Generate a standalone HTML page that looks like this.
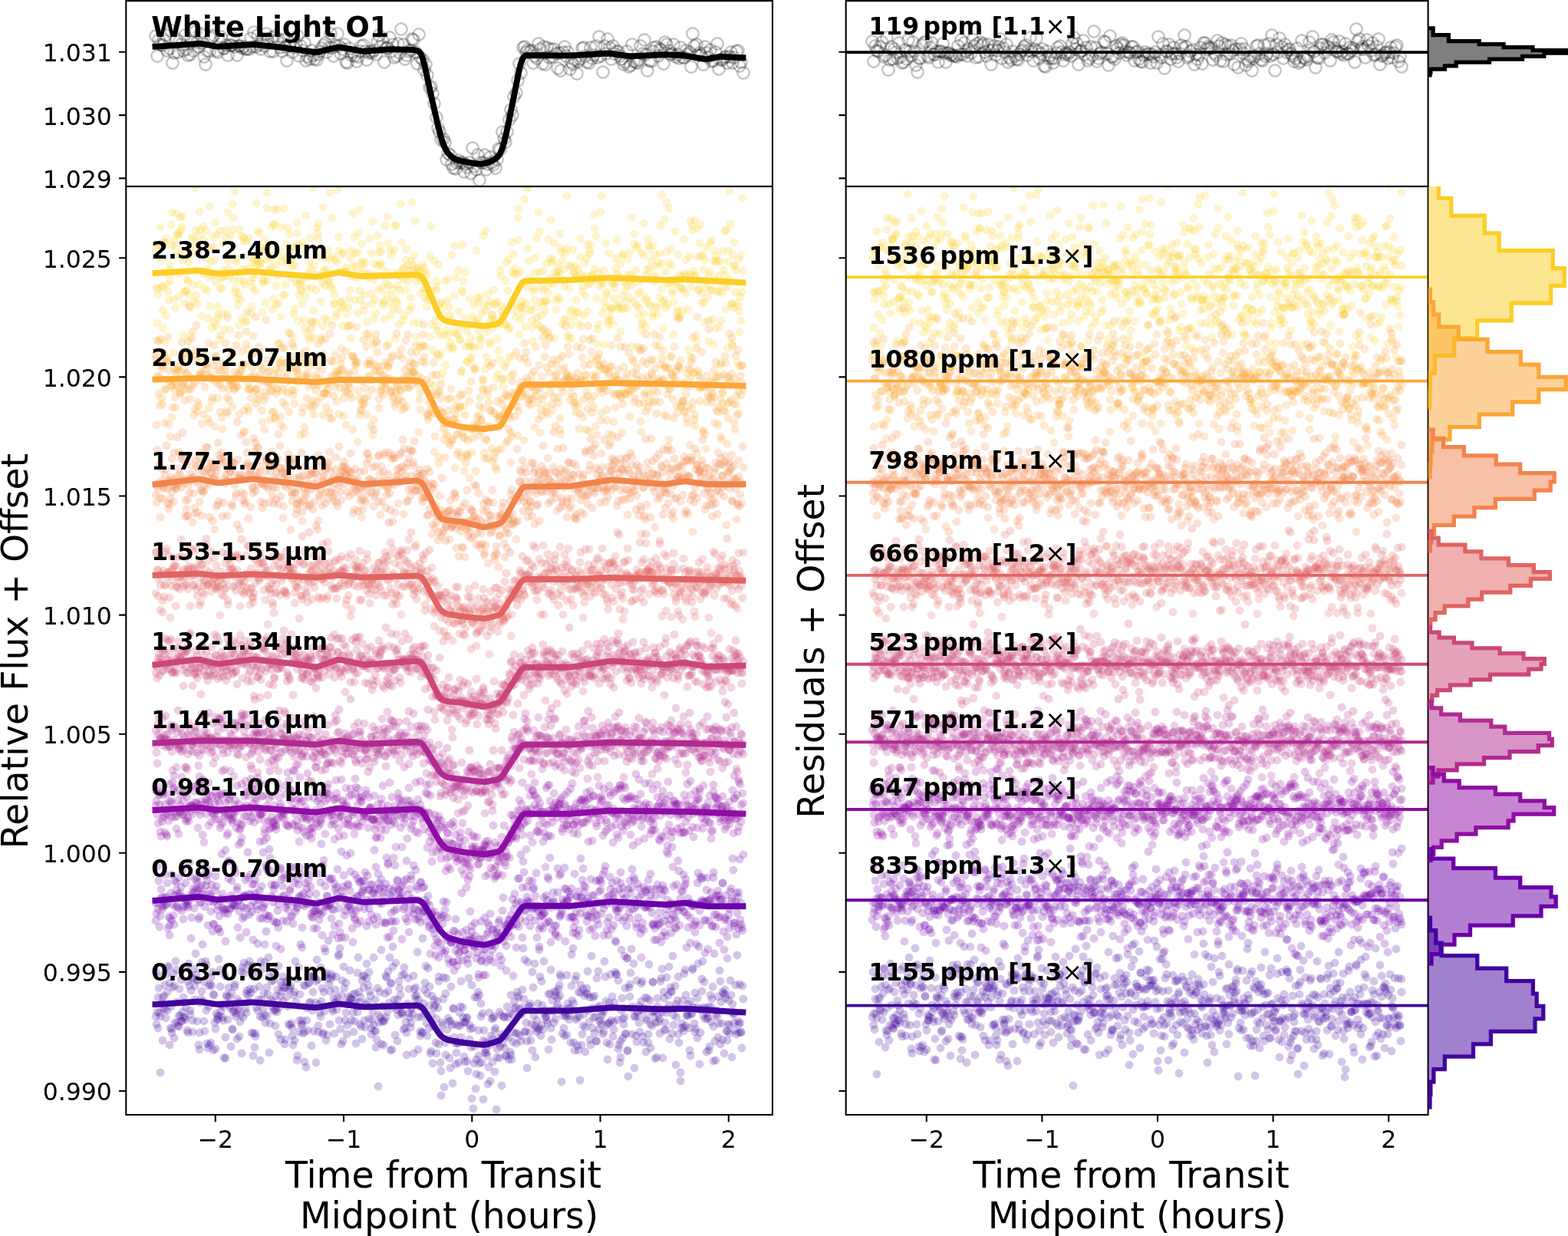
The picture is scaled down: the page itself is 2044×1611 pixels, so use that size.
<!DOCTYPE html><html><head><meta charset="utf-8"><style>html,body{margin:0;padding:0;background:#fff}svg{display:block}text{font-family:"DejaVu Sans","Liberation Sans",sans-serif}</style></head><body><svg width="2044" height="1611" viewBox="0 0 2044 1611"><rect width="2044" height="1611" fill="#fff"/><defs><clipPath id="clt"><rect x="164.3" y="1.1" width="842.7" height="241.9"/></clipPath><clipPath id="clb"><rect x="164.3" y="243.0" width="842.7" height="1210.0"/></clipPath><clipPath id="crt"><rect x="1102.7" y="1.1" width="758.8999999999999" height="241.9"/></clipPath><clipPath id="crb"><rect x="1102.7" y="243.0" width="758.8999999999999" height="1210.0"/></clipPath><clipPath id="cht"><rect x="1861.6" y="1.1" width="192.4000000000001" height="241.9"/></clipPath><clipPath id="chb"><rect x="1861.6" y="243.0" width="192.4000000000001" height="1210.0"/></clipPath><marker id="mw" markerUnits="userSpaceOnUse" overflow="visible" markerWidth="1" markerHeight="1"><circle r="7.7" fill="none" stroke="#000" stroke-opacity="0.23" stroke-width="2.4"/></marker><marker id="m0" markerUnits="userSpaceOnUse" overflow="visible" markerWidth="1" markerHeight="1"><circle r="5.45" fill="#fcce25" fill-opacity="0.23"/></marker><marker id="m1" markerUnits="userSpaceOnUse" overflow="visible" markerWidth="1" markerHeight="1"><circle r="5.45" fill="#fca636" fill-opacity="0.23"/></marker><marker id="m2" markerUnits="userSpaceOnUse" overflow="visible" markerWidth="1" markerHeight="1"><circle r="5.45" fill="#f2844b" fill-opacity="0.23"/></marker><marker id="m3" markerUnits="userSpaceOnUse" overflow="visible" markerWidth="1" markerHeight="1"><circle r="5.45" fill="#e16462" fill-opacity="0.23"/></marker><marker id="m4" markerUnits="userSpaceOnUse" overflow="visible" markerWidth="1" markerHeight="1"><circle r="5.45" fill="#cc4778" fill-opacity="0.23"/></marker><marker id="m5" markerUnits="userSpaceOnUse" overflow="visible" markerWidth="1" markerHeight="1"><circle r="5.45" fill="#b12a90" fill-opacity="0.23"/></marker><marker id="m6" markerUnits="userSpaceOnUse" overflow="visible" markerWidth="1" markerHeight="1"><circle r="5.45" fill="#8f0da4" fill-opacity="0.23"/></marker><marker id="m7" markerUnits="userSpaceOnUse" overflow="visible" markerWidth="1" markerHeight="1"><circle r="5.45" fill="#6a00a8" fill-opacity="0.23"/></marker><marker id="m8" markerUnits="userSpaceOnUse" overflow="visible" markerWidth="1" markerHeight="1"><circle r="5.45" fill="#41049d" fill-opacity="0.23"/></marker></defs><path d="M203 47l2 26 2-21 2 6 3 1 2-6 2-7 2 20 3-3 2-23 2 42 2-13 3-18 2 17 2-14 2 4 3 8 2-20 2 18 2 8 3-1 2-16 2 11 3-25 2 14 2 6 2-17 3 12 2 18 2 10 2-18 3 1 2-17 2-2 2-2 3 20 2 2 2-14 2-6 3 15 2 0 2-4 2 13 3-13 2 0 2-10 2 12 3 11 2-12 2 0 3 3 2-2 2 3 2 0 3 0 2-14 2 11 2-19 3 19 2-15 2 12 2 6 3-9 2 5 2-16 2 8 3 15 2-18 2 18 2-20 3 5 2-1 2 11 3 5 2-15 2 9 2 18 3-19 2-4 2 12 2-6 3-4 2-11 2 26 2-13 3 6 2-10 2 23 2-5 3 3 2-11 2 6 2 5 3 1 2-7 2-4 2-4 3-4 2-3 2 12 3-6 2-18 2 18 2 11 3-13 2-16 2 16 2 10 3-6 2-6 2 23 2 1 3-19 2 9 2-4 2 5 3 7 2-6 2-7 2-7 3-1 2 8 2 11 3-9 2-2 2 2 2-3 3 5 2-16 2-9 2 15 3-7 2 27 2-18 2-1 3-13 2 18 2-9 2 17 3-2 2-16 2 12 2-31 3 20 2 19 2-5 3-5 2-2 2-14 2 1 3 16 2 15 2-38 2 30 3 3 2 13 2-7 2 14 3 16 2-1 2 9 2 13 3 18 2 14 2 5 2 10 3-1 2 5 2 22 2-8 3 2 2 12 2 5 3 1 2-8 2-3 2 3 3 0 2 12 2-10 2 4 3-6 2 14 2-33 2 24 3 4 2-19 2 33 2-23 3 0 2-10 2 19 2-7 3-9 2 7 2 3 3 4 2-11 2-14 2 1 3-23 2 9 2 4 2-13 3-16 2-13 2 7 2-24 3-5 2-16 2-22 2 12 3-33 2-1 2 7 2-3 3 2 2-1 2 16 2-9 3 3 2-19 2 7 3 19 2-22 2 23 2-22 3 13 2-11 2 10 2-10 3 6 2 19 2-20 2 23 3-24 2-7 2 12 2-5 3 22 2-9 2 3 2-6 3 18 2-16 2-3 3-14 2-1 2 11 2 8 3 1 2-20 2 14 2-4 3-12 2 15 2-27 2 25 3 21 2-34 2 10 2-19 3 11 2 15 2-17 2 10 3-3 2 0 2 6 2 4 3 7 2-3 2-14 3 20 2-2 2-27 2 22 3 1 2 1 2-4 2-18 3 10 2-18 2 19 2 21 3-13 2 1 2-13 2-5 3-1 2 12 2-9 2 1 3 18 2-28 2 3 3 8 2 5 2-1 2-12 3 16 2-3 2 5 2-14 3 13 2 0 2-9 2 5 3-3 2 19 2-43 2 16 3-2 2 14 2-3 2 3 3 12 2-23 2 8 2 6 3-10 2 15 2-1 3-11 2-11 2 33 2-12 3 0 2-3 2-1 2 8 3-8 2-6 2 14 2-7 3-8 2-1 2 20 2-5 3 14" style="marker:url(#mw)" fill="none" stroke="none" clip-path="url(#clt)"/><path clip-path="url(#clt)" d="M202.5 60.7 L204.5 60.6 L206.5 60.5 L208.5 60.4 L210.5 60.2 L212.5 60.1 L214.5 60 L216.5 59.8 L218.5 59.7 L220.5 59.5 L222.5 59.4 L224.5 59.3 L226.5 59.1 L228.5 59 L230.5 58.8 L232.5 58.7 L234.5 58.6 L236.5 58.4 L238.5 58.3 L240.5 58.1 L242.5 58 L244.5 57.9 L246.5 57.7 L248.5 57.6 L250.5 57.5 L252.5 57.3 L254.5 57.2 L256.5 57 L258.5 56.9 L260.5 56.9 L262.5 57 L264.5 57.3 L266.5 57.6 L268.5 58 L270.5 58.4 L272.5 58.7 L274.5 59.1 L276.5 59.5 L278.5 59.8 L280.5 60.2 L282.5 60.5 L284.5 60.6 L286.5 60.6 L288.5 60.5 L290.5 60.4 L292.5 60.3 L294.5 60.1 L296.5 60 L298.5 59.9 L300.5 59.7 L302.5 59.6 L304.5 59.5 L306.5 59.4 L308.5 59.2 L310.5 59.1 L312.5 59 L314.5 58.9 L316.5 58.7 L318.5 58.6 L320.5 58.5 L322.5 58.3 L324.5 58.2 L326.5 58.1 L328.5 58 L330.5 58.1 L332.5 58.2 L334.5 58.4 L336.5 58.6 L338.5 58.8 L340.5 59 L342.5 59.2 L344.5 59.4 L346.5 59.6 L348.5 59.8 L350.5 60 L352.5 60.3 L354.5 60.5 L356.5 60.7 L358.5 60.9 L360.5 61.1 L362.5 61.3 L364.5 61.6 L366.5 61.8 L368.5 62.1 L370.5 62.4 L372.5 62.7 L374.5 63 L376.5 63.3 L378.5 63.5 L380.5 63.8 L382.5 64.1 L384.5 64.4 L386.5 64.7 L388.5 64.9 L390.5 65.2 L392.5 65.5 L394.5 65.8 L396.5 66.1 L398.5 66.4 L400.5 66.6 L402.5 66.9 L404.5 67.2 L406.5 67.5 L408.5 67.8 L410.5 68 L412.5 68 L414.5 67.7 L416.5 67.3 L418.5 66.8 L420.5 66.3 L422.5 65.8 L424.5 65.3 L426.5 64.9 L428.5 64.4 L430.5 63.9 L432.5 63.4 L434.5 62.9 L436.5 62.5 L438.5 62 L440.5 61.7 L442.5 61.6 L444.5 61.9 L446.5 62.2 L448.5 62.5 L450.5 62.9 L452.5 63.2 L454.5 63.6 L456.5 63.9 L458.5 64.3 L460.5 64.6 L462.5 65 L464.5 65.3 L466.5 65.6 L468.5 66 L470.5 66.3 L472.5 66.6 L474.5 66.8 L476.5 66.8 L478.5 66.6 L480.5 66.5 L482.5 66.3 L484.5 66.1 L486.5 66 L488.5 65.8 L490.5 65.6 L492.5 65.5 L494.5 65.3 L496.5 65.1 L498.5 65 L500.5 64.8 L502.5 64.6 L504.5 64.5 L506.5 64.3 L508.5 64.3 L510.5 64.3 L512.5 64.3 L514.5 64.4 L516.5 64.4 L518.5 64.5 L520.5 64.5 L522.5 64.6 L524.5 64.6 L526.5 64.7 L528.5 64.7 L530.5 64.8 L532.5 64.8 L534.5 64.9 L536.5 64.9 L538.5 65 L540.5 65.3 L542.5 65.7 L544.5 66.3 L546.5 67.5 L548.5 70 L550.5 74.5 L552.5 81.4 L554.5 89.9 L556.5 99 L558.5 108.1 L560.5 117.3 L562.5 126.4 L564.5 135.5 L566.5 144.4 L568.5 153.2 L570.5 161.7 L572.5 169.8 L574.5 177.3 L576.5 183.8 L578.5 189.3 L580.5 193.7 L582.5 197.2 L584.5 200 L586.5 202.2 L588.5 204.1 L590.5 205.7 L592.5 207.1 L594.5 208 L596.5 208.6 L598.5 209.2 L600.5 209.7 L602.5 210.2 L604.5 210.6 L606.5 211 L608.5 211.3 L610.5 211.7 L612.5 212 L614.5 212.4 L616.5 212.8 L618.5 213.2 L620.5 213.4 L622.5 213.6 L624.5 213.6 L626.5 213.6 L628.5 213.5 L630.5 213.2 L632.5 212.8 L634.5 212.3 L636.5 211.8 L638.5 211.1 L640.5 210.1 L642.5 209 L644.5 207.9 L646.5 206.5 L648.5 204.7 L650.5 202.2 L652.5 198.8 L654.5 194.1 L656.5 187.8 L658.5 180.1 L660.5 171.4 L662.5 162.1 L664.5 152.4 L666.5 142.5 L668.5 132.5 L670.5 122.5 L672.5 112.5 L674.5 102.5 L676.5 92.8 L678.5 84.2 L680.5 78.1 L682.5 74.5 L684.5 72.9 L686.5 72.4 L688.5 72.3 L690.5 72.3 L692.5 72.3 L694.5 72.3 L696.5 72.3 L698.5 72.3 L700.5 72.3 L702.5 72.3 L704.5 72.3 L706.5 72.3 L708.5 72.3 L710.5 72.3 L712.5 72.3 L714.5 72.4 L716.5 72.4 L718.5 72.4 L720.5 72.4 L722.5 72.4 L724.5 72.4 L726.5 72.4 L728.5 72.4 L730.5 72.4 L732.5 72.4 L734.5 72.4 L736.5 72.4 L738.5 72.4 L740.5 72.4 L742.5 72.4 L744.5 72.3 L746.5 72.2 L748.5 72.1 L750.5 72 L752.5 71.9 L754.5 71.8 L756.5 71.6 L758.5 71.5 L760.5 71.4 L762.5 71.3 L764.5 71.2 L766.5 71.1 L768.5 70.9 L770.5 70.8 L772.5 70.7 L774.5 70.6 L776.5 70.5 L778.5 70.4 L780.5 70.2 L782.5 70.1 L784.5 70 L786.5 69.9 L788.5 69.8 L790.5 69.7 L792.5 69.6 L794.5 69.7 L796.5 70 L798.5 70.2 L800.5 70.5 L802.5 70.7 L804.5 71 L806.5 71.3 L808.5 71.5 L810.5 71.8 L812.5 72 L814.5 72.3 L816.5 72.6 L818.5 72.8 L820.5 73.1 L822.5 73.2 L824.5 73.2 L826.5 73.1 L828.5 73 L830.5 72.9 L832.5 72.8 L834.5 72.7 L836.5 72.6 L838.5 72.5 L840.5 72.4 L842.5 72.4 L844.5 72.3 L846.5 72.2 L848.5 72.1 L850.5 72 L852.5 71.9 L854.5 71.8 L856.5 71.7 L858.5 71.6 L860.5 71.5 L862.5 71.4 L864.5 71.3 L866.5 71.3 L868.5 71.3 L870.5 71.3 L872.5 71.4 L874.5 71.5 L876.5 71.6 L878.5 71.7 L880.5 71.8 L882.5 71.9 L884.5 72 L886.5 72.1 L888.5 72.2 L890.5 72.3 L892.5 72.5 L894.5 72.8 L896.5 73.1 L898.5 73.4 L900.5 73.8 L902.5 74.1 L904.5 74.5 L906.5 74.8 L908.5 75.2 L910.5 75.5 L912.5 75.9 L914.5 76.2 L916.5 76.6 L918.5 76.9 L920.5 77.1 L922.5 77 L924.5 76.7 L926.5 76.3 L928.5 75.8 L930.5 75.4 L932.5 74.9 L934.5 74.5 L936.5 74.1 L938.5 73.9 L940.5 73.9 L942.5 73.9 L944.5 74 L946.5 74.1 L948.5 74.2 L950.5 74.4 L952.5 74.5 L954.5 74.6 L956.5 74.7 L958.5 74.8 L960.5 74.9 L962.5 75 L964.5 75.1 L966.5 75.2 L968.5 75.2" fill="none" stroke="#000" stroke-width="7.875" stroke-linejoin="round" stroke-linecap="square"/><path d="M1137 54l2 26 2-20 2 6 2 1 2-6 3-6 2 19 2-2 2-23 2 42 2-13 2-17 2 16 2-13 2 4 2 8 2-20 2 18 2 8 2-1 2-16 2 12 2-25 2 15 2 6 2-18 2 12 2 18 2 9 2-18 2 0 2-17 2-3 3-2 2 19 2 2 2-13 2-6 2 15 2 0 2-4 2 14 2-14 2 0 2-10 2 12 2 12 2-12 2 0 2 3 2-1 2 2 2 0 2 1 2-14 2 11 2-19 2 19 2-15 2 11 2 6 2-9 3 5 2-17 2 8 2 15 2-18 2 17 2-19 2 4 2-2 2 11 2 5 2-15 2 8 2 18 2-19 2-5 2 12 2-6 2-5 2-10 2 25 2-13 2 5 2-10 2 23 2-6 2 3 2-11 3 6 2 4 2 1 2-7 2-4 2-2 2-4 2-2 2 13 2-6 2-17 2 18 2 12 2-14 2-15 2 17 2 9 2-6 2-6 2 22 2 1 2-20 2 9 2-4 2 4 2 6 2-6 2-7 2-7 3-2 2 8 2 11 2-8 2-2 2 2 2-3 2 5 2-16 2-8 2 15 2-7 2 27 2-17 2-1 2-13 2 18 2-9 2 17 2-3 2-15 2 11 2-31 2 21 2 18 2-4 2-6 2-2 3-14 2 1 2 15 2 15 2-38 2 27 2 0 2 3 2-17 2 3 2 6 2-11 2-2 2 3 2 8 2 5 2-4 2 1 2-8 2 0 2 18 2-11 2-1 2 10 2 3 2 1 2-9 2-4 2 3 3-1 2 12 2-11 2 3 2-6 2 14 2-34 2 24 2 3 2-18 2 32 2-22 2 0 2-9 2 19 2-7 2-8 2 8 2 5 2 5 2-10 2-11 2 4 2-17 2 15 2 14 2-2 2-6 3-2 2 19 2-13 2 6 2-5 2-10 2 21 2-27 2 0 2 8 2-3 2 2 2-1 2 16 2-9 2 3 2-19 2 7 2 19 2-23 2 24 2-22 2 13 2-11 2 10 2-11 2 7 2 18 2-20 3 24 2-24 2-7 2 12 2-5 2 21 2-8 2 3 2-6 2 18 2-16 2-3 2-13 2-1 2 11 2 8 2 1 2-20 2 14 2-3 2-13 2 16 2-27 2 25 2 21 2-34 2 10 2-18 3 11 2 15 2-18 2 10 2-3 2-1 2 6 2 3 2 7 2-4 2-13 2 19 2-2 2-27 2 22 2 1 2 2 2-5 2-18 2 10 2-17 2 19 2 21 2-13 2 1 2-13 2-5 2 0 2 11 3-9 2 2 2 17 2-27 2 3 2 8 2 4 2 0 2-13 2 16 2-3 2 5 2-15 2 13 2 0 2-8 2 4 2-3 2 18 2-43 2 16 2-3 2 13 2-3 2 3 2 11 2-23 2 8 3 6 2-10 2 16 2-1 2-10 2-10 2 33 2-11 2-1 2-3 2-1 2 8 2-8 2-6 2 13 2-6 2-8 2-2 2 21 2-6 2 13" style="marker:url(#mw)" fill="none" stroke="none" clip-path="url(#crt)"/><line x1="1102.7" x2="1861.6" y1="68.1" y2="68.1" stroke="#000" stroke-width="3.94"/><path d="M203 331l0-11 1 55 1 46 1-37 0-8 1 69 1-125 1-24 0 24 1 20 1 33 1 31 0-29 1 53 1-112 1 130 0-130 1 95 1-101 1 61 0-14 1 23 1 11 1-46 0 7 1 14 1-73 1 27 0-43 1 78 1 105 1-70 0-77 1 8 1 80 1-69 0-54 1 28 1-2 1 2 0 80 1-29 1-74 1 45 0-28 1-4 1-14 1 155 0-98 1 42 1 14 1-60 0 44 1 0 1-15 1 93 0-90 1-25 1 42 1 54 0-37 1-71 1-18 1-3 0 13 1 49 1 22 1-148 0 107 1-52 1 85 1 11 0-80 1 15 1-24 1 64 0-95 1 23 1 21 1 92 0 56 1-114 1-59 1 62 0-45 1 64 1-75 1 36 0 17 1 25 1-28 1 64 0-54 1-92 1 130 1-58 0-18 1 104 1-119 1 51 0-37 1 98 1-81 1 28 0-77 1 135 1-119 1 94 0 10 1 5 1 28 1-142 0 75 1-13 1 13 1 33 0-48 1-44 1 35 1 77 1-129 0 60 1-51 1 100 1-132 0 63 1 10 1 11 1 107 0-38 1-123 1 151 1-159 0-33 1 18 1 81 1 16 0-131 1 126 1-34 1 47 0-52 1 61 1-16 1-83 0 125 1-59 1 25 1 25 0-107 1 43 1-36 1-5 0 57 1 4 1 47 1 2 0-67 1-39 1 193 1-51 0-107 1-39 1 24 1 33 0 41 1-8 1-25 1-33 0 20 1-23 1 18 1-8 0 30 1-114 1 73 1 2 0-39 1 45 1-42 1 19 0 18 1 2 1-16 1 80 0-43 1 6 1-4 1-43 0-10 1 82 1-57 1-67 0-20 1 115 1-46 1 32 0-22 1 6 1 12 1-52 0 59 1 48 1-14 1-116 0 19 1 1 1 52 1 52 0-25 1-99 1 86 1 36 0-60 1 112 1-121 1 87 0 56 1-173 1 46 1 43 0 125 1-238 1 112 1-13 0-34 1-19 1 15 1 10 0-46 1 136 1-128 1 33 0-12 1 12 1 25 1-41 0 25 1 93 1-31 1-64 0 57 1-80 1 47 1-78 0 13 1 14 1 100 1-48 0 15 1-19 1 11 1 2 1 17 0-29 1-51 1 6 1 95 0 10 1-41 1-105 1 154 0-60 1-19 1 5 1-19 0 102 1-4 1-130 1 41 0 24 1 46 1-176 1 160 0 35 1-95 1 13 1 62 0-42 1-81 1 7 1 7 0-19 1 67 1-24 1 26 0 32 1 51 1-75 1-99 0 155 1-72 1 61 1-78 0 36 1-21 1 5 1 62 0-92 1 39 1 2 1-29 0-87 1 122 1-152 1 63 0 50 1 42 1 21 1-2 0-11 1-46 1 75 1-71 0 66 1-160 1 61 1 18 0 27 1-113 1 153 1 8 0-9 1-62 1 94 1-96 0 70 1-46 1 2 1-6 0 6 1 54 1 16 1 0 0-25 1-11 1-11 1 63 0-105 1-9 1 33 1-82 0 68 1 9 1-46 1 21 0 61 1-44 1 15 1 46 0-79 1-25 1 53 1 22 0-106 1 118 1-47 1-4 0-22 1 32 1 55 1-21 0 14 1-56 1 93 1-15 0-62 1-124 1 128 1 129 0-134 1-46 1 130 1-111 0 53 1 13 1-107 1 76 0 51 1-72 1 46 1-32 0 50 1 39 1-140 1 39 1 32 0-49 1-9 1 23 1 3 0-18 1 47 1 23 1-3 0-3 1 24 1-122 1 60 0 14 1 16 1-102 1 167 0-132 1 55 1 22 1 17 0-85 1 7 1 44 1 10 0 15 1-46 1-30 1-31 0 147 1-149 1 99 1-20 0 23 1 9 1 19 1-67 0 22 1-112 1 95 1-45 0 35 1 67 1-54 1 47 0-62 1 29 1-39 1-102 0 88 1 21 1 20 1-7 0-6 1 51 1-16 1-48 0 60 1-136 1 81 1 6 0 70 1-88 1-45 1 79 0 72 1-90 1 5 1-5 0 12 1 60 1 32 1-71 0-27 1 94 1-83 1-1 0-20 1 4 1 28 1-23 0 35 1-13 1 24 1-43 0 10 1 23 1-7 1 4 0 52 1-105 1-39 1 128 0-44 1 78 1-67 1-50 0 162 1-84 1-39 1-12 0 64 1-57 1 52 1 39 0-120 1 51 1 41 1 57 0-34 1-66 1 92 1-86 0 10 1 26 1-70 1 199 0-89 1-46 1-38 1-28 0 73 1 16 1-52 1 10 0 36 1-30 1-85 1 120 1-20 0 23 1-70 1-65 1 42 0 73 1 85 1 13 1-97 0-84 1 54 1 37 1 0 0-17 1 60 1-107 1-60 0 62 1-14 1 162 1-115 0-59 1 97 1 19 1-46 0 7 1 40 1-24 1-58 0 61 1 17 1-28 1 25 0-14 1-39 1 5 1 36 0-56 1 82 1 3 1-155 0 94 1-33 1 6 1 37 0-15 1 35 1-11 1 2 0-55 1 21 1 86 1-187 0 200 1-109 1 83 1-180 0 104 1 60 1-33 1 41 0-90 1 15 1-5 1 55 0-2 1-28 1-7 1-1 0 18 1-50 1 42 1-4 0-19 1-1 1 97 1-100 0 49 1 45 1-30 1-34 0 46 1-117 1 8 1 39 0 7 1 5 1 93 1-10 0-84 1 13 1-57 1 57 0-81 1 130 1-93 1 50 0-91 1 127 1-38 1 63 0-92 1-82 1 39 1-24 0 133 1-106 1-8 1 63 0-17 1 9 1-48 1-73 0 29 1-41 1 164 1-19 0-63 1 46 1 1 1-3 0-6 1 16 1-38 1-110 0-26 1 192 1-31 1-149 0 128 1-50 1 16 1-98 1 161 0-41 1 43 1 13 1 9 0 18 1-65 1-4 1-40 0 55 1-36 1-45 1 113 0-23 1-162 1 39 1 78 0-53 1 123 1-50 1 18 0 18 1 19 1-77 1 43 0-18 1 27 1-12 1 42 0-43 1-49 1 29 1-60 0 70 1 57 1-102 1-50 0 75 1-20 1 24 1-28 0 32 1-53 1 124 1-86 0 36 1 12 1-44 1 29 0-34 1-9 1 10 1 35 0-85 1 18 1 5 1 11 0 83 1-57 1-14 1 22 0 44 1-87 1 85 1-160 0 69 1 113 1 4 1-65 0-30 1 60 1-59 1 94 0-18 1-20 1-77 1 87 0-58 1 1 1-9 1 14 0 30 1 16 1 0 1 122 0-178 1 71 1-87 1 23 0-47 1 114 1-45 1-7 0-11 1 49 1-68 1 43 0 102 1-128 1-23 1-18 0 87 1-35 1-40 1-4 0 42 1-50 1 149 1-110 0 1 1 4 1-83 1 18 0 52 1 16 1-58 1 140 0-59 1 40 1-6 1-67 0 127 1-110 1-97 1-21 0 112 1 41 1-38 1 79 0-97 1 41 1 8 1-84 1 64 0 3 1 34 1 6 1-11 0-83 1 71 1 16 1-49 0 34 1 1 1 20 1-53 0 19 1-13 1-7 1-32 0 13 1-37 1 44 1 42 0-3 1 6 1-41 1 71 0-88 1 59 1-17 1-55 0 2 1 69 1-34 1 11 0 134 1-120 1-21 1 30 0-64 1 20 1 30 1-60 0 37 1-7 1 14 1-89 0 168 1-88 1 30 1-75 0-13 1 63 1-16 1 46 0-75 1-3 1 63 1 18 0 10 1-45 1 14 1-50 0 100 1-8 1-2 1-129 0 118 1-76 1 58 1-3 0 38 1-68 1-7 1-31 0-9 1 84 1-71 1 75 0-50 1-9 1 73 1-5 0-88 1 39 1 8 1 32 0-67 1 15 1 15 1 38 0 10 1-68 1 109 1-63 0-58 1-36 1 50 1-90 0 122 1 18 1 34 1-37 0-105 1 68 1 47 1-137 0 64 1 69 1-27 1-98 0 71 1 25 1 98 1-120 0-22 1 55 1 4 1 11 0 42 1-72 1-62 1 67 0-1 1 45 1-6 1-75 0 72 1 11 1-57 1 54 0-37 1 0 1-15 1 45 1 99 0-126 1-66 1 44 1-17 0 43 1-22 1 128 1-85 0 53 1-122 1 23 1 108 0-177 1 86 1-80 1 146 0-140 1 53 1 6 1-72 0 198 1-126 1 87 1-111 0-37 1 80 1-1 1 130 0-190 1-24 1 41 1 48 0 13 1-63 1 19 1 43 0 26 1-81 1 35 1-138 0 86 1 66 1-21 1-8 0 86 1-91 1-38 1 62 0 0 1-65 1 103 1 33 0-109 1-13 1 37 1 64 0-87 1-7 1 6 1 40 0-1 1-19 1 66 1 50 0-135 1 77 1-36 1 130 0-185 1 25 1 22 1-73 0 58 1 44 1-103 1 75 0 79 1-113 1-15 1-77 0 115 1-72 1 104 1 52 0-52 1-64 1 69 1-54 0-31 1 30 1 35 1-29 0 43 1 77 1-73 1 7 0-68 1 95 1-46 1 31 0-85 1 48 1-123 1 95" style="marker:url(#m0)" fill="none" stroke="none" clip-path="url(#clb)"/><path d="M203 467l0-5 1 92 1-110 1 46 0 1 1 22 1 16 1-87 0 35 1-5 1 47 1 8 0-46 1-4 1-16 1 46 0 44 1-43 1-37 1-4 0 4 1-32 1 114 1-56 0-14 1 86 1-67 1 42 0-40 1 27 1-34 1-15 0 26 1 10 1 13 1-30 0-15 1-4 1 22 1-26 0 5 1 29 1 2 1-3 0-42 1-23 1 57 1-5 0-17 1 20 1 21 1-35 0 20 1-46 1 25 1-20 0-21 1 63 1-109 1 93 0 28 1-13 1-65 1 60 0-70 1 32 1 77 1-42 0 34 1-76 1-33 1 44 0 68 1-12 1 5 1-41 0 2 1-4 1 104 1-94 0 56 1-65 1 53 1-83 0 20 1 28 1-31 1 6 0 8 1-13 1 71 1-14 0-85 1 104 1-59 1 1 0-5 1 35 1-5 1-42 0 20 1-46 1 106 1-91 0-1 1 6 1 29 1 20 0-37 1 13 1-12 1 54 0-35 1-65 1 107 1-38 0 53 1-85 1 4 1 11 1-42 0 35 1 55 1-19 1-104 0 124 1-31 1 15 1-26 0 5 1-4 1-1 1-36 0 70 1-28 1 6 1-2 0-21 1 8 1-43 1 54 0 0 1-17 1-50 1 103 0-51 1 5 1-10 1-9 0 6 1-23 1 17 1 89 0-29 1 27 1-88 1-42 0 17 1-42 1 124 1 5 0-37 1 9 1-1 1-16 0 28 1-58 1 19 1 10 0-52 1 23 1 49 1-3 0-94 1 113 1-19 1 14 0-28 1 22 1-63 1 36 0-28 1 18 1 57 1 15 0-53 1-16 1 41 1-11 0 49 1-43 1-100 1 81 0-13 1-16 1 32 1-3 0-14 1 63 1-38 1 1 0-8 1 35 1-78 1 78 0-49 1 58 1-2 1-31 0-32 1 25 1 3 1-61 0 38 1-13 1 70 1 11 0-81 1 6 1-26 1 53 0 18 1 33 1-103 1 74 0-36 1-19 1 13 1-14 0 40 1-15 1 40 1-57 0-45 1 29 1 45 1-61 0 24 1 43 1-63 1 74 0-17 1-31 1 18 1-15 0 3 1 3 1 11 1-3 0-22 1-8 1 102 1-106 1 32 0 45 1-7 1-57 1 91 0-8 1-69 1-31 1 62 0-27 1-4 1-17 1 7 0 26 1 24 1-99 1-10 0 112 1-61 1 52 1-20 0 38 1-11 1-40 1 4 0 16 1 15 1-46 1-30 0 54 1-5 1-4 1-28 0 53 1-78 1 42 1 59 0-80 1 51 1 1 1-1 0-70 1 89 1-29 1 12 0-6 1-9 1 39 1 7 0-110 1 36 1 20 1-67 0 122 1-75 1 45 1-12 0-15 1-26 1 21 1 15 0 24 1-34 1-6 1 5 0 52 1-34 1-32 1-20 0 28 1-16 1 16 1 60 0-23 1-15 1 6 1 44 0-96 1 53 1-22 1 12 0-2 1-13 1 28 1-90 0 82 1 13 1-55 1 0 0 96 1-94 1 18 1-13 0 5 1-2 1-48 1 150 0-104 1 37 1-15 1 47 0-22 1 15 1 1 1-11 0-27 1 30 1-84 1 83 0-6 1-14 1-54 1 89 0-67 1 43 1-82 1 55 0-15 1-5 1 4 1 81 0-60 1 13 1 59 1-118 0 98 1-63 1-9 1 8 0-47 1 9 1 14 1 19 1 42 0 12 1-48 1 25 1 2 0-22 1 15 1-27 1 38 0-26 1 9 1 7 1-4 0-29 1-21 1 43 1-17 0 2 1 14 1-20 1 38 0-1 1-44 1 43 1-45 0 56 1-3 1-21 1 30 0 4 1-19 1-76 1 66 0 2 1 20 1-60 1 57 0-12 1 2 1-55 1 12 0 67 1-10 1-31 1 39 0-27 1-23 1-38 1 86 0-39 1 13 1-68 1 42 0 28 1-18 1-17 1-12 0 44 1-19 1 1 1 1 0-12 1 11 1-10 1 22 0-47 1 9 1 38 1-7 0 11 1 62 1-42 1 13 0-23 1-18 1-22 1-35 0 16 1-29 1 42 1-14 0 22 1 33 1-11 1 44 0 2 1 6 1-4 1-18 0-25 1 34 1-22 1 4 0 21 1-48 1-16 1 66 0 50 1-20 1 89 1-170 0 27 1-53 1 49 1 93 0-8 1-86 1 25 1-16 0-17 1 37 1-2 1 15 0 6 1 15 1 23 1-48 0-4 1 8 1 15 1-19 0-28 1 15 1 42 1-58 0 61 1-73 1 67 1-1 1-26 0 6 1-7 1 64 1-70 0-10 1 37 1 25 1-26 0-15 1 38 1-58 1-1 0-15 1 81 1-113 1 31 0 51 1 5 1 44 1-43 0-30 1 62 1-11 1 4 0-3 1-19 1-65 1 14 0 100 1-64 1-62 1 62 0 31 1-19 1-13 1-77 0 79 1-7 1 61 1-56 0-2 1-12 1 10 1 13 0-26 1-12 1-11 1 44 0-15 1 1 1-40 1 24 0-36 1 94 1 8 1-26 0-17 1 19 1-65 1 5 0 83 1-73 1 32 1-21 0-58 1 58 1 50 1 16 0-128 1 32 1 33 1 52 0 7 1 12 1 3 1-70 0-19 1 64 1-40 1 10 0-13 1-1 1 42 1-65 0-26 1 33 1 25 1-15 0 4 1-63 1 36 1 63 0-43 1-18 1 58 1-57 0 42 1-19 1 5 1 19 0 39 1-34 1-72 1-10 0 25 1 3 1 28 1-24 0 4 1-64 1 53 1 18 0 38 1-32 1-25 1-44 0 38 1-1 1-6 1 8 0 11 1-2 1 59 1-107 0-20 1 66 1-54 1 34 0 4 1-24 1 53 1-5 1-17 0 16 1 8 1-39 1 30 0-15 1-5 1-15 1 73 0-47 1-58 1 64 1-102 0 94 1 17 1 22 1-41 0-30 1 88 1-30 1 8 0-51 1 29 1-80 1 75 0-86 1 36 1-15 1 87 0-7 1-51 1 61 1-38 0-69 1 53 1-45 1 60 0 10 1-37 1 52 1 8 0-65 1 49 1-22 1-6 0 65 1-79 1 11 1 10 0 21 1 7 1-57 1 77 0 15 1 6 1-61 1-23 0-18 1 47 1-14 1 0 0-18 1-54 1 65 1 4 0-7 1-35 1 38 1 4 0-32 1 59 1-23 1 6 0 9 1-22 1 6 1 20 0 8 1 4 1-36 1 32 0 13 1-86 1 34 1 12 0 1 1 60 1-20 1-44 0 0 1-42 1 13 1 78 0-102 1 78 1-44 1 13 0 7 1 64 1-49 1 5 0 17 1-108 1 137 1-119 0 32 1 47 1-64 1-17 0 97 1-49 1 42 1-15 0-23 1 63 1-65 1 76 0-98 1-3 1 10 1 31 0-46 1 15 1 72 1-42 0 32 1-26 1-32 1-6 0 32 1-4 1-20 1-1 1 67 0-14 1-25 1-21 1-3 0 81 1-87 1 98 1-100 0-27 1 117 1-71 1 54 0-36 1-23 1 40 1-41 0 24 1-19 1-54 1 72 0-31 1 13 1 18 1-61 0 65 1 2 1 45 1-37 0-16 1-33 1 21 1-47 0 61 1-20 1-6 1 13 0 14 1-6 1-48 1 83 0-43 1 10 1-11 1-31 0 40 1-22 1-15 1 32 0 21 1-5 1-14 1-26 0 9 1 7 1-43 1 74 0-24 1-45 1 92 1 14 0-107 1 37 1-22 1 54 0-71 1 61 1-3 1 24 0-100 1 38 1 18 1 39 0-29 1 22 1-10 1-45 0 26 1-9 1 3 1-20 0 55 1-15 1-73 1 87 0-43 1-30 1 89 1-41 0 13 1-17 1 4 1-59 0 85 1-49 1 24 1-3 0-29 1-10 1 37 1 47 0-64 1 2 1 23 1-22 0 63 1-29 1 68 1-75 0 66 1-93 1 27 1-43 0 23 1 2 1 31 1 25 0-54 1-39 1 48 1-5 0-11 1 45 1 9 1-60 0-1 1-62 1 65 1 49 0-59 1 61 1-7 1-2 1 1 0-24 1 37 1 1 1-23 0-13 1 44 1 7 1-71 0 49 1-26 1 76 1-88 0-10 1-10 1 61 1-66 0 57 1-38 1 61 1 8 0-14 1-103 1 16 1-41 0 178 1-108 1 6 1 15 0 19 1-31 1 13 1-2 0-44 1 104 1-2 1-57 0-5 1 67 1 19 1-80 0 19 1-34 1 25 1-97 0 11 1 90 1-22 1 20 0-11 1 18 1-11 1-15 0 20 1-36 1 69 1-79 0 19 1 44 1-43 1 45 0 17 1-23 1-41 1 79 0-49 1-47 1 100 1-62 0 15 1 9 1-47 1 48 0-72 1 9 1 19 1 87 0-53 1 19 1-54 1 33 0-89 1 62 1 24 1-34 0-47 1 11 1 76 1 24 0-57 1 66 1-97 1 64 0-11 1 25 1-85 1 83 0-29 1-33 1 13 1 8 0 17 1-38 1-1 1 32" style="marker:url(#m1)" fill="none" stroke="none" clip-path="url(#clb)"/><path d="M203 632l0 13 1 10 1-69 1 44 0 8 1-5 1-28 1 44 0 25 1-47 1-16 1 39 0-19 1 3 1 2 1-17 0 11 1-18 1-31 1 75 0-19 1-9 1 35 1-37 0 31 1-7 1-28 1-24 0 43 1-7 1 20 1-64 0 35 1 9 1 3 1-6 0 5 1-66 1 50 1-9 0-22 1 41 1-12 1-20 0-6 1 43 1-71 1 61 0-26 1 31 1 44 1-22 0-27 1 39 1 9 1-22 0 21 1-40 1 10 1-18 0-7 1 10 1-21 1 17 0 58 1-38 1-22 1 48 0-7 1-63 1 9 1 60 0-41 1 3 1-18 1-15 0 57 1-49 1 34 1 33 0-33 1-18 1 21 1-2 0-25 1 18 1-37 1-13 0 30 1-30 1 28 1 13 0 8 1 42 1-69 1 11 0 0 1-13 1 76 1-70 0 14 1 1 1 66 1-69 0-11 1 50 1-47 1-36 0 81 1-5 1-60 1 5 0 30 1-24 1-14 1 8 0 75 1-18 1-54 1 23 1 6 0-11 1 8 1 45 1-61 0-3 1 18 1-16 1 5 0 0 1-14 1 56 1-48 0 51 1-56 1-1 1 29 0-13 1 28 1-4 1 41 0-134 1 49 1 25 1-5 0 4 1 67 1-123 1 75 0-23 1 6 1 27 1-29 0 21 1 13 1-3 1-78 0 31 1-17 1 13 1 15 0 58 1-69 1 8 1 3 0 43 1-53 1 26 1 9 0-6 1-66 1 18 1 51 0-63 1 39 1-32 1 48 0-11 1-38 1 33 1-21 0 13 1 46 1-24 1 1 0 31 1-37 1 31 1-23 0-3 1-16 1-12 1-5 0 3 1 37 1-3 1-32 0 53 1-48 1 7 1-25 0 14 1 43 1-11 1-27 0 48 1-33 1 3 1 25 0-15 1-20 1-18 1 59 0-91 1 43 1-28 1 29 0 37 1-30 1-2 1 9 0 51 1-15 1-28 1-22 0 6 1 19 1-15 1 3 0-23 1-8 1 7 1 34 0-29 1 87 1-50 1 3 0 9 1-51 1-4 1 24 0 21 1-1 1 28 1-6 0-8 1 2 1-21 1 15 0-28 1-3 1 34 1-65 1 77 0 12 1-59 1 32 1-15 0-28 1 34 1 4 1 12 0-33 1 12 1-19 1 41 0-28 1 25 1-39 1 20 0-25 1 4 1 47 1-33 0 3 1 20 1-38 1 69 0-68 1 9 1 64 1-97 0 86 1-34 1 3 1-40 0 31 1-37 1 57 1-32 0-10 1 4 1 7 1 28 0-15 1-29 1-3 1-4 0 45 1-8 1-40 1-13 0 39 1-14 1 28 1-17 0 12 1 11 1 5 1-31 0 22 1-32 1-16 1 35 0 24 1 5 1-37 1-41 0 51 1-13 1 21 1 11 0-38 1-6 1 8 1-7 0-8 1 30 1-23 1 11 0-1 1-7 1 30 1-26 0 10 1 22 1-24 1-32 0 24 1 1 1 27 1 26 0-36 1-8 1 39 1-53 0 25 1 4 1-13 1-3 0 9 1 33 1-23 1-28 0 22 1 16 1 21 1-24 0-15 1 29 1-12 1-18 0-20 1 18 1 22 1-50 0-13 1 52 1-51 1 6 0 27 1-1 1 7 1 3 0 8 1-15 1-18 1-49 0 100 1-12 1-4 1-16 0-21 1 33 1-13 1-32 1 59 0-61 1 24 1 54 1-63 0 24 1 22 1-26 1-35 0 22 1 11 1-36 1 72 0-27 1 10 1-11 1 2 0-18 1-28 1 53 1-16 0 38 1-67 1 32 1 50 0-87 1 4 1 35 1 36 0-71 1 30 1-6 1-9 0 7 1 37 1-27 1-36 0 17 1 17 1-37 1 18 0 7 1-42 1 97 1-85 0 41 1-6 1-11 1 45 0-28 1-22 1 49 1-15 0-40 1-12 1 60 1-26 0-32 1 49 1-49 1 19 0-4 1-28 1 65 1 70 0-71 1-6 1-16 1 5 0 9 1 9 1-28 1 14 0-6 1 20 1 10 1 4 0-37 1 1 1 30 1-21 0 2 1 19 1-1 1 25 0-61 1 60 1-38 1 30 0-48 1 31 1-11 1 61 0-66 1 54 1-47 1-6 0 37 1 20 1-26 1 18 0-8 1-6 1 38 1-33 0 23 1-48 1 25 1 28 0-34 1-42 1 72 1-4 0-21 1 10 1-11 1 18 0 18 1-19 1-10 1-10 0 8 1-8 1 37 1-51 0 12 1 23 1 0 1-2 1-16 0 15 1-40 1-2 1 6 0 41 1 25 1-45 1-3 0 7 1 52 1-39 1-3 0-16 1 26 1 20 1-27 0-25 1 53 1-33 1 45 0-70 1 23 1 10 1-50 0 46 1 13 1-18 1 14 0-6 1-25 1 39 1-37 0 12 1-11 1 34 1-27 0 0 1-41 1 46 1 32 0-76 1 61 1-10 1-42 0 33 1 34 1-24 1 9 0 19 1-35 1 30 1-52 0 9 1 58 1-3 1-10 0-60 1 31 1-17 1 69 0-80 1 1 1 17 1 23 0-23 1 7 1 14 1-7 0-47 1 16 1 70 1-39 0 44 1-9 1-9 1-26 0 36 1-49 1 66 1-41 0 0 1-24 1-4 1 7 0-6 1-10 1-6 1 30 0 23 1 18 1-31 1-23 0 17 1 25 1-39 1 20 0-17 1-7 1-18 1 30 0-39 1-6 1 32 1 14 0-3 1-3 1-29 1 2 0 30 1 22 1-118 1 94 0-26 1-8 1-18 1 1 0-15 1 35 1-32 1 18 0-34 1 66 1-12 1-45 0 39 1-21 1-11 1 23 0 19 1 16 1-31 1 23 1-12 0-1 1 8 1-58 1 24 0 46 1-69 1 12 1 67 0-72 1 28 1 4 1-14 0 30 1-2 1-38 1 60 0-63 1 9 1 7 1 9 0-33 1 33 1-60 1 42 0-10 1 4 1 15 1 8 0-24 1 19 1-38 1 28 0 31 1-39 1 9 1 7 0 20 1-11 1-13 1-20 0 30 1-76 1 80 1-28 0 34 1-18 1 35 1-49 0-32 1 48 1-12 1 9 0 32 1-51 1 38 1 5 0 5 1-75 1 52 1-20 0 11 1-14 1 12 1 30 0 19 1-24 1-47 1 60 0-60 1 20 1 37 1-42 0 32 1-24 1-22 1 33 0-18 1 55 1 2 1-6 0-63 1 70 1-38 1 4 0-7 1-18 1 16 1 18 0 16 1-24 1-13 1-12 0 4 1 47 1-23 1-11 0-46 1-3 1 59 1-1 0 12 1-23 1-21 1-26 0 19 1-34 1 64 1 4 0 22 1-78 1 10 1 49 0-7 1-57 1 31 1 20 0-12 1 18 1-8 1-15 0 23 1-11 1 30 1-64 0 29 1-11 1 11 1 16 0 5 1-68 1 81 1-15 1-1 0-11 1 21 1-13 1-54 0 27 1 10 1-3 1-2 0 26 1-42 1 9 1-6 0 24 1 11 1-33 1 32 0-23 1 48 1-89 1 54 0 29 1-37 1-18 1 6 0 35 1-27 1 39 1-24 0-15 1 3 1 22 1 14 0-45 1-9 1 0 1 41 0 33 1-58 1 30 1-26 0 33 1-60 1 52 1-47 0 11 1 29 1-14 1 4 0 15 1-8 1 32 1-18 0-40 1 20 1-12 1 4 0 54 1-63 1 51 1 5 0 31 1-68 1 7 1 1 0-17 1 54 1 4 1-105 0 49 1 37 1-55 1 9 0 18 1-1 1-5 1 2 0 48 1-102 1 45 1-16 0 34 1-17 1 23 1-11 0 57 1-90 1 21 1 33 0-31 1 14 1-42 1 56 0-21 1 17 1-37 1 9 0-7 1 62 1-85 1 55 0-4 1 25 1-25 1-33 0 39 1-56 1 69 1-29 0-16 1 6 1 27 1-57 0 84 1-60 1 56 1-34 0 43 1-78 1 52 1-24 0-14 1 37 1-27 1-13 0 13 1-15 1 14 1 5 0 28 1-30 1-17 1 38 1-28 0-15 1-7 1 75 1-47 0 43 1-65 1-2 1 70 0-49 1 2 1-1 1-20 0 51 1-56 1 50 1-46 0 93 1-48 1 10 1-70 0 51 1-24 1-6 1 1 0 42 1-20 1-13 1-3 0-1 1 3 1 6 1-21 0 6 1-33 1 55 1 15 0-26 1 47 1-54 1 20 0 29 1-23 1-26 1 29 0-19 1 38 1-9 1-25 0 19 1 30 1-15 1-7 0-26 1-10 1-4 1 45 0-53 1 37 1 30 1-80 0 49 1-34 1 22 1 16 0-38 1-8 1 23 1 15 0-15 1-14 1 41 1-45 0-8 1 38 1 52 1-67 0 11 1-24 1 11 1-13 0 35 1-24 1-3 1 43 0-60 1 60 1-28 1-18 0 22 1-6 1 15 1-13 0 52 1-21 1 2 1-58 0 21 1 39 1-15 1-14 0-3 1 28 1-74 1 27" style="marker:url(#m2)" fill="none" stroke="none" clip-path="url(#clb)"/><path d="M203 720l0 53 1-53 1 23 1 34 0-34 1 12 1-6 1 14 0 32 1-71 1 24 1 35 0 15 1-54 1 34 1-15 0-1 1-43 1-4 1 37 0-6 1 1 1-23 1 55 0-34 1 60 1-61 1 12 0 8 1-23 1-14 1 10 0 12 1-11 1 52 1-52 0 27 1 0 1-13 1-26 0 33 1 9 1-16 1-3 0-46 1 22 1 19 1 8 0 12 1-22 1 10 1-25 0 34 1 2 1-17 1 22 0-26 1-4 1 4 1 48 0-76 1 38 1-12 1 10 0-33 1 46 1-1 1-20 0-3 1 10 1 19 1-52 0 61 1-36 1 24 1-34 0 58 1-35 1 31 1-49 0-1 1 37 1-8 1-8 0 19 1-17 1-16 1-32 0-8 1 61 1-1 1-31 0 30 1-15 1 5 1 20 0-53 1 40 1 4 1-15 0 7 1-27 1 27 1 10 0 3 1-30 1 31 1-10 0 7 1-14 1 14 1-9 0 46 1-57 1 30 1-24 0-31 1 41 1 16 1-10 1 0 0-33 1 23 1-35 1 66 0-5 1-54 1 14 1-18 0 10 1 6 1-15 1 15 0 23 1-20 1 21 1-18 0 5 1-28 1 46 1-44 0 17 1-20 1 37 1-32 0 34 1 28 1-33 1-54 0 68 1-18 1 10 1-5 0 16 1-3 1-22 1-25 0 24 1 18 1-55 1 42 0-41 1 61 1 15 1-20 0-27 1 25 1 12 1 7 0-6 1-6 1-44 1 19 0 12 1-9 1-42 1 37 0-11 1 19 1 3 1-37 0 14 1 19 1-25 1 21 0-16 1 2 1 34 1-22 0-8 1 43 1-38 1 6 0 1 1 63 1-50 1 4 0-25 1 25 1 6 1-48 0 34 1 25 1 4 1-33 0 43 1-62 1 36 1-11 0-33 1 43 1-47 1 13 0 11 1-23 1 50 1-34 0-16 1 31 1-5 1-23 0 11 1 31 1-2 1-50 0 53 1 1 1 3 1-34 0-6 1 14 1-11 1 8 0-7 1 7 1-5 1 11 0 3 1-9 1-6 1 45 0-14 1-9 1-28 1 31 0-16 1 15 1-7 1 48 0-53 1-21 1 44 1 1 1 4 0-82 1 35 1 2 1-17 0 37 1 11 1 9 1-4 0-19 1 32 1-27 1-64 0 52 1-9 1 23 1-16 0 2 1 35 1-44 1-13 0 34 1 8 1-16 1 2 0-12 1-16 1 12 1-6 0 48 1-32 1 35 1-32 0-17 1 23 1 0 1 24 0-70 1 33 1 17 1-24 0 18 1-8 1 36 1-4 0-70 1 11 1 16 1 15 0-2 1-8 1 24 1 5 0-16 1-8 1 7 1-19 0 35 1 0 1-37 1 50 0-32 1 19 1-18 1-3 0 18 1-35 1 15 1-19 0 35 1-15 1-2 1-4 0 25 1-8 1-10 1-5 0 47 1-6 1-55 1 49 0-14 1-5 1 3 1-38 0 81 1-9 1-42 1-1 0 3 1-17 1 26 1-12 0-22 1 12 1-3 1 1 0 5 1 21 1-22 1-25 0 64 1-43 1 43 1-25 0 6 1-29 1 20 1-10 0 7 1 11 1-18 1 25 0-47 1 7 1 32 1 2 0 11 1 12 1-25 1 7 0-11 1-2 1-5 1 4 0-14 1 9 1 20 1-7 0 14 1-34 1 2 1 17 1-27 0-1 1 32 1-20 1 25 0-17 1-11 1-12 1 46 0-27 1-16 1-13 1 5 0 17 1 34 1-44 1 25 0-2 1-74 1 43 1 43 0-60 1 66 1-23 1-35 0 73 1-41 1 35 1-28 0-20 1 39 1 14 1-11 0-52 1 38 1-37 1 12 0 40 1-58 1 82 1-84 0 5 1 43 1-20 1 1 0-17 1 35 1-11 1-6 0-15 1-15 1 31 1-45 0 32 1 27 1 1 1-23 0-46 1 66 1 7 1-17 0 25 1-5 1-57 1 31 0-6 1 43 1-10 1-20 0 10 1 6 1-33 1 12 0 2 1-7 1 3 1 12 0-32 1 5 1 42 1 17 0 8 1-75 1 47 1-24 0 7 1 8 1 15 1 5 0-62 1 40 1 37 1-19 0-35 1 14 1 5 1 40 0 17 1-59 1 36 1-16 0 20 1-16 1-17 1 11 0 1 1 46 1-45 1 28 0-29 1 4 1 19 1-16 0 53 1-13 1-51 1 35 0 22 1-57 1 17 1 40 0-49 1 31 1-15 1 6 0-26 1 21 1-8 1 46 1-23 0-11 1-3 1 15 1-48 0 13 1 2 1 2 1-17 0 45 1-20 1 36 1-29 0-5 1 17 1 0 1-15 0 19 1 14 1-36 1 37 0-31 1 22 1-19 1-7 0 14 1-29 1-10 1 32 0-4 1-18 1 68 1-36 0-24 1 26 1 1 1-19 0 3 1-34 1 44 1 35 0-16 1-2 1-34 1-10 0 41 1-12 1-10 1-3 0 27 1-7 1-23 1 8 0-33 1 11 1 36 1-22 0-8 1 23 1 21 1-44 0 10 1 2 1 56 1-30 0-16 1-36 1 46 1-4 0-16 1-12 1 6 1-25 0 26 1-2 1-9 1 12 0-27 1 57 1-28 1-21 0 40 1-4 1-23 1-18 0 25 1 9 1 3 1 4 0-2 1-50 1 32 1-43 0 58 1-13 1 11 1-21 0-2 1-12 1-48 1 53 0 56 1-28 1-32 1 10 0 1 1-22 1 10 1 6 0-18 1 18 1 15 1-9 0-13 1-10 1 17 1-27 0-4 1 39 1-35 1-22 0 45 1-3 1 8 1-25 0 26 1-26 1-19 1 18 0 9 1-28 1 19 1 9 1-14 0 10 1-2 1-16 1 24 0 5 1-54 1 28 1 31 0-8 1-48 1 44 1 24 0-11 1-2 1-18 1 4 0-26 1 25 1 47 1-48 0-19 1 30 1-53 1 90 0-35 1-18 1-2 1-11 0 21 1-2 1-32 1 52 0-28 1-15 1 42 1-4 0-27 1-2 1 37 1-31 0 12 1 24 1-53 1-6 0 14 1 5 1 13 1 19 0-29 1 44 1-30 1-46 0 41 1 15 1 8 1-37 0 12 1 49 1-43 1-22 0-13 1 23 1 16 1-30 0 51 1-44 1-24 1 53 0-12 1-6 1 31 1-39 0 27 1-25 1 45 1-34 0 0 1 12 1-14 1 11 0-14 1 18 1-12 1-12 0 22 1-2 1-31 1 15 0-28 1 37 1 15 1 33 0-45 1 16 1 9 1-15 0-54 1 29 1 16 1 0 0-4 1-21 1-20 1 46 0 16 1-34 1 22 1-23 0 8 1-9 1 29 1-36 0 22 1 16 1-19 1-25 0 33 1-12 1-23 1 23 0-2 1 18 1-22 1 12 0 10 1-51 1 59 1-20 0-21 1 23 1 19 1-36 1 3 0 39 1 4 1 9 1-40 0-20 1 0 1 13 1-14 0 29 1 17 1-47 1 52 0-49 1 4 1-14 1 43 0-16 1 2 1-60 1 47 0 19 1-63 1 97 1-34 0 16 1-29 1 25 1 8 0 27 1-74 1 64 1-65 0 26 1-11 1 4 1-36 0 34 1-19 1 21 1 9 0-4 1-3 1 31 1-22 0 6 1 15 1-29 1 4 0 11 1-19 1 31 1-39 0 9 1 2 1-4 1 6 0-9 1-39 1 72 1-33 0 24 1-37 1 34 1-38 0 56 1-33 1-6 1-50 0 12 1 37 1-3 1 0 0 2 1 30 1-28 1 0 0-7 1-7 1 30 1-16 0 1 1 13 1-4 1 15 0-1 1-42 1 10 1 36 0-27 1 20 1-31 1-31 0 4 1 31 1 6 1 57 0-33 1-1 1 5 1-52 0 34 1-3 1 43 1-55 0-16 1 32 1-5 1 6 0 2 1-1 1-16 1 4 0 57 1-61 1 23 1-31 0-14 1 54 1-15 1 24 0-5 1-17 1-20 1 55 0-38 1 43 1-29 1 4 0-6 1-3 1-13 1 52 1-66 0-13 1 38 1-20 1 34 0-24 1 28 1-22 1-18 0 9 1 21 1-27 1-4 0 13 1 10 1 19 1-17 0 9 1-21 1 41 1 7 0-58 1 19 1-8 1 9 0-13 1-8 1-12 1 16 0 11 1 21 1-10 1-20 0-5 1-17 1 44 1-12 0 11 1 3 1-4 1-14 0-4 1-14 1 7 1 22 0 37 1-54 1 13 1 61 0-64 1-9 1 7 1-5 0-35 1 57 1-54 1 25 0 2 1 18 1-14 1-5 0-8 1 22 1-12 1-8 0-13 1 10 1 21 1-36 0 35 1-1 1 22 1-38 0-6 1 18 1-6 1-46 0 78 1-20 1-2 1-19 0 24 1-13 1 38 1-18 0 15 1-55 1 8 1 9 0-4 1 46 1-26 1-29 0 16 1 43 1-43 1 18 0-47 1 23 1 9 1-2 0 5 1 7 1 16 1-59" style="marker:url(#m3)" fill="none" stroke="none" clip-path="url(#clb)"/><path d="M203 867l0 10 1-8 1 15 1-21 0-5 1-6 1 28 1-36 0 14 1 6 1 11 1-15 0-11 1 25 1-28 1 6 0-20 1 35 1-1 1-31 0 25 1 12 1-20 1-16 0 25 1 11 1-39 1 43 0-15 1 16 1-32 1 32 0-10 1 7 1-11 1 14 0-18 1-5 1-9 1-9 0 26 1-6 1 3 1-3 0 10 1-5 1-10 1 22 0 21 1-48 1 7 1 16 0-20 1 28 1-28 1-8 0 4 1 32 1-50 1 35 0-37 1 47 1-6 1 4 0 24 1-35 1 20 1-9 0 7 1-29 1 31 1-24 0 29 1-8 1-14 1 9 0-1 1-5 1 40 1-56 0-8 1 0 1 18 1 4 0 12 1 5 1-12 1-1 0-18 1 32 1 6 1-24 0 14 1-21 1 10 1 2 0 12 1-37 1 25 1 13 0-8 1 5 1-51 1 26 0 8 1-6 1-25 1 55 0-13 1-36 1 23 1 9 0 14 1-5 1-27 1 6 0 14 1 12 1-23 1-4 1 20 0-7 1 19 1-14 1 8 0-48 1 10 1-3 1 13 0 17 1-10 1 12 1-21 0 28 1-2 1-42 1 11 0 7 1 23 1-1 1 17 0-54 1 28 1-4 1-5 0 2 1-31 1 38 1-12 0-13 1 43 1-35 1 15 0-15 1-14 1 18 1 12 0-21 1 24 1 20 1-9 0-24 1-8 1 28 1-38 0 6 1 45 1-22 1 2 0-13 1 52 1 5 1-54 0 16 1-18 1 13 1 14 0-1 1-24 1 10 1 41 0-31 1 8 1-14 1-11 0-17 1 2 1-11 1 10 0 3 1 27 1-40 1 35 0-39 1 75 1-52 1 12 0 26 1-32 1 5 1 1 0 7 1-18 1 38 1-10 0-17 1 18 1-21 1-7 0 7 1 9 1-33 1 20 0 13 1-26 1 24 1-24 0 22 1-4 1 7 1-18 0-21 1-10 1 105 1-86 0 10 1-13 1 50 1-11 0 3 1-33 1 36 1-30 0 33 1-22 1-37 1 37 0-13 1 55 1-62 1 17 0 0 1-9 1 2 1 11 0 7 1-13 1 3 1 4 0-15 1 12 1 4 1 17 1-6 0-3 1 8 1-29 1 32 0-25 1 4 1-4 1 18 0-22 1 21 1-16 1-2 0 15 1-21 1 34 1-31 0 4 1 28 1-45 1 40 0-14 1 1 1 1 1-18 0 43 1-19 1 2 1 2 0 2 1-11 1-21 1-6 0-1 1 14 1 24 1-38 0 15 1 15 1-15 1 0 0-13 1 20 1-13 1-2 0 5 1 12 1 10 1-36 0 27 1-26 1-13 1 19 0 12 1-2 1 7 1-40 0 56 1-10 1-3 1-37 0 33 1-16 1 0 1 9 0-27 1 45 1-1 1-4 0 10 1-50 1 23 1-1 0-14 1 34 1 28 1-59 0 27 1-8 1 2 1-1 0 10 1-21 1 3 1 34 0-26 1-1 1-28 1 37 0 2 1-5 1 21 1-58 0 47 1-41 1 10 1-16 0 46 1-15 1-5 1 8 0-35 1 24 1 14 1-13 0 9 1-25 1 29 1-8 0 8 1 22 1-24 1-11 0 16 1-25 1 45 1-27 0 0 1 8 1-29 1 20 0-3 1 39 1-12 1 6 0-29 1 2 1 14 1-28 0-4 1 40 1-17 1 0 1-36 0 21 1-1 1-4 1 17 0-21 1-4 1 51 1-24 0-24 1 51 1-25 1-4 0-50 1 69 1-22 1 18 0 8 1-49 1 51 1-16 0-12 1-39 1 69 1-27 0 5 1-29 1 29 1-1 0 15 1-39 1-21 1 26 0-7 1 21 1-7 1 6 0 17 1 7 1-27 1-27 0 26 1-3 1 2 1-2 0 2 1-35 1 44 1-1 0-2 1-8 1 16 1-42 0 26 1 11 1-17 1 6 0 17 1-19 1-11 1 6 0 14 1-23 1 17 1-7 0 7 1 12 1-1 1-11 0 3 1 10 1-25 1 15 0-20 1 39 1-18 1-22 0 14 1 21 1-6 1-29 0 56 1-23 1 4 1-9 0-7 1-9 1 28 1-1 0-3 1 18 1-5 1-20 0 11 1 26 1-38 1 58 0-42 1 52 1-33 1-31 0 34 1-4 1-7 1 10 0 1 1-51 1 65 1-16 0 5 1 11 1-11 1-19 0 33 1-18 1 9 1-15 0 9 1-13 1 42 1-43 0 33 1-46 1 35 1-9 0 21 1-12 1 33 1 10 1-56 0 20 1-26 1 0 1 15 0 15 1-4 1-13 1 21 0-37 1 5 1 13 1-28 0 51 1-24 1-3 1 13 0-29 1 20 1-25 1 25 0 5 1 24 1-26 1 22 0-22 1-26 1 39 1-11 0-10 1 24 1-32 1 11 0 18 1 2 1-24 1 16 0-4 1 9 1-14 1-30 0 28 1 31 1-38 1 11 0 16 1-17 1-13 1 17 0-3 1-10 1 11 1-19 0-3 1 7 1 15 1 3 0-10 1 27 1-8 1-9 0 17 1 6 1-13 1-21 0 23 1 5 1-12 1-9 0 6 1 1 1-36 1 55 0-25 1 32 1-32 1-14 0 26 1-12 1 13 1-22 0 0 1-4 1-1 1 16 0-28 1 22 1 14 1-35 0 11 1-10 1 5 1 7 0 8 1 2 1-27 1 21 0-22 1-10 1 2 1-17 0 31 1-32 1 32 1 38 0-59 1-20 1 39 1-24 0 15 1-1 1 3 1 32 0-33 1-2 1-7 1-11 0 0 1-8 1 30 1-18 0 13 1-6 1 31 1-37 0 11 1-20 1 29 1-22 0 4 1-23 1 32 1 18 1-5 0-40 1 32 1-26 1-15 0 7 1 40 1-25 1-15 0 26 1-1 1-10 1 13 0-14 1 26 1-8 1-13 0 7 1 8 1-16 1 10 0-10 1-4 1-25 1 10 0 4 1 17 1 42 1-58 0 8 1-14 1 14 1 3 0 15 1-34 1 31 1-4 0-9 1-16 1 3 1 14 0 13 1-11 1-11 1 17 0-21 1 29 1 35 1-57 0 26 1-32 1 17 1 7 0 11 1-19 1 22 1-43 0 17 1 4 1 1 1-3 0 32 1-36 1 22 1-9 0 27 1-37 1 15 1-2 0-62 1 59 1 10 1 8 0-42 1 14 1 23 1-38 0 5 1 22 1 2 1 11 0-4 1-15 1-21 1 7 0 10 1 6 1-5 1 12 0-25 1 5 1-14 1 53 0-35 1 18 1 5 1-15 0-9 1-5 1 4 1-24 0 19 1 21 1-8 1 9 0 0 1-2 1-10 1 1 0 12 1-21 1-16 1 35 0-13 1 17 1-29 1-16 0 24 1-8 1-5 1 41 0-21 1-24 1-7 1 24 0 11 1-5 1 15 1-14 0 2 1-39 1 52 1-30 1 24 0-40 1 10 1 34 1-40 0 23 1-9 1 35 1-23 0 15 1-21 1-28 1 61 0-42 1 10 1-1 1-25 0 37 1-18 1-22 1 4 0-13 1 25 1 9 1-12 0 15 1-5 1 14 1-9 0-2 1-11 1-6 1 4 0 21 1-14 1 32 1-10 0-36 1 30 1 13 1-31 0 31 1-32 1 38 1-17 0-13 1-23 1 25 1-10 0 18 1-20 1 22 1-16 0 18 1 4 1-11 1 6 0 10 1-34 1 25 1-5 0 22 1-29 1 19 1-44 0 48 1-13 1-1 1 9 0-35 1 17 1 5 1-7 0-3 1 24 1-15 1-4 0 4 1 21 1 9 1-12 0-10 1-30 1 13 1-6 0 0 1 35 1-30 1 33 0-21 1-4 1-1 1-20 0 17 1 20 1-2 1-9 0 9 1-9 1 4 1 33 0-37 1-30 1-7 1 23 0 15 1 13 1-17 1 3 0 7 1-26 1 16 1 6 0-12 1-8 1 23 1 9 0-17 1-40 1 26 1 6 0 13 1-15 1 1 1 23 0 4 1-19 1-19 1-3 0 31 1-24 1 13 1-3 1 5 0 3 1-22 1 6 1 14 0-3 1-22 1 53 1-54 0 40 1-43 1 42 1-44 0 44 1-12 1 10 1-25 0 16 1 0 1-1 1-12 0 32 1-52 1 5 1 1 0 47 1-37 1 3 1 0 0 7 1 1 1-4 1-17 0 32 1-7 1 25 1-17 0-8 1-22 1 25 1 8 0 18 1-21 1 7 1-4 0 17 1-8 1-18 1-24 0 50 1-25 1-15 1-10 0-6 1 34 1-7 1 7 0 15 1-30 1 15 1-13 0-6 1-22 1 23 1 31 0-26 1 13 1-3 1 31 0-9 1-34 1 3 1 26 0-15 1-2 1 18 1-10 0-7 1 47 1-43 1-29 0 28 1-1 1 23 1-22 0-16 1 16 1-26 1 14 0 12 1-20 1-19 1 16 0 4 1 22 1-17 1 6 0-14 1 17 1-12 1 20 0-6 1 20 1-14 1-15" style="marker:url(#m4)" fill="none" stroke="none" clip-path="url(#clb)"/><path d="M203 952l0 19 1 10 1 14 1-37 0-14 1-9 1 14 1 14 0-1 1-1 1 5 1 6 0-36 1 31 1-4 1 0 0-5 1-25 1 41 1-17 0 7 1 7 1-5 1 7 0 0 1-24 1-4 1 35 0-28 1 52 1-58 1 22 0-4 1 6 1-22 1 23 0 29 1-45 1-29 1 50 0-4 1 4 1-26 1 22 0 8 1-24 1 9 1 9 0 4 1-18 1 8 1 32 0 0 1-54 1 57 1-46 0 26 1-41 1 18 1-8 0 26 1-11 1 4 1 0 0-4 1 13 1-14 1-4 0-10 1-5 1 7 1 16 0 11 1-20 1 37 1-13 0-21 1 5 1-6 1-32 0 46 1-10 1-34 1 45 0-25 1 6 1-26 1 29 0 8 1-15 1 8 1-34 0 43 1-10 1 0 1 12 0 7 1-20 1 18 1 16 0-52 1 21 1-30 1 35 0 18 1-27 1-18 1 11 0 17 1-34 1 1 1 34 0-33 1 26 1-21 1-9 0 43 1 5 1-33 1 54 1-38 0 7 1-6 1-22 1 37 0-15 1 6 1-6 1-10 0 49 1-34 1-12 1 16 0-33 1 28 1 42 1-61 0 21 1-30 1 22 1 19 0-38 1 2 1 37 1-16 0 7 1-2 1-33 1-7 0-3 1 42 1-34 1-6 0 21 1 8 1 7 1-37 0 56 1-41 1 20 1-4 0-17 1 25 1-1 1 14 0 15 1 4 1-22 1-4 0-19 1-20 1 34 1-18 0 6 1-4 1 17 1-15 0 50 1-27 1-25 1 16 0 19 1-47 1 25 1-13 0 11 1-10 1 12 1 5 0 3 1-38 1 40 1-12 0-12 1 10 1 30 1-31 0-13 1 28 1-16 1 16 0-7 1 20 1-36 1 4 0 27 1 11 1-27 1 18 0-13 1-8 1-30 1 68 0-17 1-62 1 55 1-25 0-7 1 8 1 23 1-14 0-3 1 1 1-4 1 17 0-47 1 13 1 21 1-18 0 24 1-10 1 14 1-10 0 14 1-10 1 13 1-19 0-26 1 32 1 1 1-10 0 28 1-9 1 19 1-35 0 0 1 16 1 18 1-39 0 21 1-9 1-5 1 22 1 0 0-3 1-25 1 12 1-30 0 40 1-33 1 19 1 20 0-20 1 7 1-14 1 59 0-69 1 12 1 8 1 49 0-57 1 12 1 13 1-52 0 54 1-9 1 21 1 0 0-18 1 11 1-32 1-9 0 17 1 7 1-9 1 13 0 4 1 20 1-34 1-6 0 17 1-5 1 7 1 20 0-46 1 28 1 11 1-1 0-50 1 21 1 28 1-23 0 8 1-10 1 25 1-19 0-10 1 7 1 23 1-18 0-36 1-9 1 49 1-42 0 32 1-16 1 17 1-18 0-29 1 67 1-26 1-2 0 31 1-16 1 8 1-24 0 6 1 6 1-19 1 26 0-7 1-13 1-2 1 23 0-18 1 10 1-2 1-8 0-54 1 63 1 9 1-26 0 0 1 27 1-37 1 44 0-12 1 15 1-25 1 2 0 4 1-33 1 12 1 36 0-32 1-5 1 23 1 19 0-26 1-3 1 4 1 8 0-35 1 34 1 1 1 11 0 1 1-8 1 24 1-35 0-2 1 31 1-27 1-13 0 1 1 9 1-23 1 41 0-12 1 17 1-41 1 12 0-5 1 21 1-3 1 7 1-1 0-32 1 24 1-3 1-2 0 9 1-42 1 21 1 7 0-10 1-6 1 37 1-1 0 14 1-46 1-25 1 53 0-18 1-13 1 27 1-10 0-29 1 31 1-30 1 38 0-31 1-5 1 39 1 4 0-21 1-16 1 31 1-9 0 2 1-11 1-19 1 17 0 34 1-37 1 10 1 1 0 17 1-11 1-13 1 41 0-30 1 2 1-17 1-15 0 34 1-14 1 12 1-45 0 69 1-29 1 13 1-33 0 21 1 1 1 17 1-6 0-50 1 40 1-2 1-7 0 9 1 6 1 7 1-37 0 6 1 15 1 12 1-28 0 17 1-22 1 23 1-3 0 13 1 16 1-36 1 22 0-34 1 34 1 27 1-57 0 20 1-46 1 65 1 32 0-54 1 24 1 19 1-36 0 18 1-16 1 7 1 10 0 16 1-10 1-4 1-1 0 24 1-9 1-1 1-38 0 30 1-14 1 51 1-19 0 15 1-40 1-12 1 14 0 26 1-23 1 25 1 12 0-29 1 24 1-56 1 17 0 11 1 5 1-19 1 19 0 25 1-4 1-7 1-24 1 42 0-14 1-29 1 35 1-23 0 16 1-3 1 4 1 16 0 18 1-37 1-4 1-3 0 9 1 3 1-34 1 25 0 39 1-27 1 6 1-20 0 39 1-27 1-16 1-8 0 22 1 23 1-43 1-6 0-23 1 53 1-31 1 6 0-6 1 3 1 30 1-28 0 17 1-16 1 6 1 19 0 0 1-33 1 22 1-18 0 30 1-24 1-5 1 31 0-25 1 13 1 10 1-22 0 4 1 16 1 30 1-30 0 3 1-13 1-2 1 27 0-39 1 0 1 39 1-40 0-9 1 31 1 9 1 13 0 8 1-79 1 36 1-2 0 12 1-22 1 16 1 4 0-2 1-19 1 20 1-20 0 0 1 10 1 18 1-51 0 34 1 24 1-23 1-13 0 12 1 23 1-32 1-11 0 25 1-20 1-9 1 26 0-30 1 8 1 28 1-22 0 19 1-56 1 4 1 11 0 11 1-33 1 37 1-15 0-1 1 9 1-7 1-18 0 16 1-18 1 44 1-33 0 2 1-8 1 11 1 3 0-8 1-16 1 38 1-20 0-33 1-7 1 20 1-1 0-9 1 13 1 23 1 16 1-18 0 2 1 15 1 18 1-18 0-10 1-13 1-16 1 26 0 14 1-16 1-16 1 21 0-12 1-10 1-24 1 45 0-22 1 33 1-32 1 13 0-12 1 42 1-8 1-24 0 26 1-48 1 34 1-22 0 8 1-6 1 19 1-43 0 24 1 33 1-65 1 37 0-21 1-23 1 55 1-16 0 31 1-56 1 40 1 22 0-62 1 45 1 1 1-9 0 22 1-13 1-25 1-1 0 11 1 32 1-32 1 19 0-19 1 14 1-1 1 12 0 11 1-42 1-11 1 19 0 1 1 5 1 13 1-25 0 7 1 1 1 19 1-27 0 29 1 13 1-39 1 30 0-16 1-11 1 38 1-14 0-28 1 16 1-23 1-12 0 44 1-19 1 29 1-27 0 3 1-7 1 5 1-18 0 10 1-27 1-1 1 8 0 13 1 9 1-1 1 24 0 23 1-88 1 70 1-10 0-27 1 13 1-38 1 31 0 32 1-49 1 10 1 13 0 10 1-11 1-11 1 21 0-22 1 54 1-21 1-21 0-16 1 4 1-3 1 7 0 14 1-31 1 26 1-3 0-17 1 40 1-15 1-3 1-16 0-3 1 14 1-27 1 33 0-27 1 20 1 12 1-17 0-6 1-2 1 16 1-23 0 19 1 18 1-51 1 20 0 19 1-25 1 1 1-3 0 37 1-54 1 36 1-1 0 4 1-15 1 16 1-11 0-6 1 61 1-28 1-37 0 6 1 21 1 18 1-29 0 16 1-9 1 17 1-30 0-5 1 19 1 0 1-4 0 21 1-9 1-11 1-22 0 33 1 3 1-27 1 10 0-18 1 22 1-6 1-28 0 32 1-6 1 0 1 24 0-10 1 7 1-21 1 30 0-38 1 27 1-40 1 31 0-22 1-8 1 38 1-9 0 6 1-8 1 4 1-6 0-2 1 5 1 39 1-59 0-8 1 10 1 4 1 22 0 10 1 1 1-24 1 17 0 20 1-22 1 12 1-40 0 33 1-1 1-36 1 22 0 10 1-26 1 31 1 2 0-12 1-8 1-1 1 10 0 13 1-44 1 28 1 1 0-20 1-8 1 19 1-26 0 34 1-9 1-15 1 20 0-15 1 2 1 34 1-35 0-32 1 51 1-24 1 3 0 43 1-29 1 16 1-39 0 6 1 4 1 27 1-25 1-22 0 48 1-23 1 11 1 12 0 25 1-39 1 29 1-53 0 27 1 3 1-45 1 22 0 4 1 22 1-17 1 1 0-5 1 21 1-9 1-1 0-2 1 16 1-25 1 12 0 1 1 7 1 11 1-12 0-29 1 41 1 4 1 1 0-7 1-43 1 26 1 16 0 1 1-16 1 4 1-22 0 27 1-44 1 33 1 21 0-38 1 44 1 12 1-26 0-18 1 1 1-13 1 34 0-32 1 23 1-23 1 29 0-34 1 22 1-10 1 31 0-26 1 5 1 23 1-40 0-2 1 20 1-17 1 48 0-27 1 2 1-11 1-50 0 79 1-25 1-34 1 17 0 19 1 22 1-16 1 1 0-1 1-22 1 5 1 12 0-24 1 24 1 11 1-54 0 38 1 0 1 6 1 29 0-55 1 59 1-22 1 32 0-51 1 13 1-9 1 11 0-24 1 2 1 11 1 14" style="marker:url(#m5)" fill="none" stroke="none" clip-path="url(#clb)"/><path d="M203 1030l0 20 1-6 1 18 1 11 0-47 1 10 1 13 1-14 0 49 1 6 1-19 1-5 0-33 1 3 1 28 1 21 0-37 1 13 1 27 1 2 0-55 1 26 1 9 1-48 0 23 1 13 1-14 1 21 0-18 1-27 1 9 1-18 0 16 1 38 1-6 1 5 0 16 1-50 1 13 1 13 0 31 1-28 1-9 1 9 0-24 1-22 1 49 1-18 0 18 1-33 1 5 1 34 0-11 1 14 1-32 1 15 0 12 1 4 1-19 1 7 0-8 1-1 1 2 1 10 0-36 1 26 1-20 1 21 0-6 1 9 1-9 1 2 0-25 1 56 1-56 1-11 0 45 1 5 1-13 1-5 0-16 1 60 1-72 1 82 0-79 1 11 1 16 1-4 0 19 1-27 1 10 1-24 0 56 1-30 1-9 1 16 0 18 1-11 1-22 1 18 0 4 1 2 1-15 1 21 0-36 1 25 1-19 1 18 0-13 1 25 1-21 1 32 0-43 1 39 1-38 1-32 0 29 1 38 1-14 1 6 1-18 0 15 1-27 1 55 1-3 0-23 1-20 1-2 1 26 0-5 1-26 1 33 1 3 0-6 1-3 1-4 1-4 0-6 1-6 1 36 1-55 0 33 1 15 1 29 1-53 0 34 1-2 1-6 1 18 0-70 1 53 1-22 1 11 0-11 1-15 1-20 1 46 0-14 1-22 1 24 1-20 0 5 1 21 1 12 1-55 0 37 1 14 1-38 1 19 0 13 1 12 1-42 1-9 0 20 1 2 1 10 1 1 0-40 1 54 1-48 1 40 0 3 1-1 1-2 1 1 0-23 1-1 1 59 1-10 0-5 1-10 1-49 1 70 0-42 1 4 1 16 1-29 0 40 1-76 1 74 1-14 0-28 1 34 1 7 1-7 0 3 1-24 1 26 1 0 0 5 1-13 1-47 1 44 0-37 1 11 1 13 1 6 0-10 1 13 1 4 1-7 0-2 1 5 1 7 1-33 0-11 1 51 1-18 1-50 0 69 1 1 1-60 1 13 0 13 1-14 1 12 1 12 0 21 1-70 1 52 1 20 0-71 1 56 1-8 1-10 0 27 1 12 1-5 1 20 0-56 1-28 1 32 1 14 1 20 0-12 1-23 1 40 1-19 0-4 1-9 1 13 1 3 0-11 1-49 1 31 1 27 0 23 1-8 1-1 1 13 0-22 1 14 1-6 1-16 0-23 1-15 1 42 1-34 0 23 1 17 1-29 1 33 0-17 1-20 1 30 1 3 0-25 1 20 1-34 1 26 0 3 1-27 1 23 1 28 0-43 1-10 1-7 1 14 0-7 1-12 1 36 1 5 0-27 1 21 1 18 1-12 0-3 1 10 1-28 1 32 0 20 1-52 1-25 1 23 0-6 1 25 1 21 1-14 0 24 1-26 1-7 1-41 0 48 1-21 1 2 1 5 0 39 1-15 1-17 1-30 0 21 1 3 1 23 1-6 0-1 1-29 1 38 1 36 0-84 1 8 1 22 1 19 0-15 1-3 1 28 1-52 0-20 1 11 1 48 1 3 0-28 1-21 1 11 1 26 0 12 1-33 1-4 1-2 0 7 1 26 1-10 1 3 0-5 1 2 1-31 1 5 0 29 1 1 1 14 1-24 0-16 1 14 1-1 1 16 0-15 1 14 1 1 1 0 0 1 1-32 1 44 1 11 0-17 1 16 1-24 1-19 1 22 0-12 1-1 1 35 1-51 0 41 1-34 1-24 1 50 0-12 1 2 1 1 1 17 0-14 1-13 1 4 1 11 0-20 1 19 1-49 1 38 0 2 1 15 1-36 1 17 0 14 1 48 1-54 1 9 0-23 1 54 1-48 1 0 0 7 1-29 1 6 1 13 0-10 1 36 1-30 1 55 0-39 1-21 1 18 1 11 0-14 1 8 1-13 1-11 0 13 1 37 1-43 1 6 0-29 1 17 1 20 1-14 0 30 1-4 1-28 1 7 0 15 1-6 1-13 1-31 0 64 1-27 1 3 1-18 0 44 1-31 1 6 1-43 0 31 1 8 1 9 1 6 0-16 1 25 1-21 1 0 0 5 1-32 1-10 1 82 0-70 1 24 1 25 1-24 0 37 1-60 1 43 1 11 0 32 1-12 1-43 1 33 0-10 1-29 1 16 1 32 0-25 1-12 1 8 1-12 0-5 1 40 1 3 1 12 0-50 1 9 1 31 1-5 0-5 1-20 1 18 1-21 0 59 1-16 1-33 1 44 0-44 1 31 1-8 1-11 0 35 1-59 1 26 1 0 1-29 0 6 1 32 1 3 1-24 0 30 1-1 1 6 1-20 0 3 1 14 1-23 1-5 0-7 1 34 1 15 1-61 0 31 1 20 1 16 1-24 0-21 1 30 1 32 1-37 0 6 1 21 1-63 1 45 0 13 1-9 1-15 1-11 0-4 1-14 1 16 1-14 0 22 1-3 1-7 1 4 0 9 1-25 1 36 1-9 0 8 1-17 1 2 1 7 0 0 1-10 1 1 1-3 0 3 1-7 1-1 1-4 0 45 1-39 1 10 1-17 0 22 1 21 1-38 1 17 0-5 1 18 1-18 1-1 0-2 1-34 1 57 1 12 0-47 1 32 1-16 1 27 0-38 1 19 1 17 1-15 0-7 1-5 1-11 1 13 0-23 1 50 1-23 1-14 0-28 1 48 1 4 1-18 0 7 1-1 1-18 1-6 0 6 1 20 1-36 1-20 0 31 1-1 1-6 1 4 0-27 1 5 1 8 1 4 0 10 1 3 1-12 1-7 0-18 1 9 1-22 1 14 0 20 1 2 1-31 1 40 0-68 1 54 1-10 1-3 0 11 1-16 1 51 1-52 0 3 1 12 1-43 1 34 1-24 0 52 1-35 1 7 1-31 0 68 1-67 1 5 1 13 0-29 1 18 1 17 1 28 0 1 1-43 1 11 1 23 0 10 1-38 1 11 1 4 0 3 1-7 1 39 1-39 0 27 1-12 1 57 1-39 0-64 1 48 1-51 1 65 0-32 1-34 1 21 1 12 0 34 1-25 1 7 1-22 0 3 1-19 1 20 1 3 0 3 1-14 1 11 1-5 0 14 1-18 1 1 1-6 0 4 1 8 1-15 1 44 0-4 1-13 1 8 1-39 0 12 1 3 1 13 1 11 0 1 1-44 1 27 1 22 0-26 1 14 1-41 1 33 0-6 1-34 1 54 1 11 0-11 1-22 1 4 1-10 0 24 1-3 1 19 1-28 0 18 1-22 1-9 1 13 0-16 1-1 1 31 1-1 0-28 1-3 1 14 1-11 0 28 1-20 1-19 1 9 0 24 1 31 1-29 1-37 0 9 1 20 1-6 1 6 0 36 1-59 1 1 1 18 0 2 1 3 1 12 1-17 0 21 1-17 1 4 1-40 0 16 1 9 1 20 1-25 0-6 1 4 1 47 1-61 0 33 1-4 1 27 1-15 1-19 0 22 1 9 1-32 1-25 0 9 1 24 1-20 1 22 0 19 1-18 1 38 1-44 0-21 1 27 1 15 1-45 0 35 1 23 1-27 1 31 0-64 1 39 1-43 1-1 0 5 1 49 1-15 1 21 0-43 1-16 1 49 1-30 0-16 1 44 1 5 1-35 0 18 1 8 1-29 1 3 0 21 1 26 1-50 1 34 0-4 1-7 1-8 1-12 0 29 1-15 1-46 1 55 0-22 1 13 1 42 1-33 0-48 1 33 1-14 1 42 0-85 1 76 1-10 1-8 0 16 1 27 1-72 1 26 0 10 1 1 1-5 1 14 0-6 1-12 1-28 1 50 0 16 1-5 1-15 1 15 0-53 1 46 1-9 1-8 0 24 1-26 1-4 1-13 0-16 1 27 1 44 1 2 0-49 1 16 1 27 1-51 0 11 1-19 1 60 1-44 0 5 1 7 1-17 1 68 0-27 1 19 1-83 1 56 0-19 1-19 1 25 1 30 0-8 1-34 1 80 1-46 0-40 1 0 1 4 1 11 0-9 1-2 1 32 1-32 0 16 1-15 1 8 1 29 0-24 1 16 1-17 1 24 1-24 0 24 1-49 1 49 1-14 0-27 1 5 1-27 1 34 0 9 1-14 1 32 1-65 0 39 1-21 1 15 1 27 0-17 1 30 1-37 1-6 0 7 1-24 1 12 1 16 0 20 1-39 1 2 1-14 0 4 1 26 1 2 1 6 0-12 1 26 1-56 1 34 0 14 1-20 1 16 1-13 0-3 1 11 1-17 1 13 0 13 1-35 1 36 1 10 0 10 1-39 1 29 1-60 0 9 1 29 1-23 1 3 0-2 1 14 1-6 1-6 0 18 1-10 1 11 1 6 0 5 1-16 1-4 1 0 0-13 1 31 1-10 1 22 0-15 1-16 1 27 1-23 0 4 1 11 1-4 1-20 0 29 1-6 1-8 1-4 0 9 1-35 1 56 1-75 0 29 1 1 1 27 1-7 0 6 1-31 1 48 1-6 0-59 1 45 1-42 1 27 0 22 1-11 1-26 1 13" style="marker:url(#m6)" fill="none" stroke="none" clip-path="url(#clb)"/><path d="M203 1200l0-23 1 14 1-62 1 56 0-8 1-29 1 60 1-37 0 23 1-35 1 23 1 3 0-16 1 6 1 5 1-10 0-30 1 40 1-11 1 9 0-27 1 59 1-15 1 11 0 13 1-22 1-33 1-24 0 60 1-21 1 14 1 12 0-38 1-19 1 34 1-22 0-10 1 31 1-16 1 19 0-40 1 24 1-4 1 6 0-14 1 31 1-53 1 48 0 16 1-28 1 2 1-21 0 26 1 4 1-7 1 5 0 4 1-8 1-51 1 18 0 25 1 56 1-27 1-27 0-5 1-6 1 26 1-22 0 8 1-23 1 11 1-14 0 5 1 11 1 38 1-21 0 18 1-38 1 19 1-22 0 11 1 0 1-36 1 42 0-31 1 42 1-28 1-23 0 10 1 7 1 58 1-67 0 22 1 14 1-9 1 3 0 19 1-35 1 61 1-10 0-28 1 29 1-31 1-13 0-19 1 13 1 31 1-6 0 31 1-1 1-16 1-19 0 40 1-44 1-58 1 52 0 18 1 2 1 1 1 4 1-82 0 119 1-42 1-12 1-50 0 68 1-46 1-23 1 63 0-1 1-17 1-19 1 32 0-9 1 7 1 2 1-48 0 48 1-42 1 43 1-21 0-4 1 53 1-35 1-1 0 15 1 34 1-124 1 83 0-11 1 27 1-28 1-2 0 16 1-15 1-21 1 22 0 46 1-31 1-73 1 54 0-21 1 48 1-52 1 26 0 15 1 8 1-36 1 22 0 50 1-73 1 17 1-22 0 17 1 17 1-11 1 16 0-49 1 36 1-12 1-64 0 100 1-25 1-17 1 42 0-14 1-72 1 71 1 49 0-53 1 14 1-64 1 3 0 3 1 64 1-4 1-87 0 87 1-76 1 17 1 33 0-15 1 17 1 6 1 25 0-42 1-5 1-1 1 80 0-31 1 1 1-16 1-8 0 30 1-38 1-38 1-2 0 106 1-91 1 9 1 13 0 32 1-56 1 23 1 16 0-43 1 35 1 26 1-22 0-4 1 11 1-15 1-10 0-2 1 36 1-65 1 12 0 52 1 10 1-28 1-25 0-20 1 57 1-10 1 4 0 2 1-38 1 7 1 17 0-2 1-37 1 9 1 27 1 42 0 26 1-56 1-15 1 17 0-6 1-24 1-62 1 89 0-20 1 14 1-24 1 17 0 13 1-38 1 16 1 35 0 4 1-66 1 67 1 14 0-23 1 1 1-8 1 7 0-22 1 45 1-34 1-37 0 51 1 9 1-12 1-37 0 42 1-92 1 119 1-30 0-61 1-7 1 115 1-56 0-25 1 27 1-14 1 0 0 13 1-1 1-35 1 35 0-2 1-32 1 51 1-12 0-40 1 73 1-32 1 21 0-55 1 7 1 15 1-18 0 9 1-32 1 90 1-39 0 20 1 11 1-46 1 53 0-112 1 51 1-5 1 13 0-28 1 52 1 29 1-45 0 10 1-72 1 37 1 30 0-28 1 26 1-19 1 20 0-45 1 50 1 24 1-19 0 37 1-57 1 25 1-56 0 59 1-12 1-19 1 36 0-59 1 23 1 15 1-34 0 1 1 51 1-35 1-18 0 15 1-3 1-4 1 29 0-37 1-11 1 40 1-4 0 34 1-66 1 19 1 41 0-17 1-24 1-7 1 39 0-19 1-20 1 10 1 1 0 34 1-90 1 51 1 46 0-75 1 36 1 29 1-56 1 20 0-8 1 26 1-21 1-10 0 29 1 3 1 24 1-39 0 5 1-10 1 45 1 0 0-51 1-34 1 104 1-97 0 2 1 31 1 63 1-20 0-35 1 24 1-22 1 33 0-40 1 52 1-26 1-30 0-29 1 73 1-16 1-38 0 1 1 11 1 3 1 5 0 4 1 0 1-15 1 68 0-60 1-10 1 31 1-37 0 34 1-7 1 22 1-51 0-24 1 79 1-35 1 49 0-25 1-31 1 21 1-39 0 5 1 25 1 3 1-46 0 63 1-7 1 14 1-64 0 52 1-31 1 4 1 39 0-25 1 14 1 8 1 7 0-52 1 0 1 33 1 6 0-32 1 30 1-31 1 17 0 5 1 10 1 13 1-24 0 14 1-23 1 41 1-3 0-26 1 63 1-48 1-4 0-2 1 22 1-5 1-18 0 29 1 16 1 12 1-21 0-20 1-10 1 34 1 20 0 25 1-62 1-18 1 3 0 34 1 9 1-35 1-10 0-19 1 67 1-56 1 53 0-18 1-45 1 20 1 54 0-25 1-6 1 37 1-32 0 4 1 1 1-1 1 26 1-41 0 41 1 11 1-51 1 25 0-41 1 32 1 29 1-7 0-34 1 25 1-2 1-9 0 1 1 46 1-115 1 51 0 37 1-25 1 12 1-1 0-13 1 6 1-19 1 18 0 20 1 6 1-12 1-19 0-4 1-33 1 38 1-19 0 7 1 9 1 10 1 2 0-3 1-29 1 17 1 29 0-20 1 13 1-9 1 37 0 4 1 23 1-73 1 29 0-52 1 51 1-7 1-21 0 47 1-33 1-42 1 75 0-34 1 17 1-36 1-3 0-12 1 3 1 45 1-5 0-55 1 41 1 0 1-20 0 26 1-27 1 43 1-32 0 11 1-91 1 74 1 11 0-16 1 9 1-18 1 44 0-47 1 17 1 43 1-8 0-31 1-33 1-17 1 57 0-6 1-14 1-1 1 59 0-32 1-23 1-6 1-5 0 16 1-16 1 8 1-14 0 28 1-14 1-35 1 100 0-67 1-20 1-20 1 32 0-19 1 57 1-30 1-30 0-30 1 63 1-63 1 53 0-10 1-74 1 62 1 46 0-65 1-34 1 14 1 41 0 9 1 14 1-15 1-30 0 13 1 5 1 2 1-28 1 48 0 11 1-31 1 7 1-35 0 37 1-26 1-2 1 43 0-17 1-15 1-30 1 42 0 42 1-34 1-2 1 25 0 23 1-39 1 12 1-21 0 8 1-1 1 17 1-40 0 20 1 0 1-10 1-13 0 36 1-30 1-30 1 58 0-55 1 56 1-84 1 65 0 45 1-51 1 35 1-39 0-10 1 13 1 31 1 9 0 3 1-13 1-24 1-50 0 31 1 58 1-80 1 54 0-2 1-54 1 52 1-19 0 15 1-8 1-3 1-18 0-27 1 96 1-68 1 16 0-3 1 2 1-12 1 34 0-15 1-12 1-3 1 29 0-37 1 37 1 21 1-7 0-13 1-57 1 62 1-12 0 28 1-49 1 2 1 50 0-58 1 50 1-21 1-72 0 51 1 0 1-23 1-15 0 51 1-29 1 9 1-7 0 18 1 19 1 8 1-8 0-22 1 5 1 19 1 17 0-35 1-31 1 41 1 9 0-29 1 43 1-43 1 12 0 10 1 31 1-72 1 45 0 6 1-23 1 29 1-43 0-14 1-2 1 14 1-10 0 41 1-13 1-38 1 79 0-35 1-49 1-6 1 50 1 33 0-43 1 33 1 17 1-23 0-28 1-25 1 16 1 52 0-34 1-26 1 15 1 5 0 35 1-44 1 64 1-43 0 3 1-38 1 40 1-4 0 12 1-37 1 24 1-46 0 14 1 87 1-73 1-8 0 43 1-28 1 74 1-67 0 17 1-26 1 37 1-29 0 71 1-90 1 30 1 8 0-49 1 16 1-7 1-24 0 52 1-83 1 41 1 4 0 37 1-11 1 31 1 5 0-28 1-29 1 44 1-38 0 11 1 9 1 39 1 31 0-38 1-44 1 37 1 9 0-56 1 27 1-22 1 2 0 19 1 1 1-24 1 21 0-33 1 28 1 8 1-16 0-28 1 20 1 31 1 15 0-1 1 2 1 19 1-57 0 42 1-51 1 66 1-20 0-52 1 45 1 8 1-47 0 30 1 14 1 25 1-62 0 54 1-66 1 5 1 56 0-15 1-39 1 59 1-27 0-8 1-12 1-60 1 67 0 25 1-26 1 20 1-22 0 39 1-112 1 88 1-37 0 30 1 11 1 13 1-9 0 10 1-57 1 29 1-60 0 65 1-52 1 71 1-23 0-12 1-10 1 21 1-20 1-22 0 48 1-33 1 34 1-37 0-6 1 89 1-42 1 16 0-38 1 6 1 0 1 52 0-33 1-15 1-4 1 3 0 26 1-26 1 1 1 34 0-10 1-4 1 30 1-53 0-27 1-13 1 41 1 8 0 19 1-63 1 3 1 29 0-2 1-29 1 32 1 23 0-24 1 67 1-42 1-40 0 15 1-31 1 93 1-63 0-1 1 27 1-28 1-9 0 16 1 28 1 0 1-63 0-7 1 55 1-20 1-4 0 40 1-16 1-25 1 29 0-35 1 6 1 62 1-55 0 21 1-22 1-1 1-21 0 0 1 63 1 24 1-39 0-3 1-29 1 12 1 42 0 28 1-49 1-8 1 18 0-25 1-23 1-4 1 16 0-3 1-52 1 15 1 69 0 4 1-4 1-28 1-11 0 16 1 10 1-21 1 41 0-47 1-43 1 79 1 6 0-28 1 32 1 4 1-99" style="marker:url(#m7)" fill="none" stroke="none" clip-path="url(#clb)"/><path d="M203 1325l0-59 1 69 1-16 1 21 0-40 1-12 1 32 1 78 0-73 1-53 1 36 1-8 0 56 1-42 1-16 1 18 0-32 1 43 1-57 1 23 0 24 1-58 1 2 1 20 0 81 1-22 1-28 1 34 0-5 1-54 1-18 1 84 0-68 1 48 1-80 1 53 0-42 1 69 1 4 1-13 0 14 1-49 1 35 1 7 0-54 1 54 1-12 1 7 0-26 1 7 1 19 1-13 0 16 1-69 1 83 1-64 0 67 1-90 1 29 1 32 0 5 1-31 1-16 1 55 0 15 1-70 1-12 1 22 0 18 1-60 1 27 1 61 0-53 1-1 1 85 1-16 0 22 1-61 1-5 1-10 0-38 1-23 1 74 1-25 0 51 1 13 1-91 1 5 0 59 1 43 1 6 1-81 0 27 1 50 1-79 1-9 0 85 1-74 1-18 1 102 0-73 1 1 1 36 1 34 0-26 1-20 1 7 1 1 0-5 1-74 1 74 1-60 0 22 1 32 1-9 1 17 0-14 1 18 1 49 1-107 1 80 0 27 1-82 1 2 1 9 0 21 1-42 1 12 1 12 0 3 1 50 1-70 1 48 0-1 1-22 1-2 1-34 0 3 1 39 1-4 1-19 0 52 1-37 1-3 1-8 0 45 1-19 1-9 1-57 0 107 1-112 1 65 1-57 0-14 1-60 1 120 1 5 0-25 1-4 1-33 1 48 0-9 1-44 1 36 1 5 0-28 1 80 1-87 1 117 0-29 1-58 1 76 1-18 0 4 1-38 1-42 1-41 0 87 1-14 1-17 1 96 0-57 1-72 1 50 1 23 0-63 1 52 1-20 1-41 0 69 1 10 1-119 1 110 0-37 1 9 1-48 1 25 0 99 1-38 1-31 1 9 0-33 1 26 1-27 1 40 0-49 1 47 1 21 1-39 0 18 1 3 1-29 1-31 0 89 1-35 1-14 1 56 0-75 1 12 1-7 1-12 0 32 1-17 1 73 1-74 0 68 1-76 1 20 1 13 0-32 1 55 1-45 1-2 0 48 1-51 1 49 1 16 0-10 1 22 1-65 1 59 0-63 1-40 1 53 1 76 0-106 1 100 1-115 1 84 0-15 1-34 1-65 1 105 1-1 0-5 1 17 1-63 1 100 0-39 1-60 1 106 1-77 0 16 1 13 1-61 1-1 0 26 1-35 1 34 1 57 0-90 1 44 1-24 1 51 0-72 1 2 1 33 1 78 0-106 1-28 1 26 1 60 0 8 1-36 1 11 1-59 0 64 1-20 1-17 1 58 0 2 1-55 1 25 1-78 0 31 1 85 1-88 1 7 0 74 1-123 1 57 1 52 0-43 1-16 1-6 1 45 0-42 1 45 1-17 1 6 0 40 1-57 1-17 1 33 0 10 1-16 1-54 1 84 0-86 1-8 1 105 1 20 0-64 1-19 1 79 1-97 0 47 1-19 1 42 1-10 0-39 1 67 1-12 1-27 0-10 1 8 1-42 1 37 0-1 1 29 1-27 1-7 0 24 1 25 1-14 1-25 0-11 1 65 1-48 1-44 0 51 1-71 1 45 1 42 0-29 1-6 1 38 1 16 0-76 1-6 1 15 1-15 0 58 1 9 1-30 1-34 0-19 1 50 1-22 1 44 0-61 1 25 1 6 1 50 0-8 1-11 1-10 1 17 0-88 1 96 1-41 1 62 0-21 1 11 1-67 1 128 1-83 0-10 1-30 1 33 1-88 0 123 1-30 1-20 1 51 0-30 1-2 1-35 1 31 0-54 1 2 1 45 1-27 0-26 1 41 1-59 1 121 0-88 1 1 1 86 1-108 0-26 1 79 1-10 1 46 0-39 1-55 1 61 1-13 0 54 1-34 1-44 1 9 0 25 1-16 1 23 1 2 0-51 1 49 1 22 1-72 0-9 1 79 1-8 1 14 0 29 1-67 1-33 1 46 0-32 1 37 1 13 1-23 0 17 1-20 1 9 1-50 0 101 1-84 1 9 1-11 0 16 1-6 1-56 1 127 0-42 1-23 1 9 1 38 0-6 1-19 1 21 1-123 0 123 1-38 1-18 1-9 0 41 1-63 1 74 1-38 0 55 1-88 1 78 1-29 0-25 1 87 1-3 1-72 0 24 1 64 1-48 1-25 0-10 1 7 1 49 1 14 0-45 1-23 1 9 1-35 0 82 1-16 1 40 1 43 0-32 1-63 1 3 1-34 0-28 1 143 1-58 1-64 0 80 1-100 1 67 1 12 0-27 1 4 1 48 1-48 0 61 1-106 1 50 1 76 1-98 0 1 1 37 1-17 1 25 0 27 1-15 1-13 1-22 0 23 1 25 1-65 1 17 0-25 1 40 1 7 1-26 0-20 1 13 1 51 1-44 0 51 1-52 1-5 1 56 0-57 1 70 1-121 1 80 0-19 1 5 1 24 1-81 0 148 1-92 1 105 1-59 0-22 1-64 1 119 1-38 0 19 1-100 1-7 1 50 0 33 1 10 1 16 1-77 0-17 1 77 1-64 1 35 0 77 1-90 1 29 1-4 0-10 1 14 1 4 1-16 0 53 1-22 1-71 1 89 0-47 1-12 1-22 1 56 0-30 1-27 1-2 1 72 0-54 1-3 1 106 1-79 0 11 1-19 1-6 1-34 0 60 1-15 1-41 1 25 0 67 1-55 1-9 1-26 0 1 1 40 1 10 1-25 0 25 1-64 1 14 1 27 0 28 1-60 1 50 1-74 0 78 1 6 1-59 1 23 0 13 1-52 1 9 1-2 0 34 1 13 1-67 1 5 0 49 1-47 1 15 1 35 0-28 1 35 1-35 1-9 0-23 1-54 1 66 1-51 0 94 1-1 1-11 1 24 0 35 1-138 1 57 1 35 1-38 0 4 1 44 1-21 1-68 0 102 1-82 1 37 1 13 0-81 1 122 1-38 1-10 0 15 1-37 1 34 1-2 0-102 1 35 1 77 1-71 0 57 1-26 1 32 1-89 0 68 1-4 1 9 1-1 0-6 1 11 1 4 1-38 0 72 1-51 1-22 1 45 0-76 1 91 1-51 1 14 0-1 1 16 1-41 1 6 0 30 1-35 1 20 1-4 0-8 1-12 1-5 1 14 0-28 1 3 1 137 1-95 0 32 1-23 1 16 1-21 0 31 1-28 1 3 1-54 0 78 1-41 1 6 1 15 0-5 1-10 1 45 1-74 0-41 1 60 1-68 1 72 0 51 1 10 1-92 1 52 0-57 1 54 1 37 1-70 0 76 1-44 1 83 1-114 0-10 1 78 1-14 1-11 0-48 1 33 1-24 1 73 0-32 1-45 1-6 1-22 0 30 1 21 1 15 1 23 0-55 1 62 1-116 1 68 0 26 1-40 1 26 1 21 0-49 1 27 1 32 1-82 0 82 1-44 1-47 1 65 0 10 1-30 1 19 1 5 0-15 1 3 1 25 1-3 0-27 1-65 1 20 1 32 1 54 0-23 1 45 1-47 1-1 0-26 1 54 1-91 1 60 0-17 1-14 1 52 1-9 0-10 1-25 1-40 1 3 0-42 1 42 1 59 1 38 0-89 1 84 1 23 1-28 0 21 1-61 1-16 1 27 0 25 1-18 1-9 1 22 0-60 1 59 1-98 1 121 0-1 1 34 1-116 1 12 0-16 1-15 1-31 1 111 0-36 1 3 1-59 1 69 0 67 1-67 1 25 1-72 0 80 1-39 1 5 1 9 0-22 1 34 1-29 1-11 0-23 1-3 1 72 1 8 0-42 1-3 1-14 1 27 0 44 1-41 1-29 1 58 0-11 1-91 1 47 1 62 0-31 1-16 1 18 1-57 0 0 1 38 1 8 1 54 0-62 1 15 1 45 1-77 0 11 1 11 1 9 1-4 0 19 1-68 1-4 1 44 0-56 1 116 1-86 1 8 0 42 1-10 1 9 1-22 0-46 1 41 1-18 1-37 0 50 1 44 1-67 1 6 0-1 1 55 1-101 1 90 0-13 1-8 1-30 1 24 0 79 1-62 1-22 1 44 0-75 1 86 1-45 1 95 0-11 1-58 1-6 1-30 1 35 0 5 1-75 1-5 1 73 0-40 1 27 1-2 1 2 0-15 1 31 1 29 1 7 0-71 1 17 1-1 1-57 0-2 1 51 1 21 1 11 0-51 1 47 1-28 1-12 0 52 1-97 1-22 1 153 0-71 1 30 1-32 1-22 0-16 1-23 1 71 1-44 0 33 1 15 1-13 1 6 0 50 1-43 1-2 1-14 0 57 1-5 1-67 1 35 0-19 1-11 1-16 1 97 0-45 1-95 1 114 1 25 0-59 1-6 1 8 1 27 0-53 1 35 1-69 1 96 0-82 1 27 1 28 1 21 0-62 1 2 1 78 1-77 0-6 1 11 1 43 1 0 0 12 1-21 1-31 1 32 0 11 1-69 1 19 1 22 0 59 1-69 1 13 1-1 0 12 1 10 1-59 1-66 0 130 1-103 1 86 1 4 0 11 1-63 1 50 1 12 0 1 1 20 1-81 1 17" style="marker:url(#m8)" fill="none" stroke="none" clip-path="url(#clb)"/><path clip-path="url(#clb)" d="M202.5 355.9 L204.5 355.8 L206.5 355.7 L208.5 355.6 L210.5 355.4 L212.5 355.3 L214.5 355.2 L216.5 355.1 L218.5 355 L220.5 354.9 L222.5 354.7 L224.5 354.6 L226.5 354.5 L228.5 354.4 L230.5 354.3 L232.5 354.2 L234.5 354 L236.5 353.9 L238.5 353.8 L240.5 353.7 L242.5 353.6 L244.5 353.5 L246.5 353.3 L248.5 353.2 L250.5 353.1 L252.5 353 L254.5 352.9 L256.5 352.8 L258.5 352.8 L260.5 352.9 L262.5 353.2 L264.5 353.5 L266.5 353.8 L268.5 354.1 L270.5 354.5 L272.5 354.8 L274.5 355.1 L276.5 355.5 L278.5 355.8 L280.5 356.1 L282.5 356.4 L284.5 356.5 L286.5 356.5 L288.5 356.4 L290.5 356.3 L292.5 356.2 L294.5 356 L296.5 355.9 L298.5 355.8 L300.5 355.6 L302.5 355.5 L304.5 355.4 L306.5 355.3 L308.5 355.1 L310.5 355 L312.5 354.9 L314.5 354.8 L316.5 354.6 L318.5 354.5 L320.5 354.4 L322.5 354.2 L324.5 354.1 L326.5 354 L328.5 353.9 L330.5 353.9 L332.5 354.1 L334.5 354.2 L336.5 354.4 L338.5 354.6 L340.5 354.7 L342.5 354.9 L344.5 355.1 L346.5 355.3 L348.5 355.4 L350.5 355.6 L352.5 355.8 L354.5 355.9 L356.5 356.1 L358.5 356.3 L360.5 356.5 L362.5 356.6 L364.5 356.8 L366.5 357 L368.5 357.1 L370.5 357.3 L372.5 357.5 L374.5 357.7 L376.5 357.8 L378.5 358 L380.5 358.2 L382.5 358.3 L384.5 358.5 L386.5 358.7 L388.5 358.9 L390.5 359 L392.5 359.2 L394.5 359.4 L396.5 359.5 L398.5 359.7 L400.5 359.9 L402.5 360.1 L404.5 360.2 L406.5 360.4 L408.5 360.6 L410.5 360.7 L412.5 360.7 L414.5 360.4 L416.5 360.1 L418.5 359.7 L420.5 359.3 L422.5 358.9 L424.5 358.5 L426.5 358.1 L428.5 357.7 L430.5 357.3 L432.5 356.9 L434.5 356.5 L436.5 356.1 L438.5 355.7 L440.5 355.4 L442.5 355.4 L444.5 355.7 L446.5 356 L448.5 356.3 L450.5 356.7 L452.5 357 L454.5 357.3 L456.5 357.7 L458.5 358 L460.5 358.3 L462.5 358.7 L464.5 359 L466.5 359.4 L468.5 359.7 L470.5 359.9 L472.5 359.9 L474.5 359.9 L476.5 359.8 L478.5 359.8 L480.5 359.7 L482.5 359.7 L484.5 359.6 L486.5 359.6 L488.5 359.5 L490.5 359.5 L492.5 359.4 L494.5 359.3 L496.5 359.3 L498.5 359.2 L500.5 359.2 L502.5 359.1 L504.5 359.1 L506.5 359 L508.5 359 L510.5 358.9 L512.5 358.9 L514.5 358.8 L516.5 358.8 L518.5 358.7 L520.5 358.7 L522.5 358.6 L524.5 358.5 L526.5 358.5 L528.5 358.4 L530.5 358.4 L532.5 358.3 L534.5 358.3 L536.5 358.2 L538.5 358.2 L540.5 358.1 L542.5 358.1 L544.5 358.3 L546.5 358.9 L548.5 359.9 L550.5 361.8 L552.5 364.9 L554.5 369.1 L556.5 373.7 L558.5 378.4 L560.5 383 L562.5 387.6 L564.5 392.3 L566.5 396.9 L568.5 401.6 L570.5 406.1 L572.5 410.3 L574.5 413.4 L576.5 415.3 L578.5 416.7 L580.5 417.8 L582.5 418.6 L584.5 419.2 L586.5 419.5 L588.5 419.8 L590.5 420.2 L592.5 420.5 L594.5 420.8 L596.5 421.1 L598.5 421.4 L600.5 421.7 L602.5 422 L604.5 422.3 L606.5 422.5 L608.5 422.7 L610.5 422.9 L612.5 423.1 L614.5 423.3 L616.5 423.5 L618.5 423.7 L620.5 423.9 L622.5 424.1 L624.5 424.3 L626.5 424.5 L628.5 424.7 L630.5 424.8 L632.5 424.8 L634.5 424.5 L636.5 424.2 L638.5 423.9 L640.5 423.6 L642.5 423.3 L644.5 423 L646.5 422.7 L648.5 422.1 L650.5 421 L652.5 418.9 L654.5 416.3 L656.5 413.3 L658.5 409.8 L660.5 406.1 L662.5 402.3 L664.5 398.5 L666.5 394.6 L668.5 390.8 L670.5 387 L672.5 383.2 L674.5 379.3 L676.5 375.5 L678.5 371.8 L680.5 368.7 L682.5 366.9 L684.5 366.2 L686.5 366.1 L688.5 366.1 L690.5 366 L692.5 366 L694.5 365.9 L696.5 365.9 L698.5 365.9 L700.5 365.8 L702.5 365.8 L704.5 365.8 L706.5 365.7 L708.5 365.7 L710.5 365.6 L712.5 365.6 L714.5 365.6 L716.5 365.5 L718.5 365.5 L720.5 365.4 L722.5 365.4 L724.5 365.4 L726.5 365.3 L728.5 365.3 L730.5 365.3 L732.5 365.2 L734.5 365.2 L736.5 365.1 L738.5 365.1 L740.5 365.1 L742.5 365 L744.5 364.9 L746.5 364.8 L748.5 364.7 L750.5 364.6 L752.5 364.5 L754.5 364.4 L756.5 364.2 L758.5 364.1 L760.5 364 L762.5 363.9 L764.5 363.8 L766.5 363.7 L768.5 363.5 L770.5 363.4 L772.5 363.3 L774.5 363.2 L776.5 363.1 L778.5 363 L780.5 362.8 L782.5 362.7 L784.5 362.6 L786.5 362.5 L788.5 362.4 L790.5 362.3 L792.5 362.2 L794.5 362.2 L796.5 362.2 L798.5 362.3 L800.5 362.4 L802.5 362.5 L804.5 362.5 L806.5 362.6 L808.5 362.7 L810.5 362.8 L812.5 362.9 L814.5 362.9 L816.5 363 L818.5 363.1 L820.5 363.2 L822.5 363.2 L824.5 363.3 L826.5 363.4 L828.5 363.5 L830.5 363.6 L832.5 363.6 L834.5 363.7 L836.5 363.8 L838.5 363.9 L840.5 363.9 L842.5 364 L844.5 364.1 L846.5 364.2 L848.5 364.3 L850.5 364.3 L852.5 364.4 L854.5 364.5 L856.5 364.6 L858.5 364.6 L860.5 364.7 L862.5 364.8 L864.5 364.9 L866.5 364.9 L868.5 364.9 L870.5 364.9 L872.5 364.8 L874.5 364.8 L876.5 364.7 L878.5 364.6 L880.5 364.6 L882.5 364.5 L884.5 364.5 L886.5 364.4 L888.5 364.3 L890.5 364.3 L892.5 364.3 L894.5 364.3 L896.5 364.4 L898.5 364.5 L900.5 364.6 L902.5 364.7 L904.5 364.8 L906.5 365 L908.5 365.1 L910.5 365.2 L912.5 365.3 L914.5 365.4 L916.5 365.5 L918.5 365.6 L920.5 365.7 L922.5 365.8 L924.5 365.9 L926.5 366 L928.5 366.1 L930.5 366.2 L932.5 366.4 L934.5 366.5 L936.5 366.6 L938.5 366.7 L940.5 366.8 L942.5 366.9 L944.5 367 L946.5 367.1 L948.5 367.2 L950.5 367.3 L952.5 367.4 L954.5 367.5 L956.5 367.6 L958.5 367.8 L960.5 367.9 L962.5 368 L964.5 368.1 L966.5 368.2 L968.5 368.2" fill="none" stroke="#fcce25" stroke-width="7.875" stroke-linejoin="round" stroke-linecap="square"/><path clip-path="url(#clb)" d="M202.5 494.6 L204.5 494.5 L206.5 494.5 L208.5 494.4 L210.5 494.4 L212.5 494.3 L214.5 494.3 L216.5 494.2 L218.5 494.1 L220.5 494.1 L222.5 494 L224.5 494 L226.5 493.9 L228.5 493.9 L230.5 493.8 L232.5 493.8 L234.5 493.7 L236.5 493.6 L238.5 493.6 L240.5 493.5 L242.5 493.5 L244.5 493.4 L246.5 493.4 L248.5 493.3 L250.5 493.2 L252.5 493.2 L254.5 493.1 L256.5 493.1 L258.5 493 L260.5 493 L262.5 493 L264.5 493.1 L266.5 493.1 L268.5 493.1 L270.5 493.1 L272.5 493.2 L274.5 493.2 L276.5 493.2 L278.5 493.2 L280.5 493.2 L282.5 493.3 L284.5 493.3 L286.5 493.3 L288.5 493.3 L290.5 493.4 L292.5 493.4 L294.5 493.4 L296.5 493.4 L298.5 493.4 L300.5 493.5 L302.5 493.5 L304.5 493.5 L306.5 493.5 L308.5 493.6 L310.5 493.6 L312.5 493.6 L314.5 493.6 L316.5 493.7 L318.5 493.7 L320.5 493.7 L322.5 493.7 L324.5 493.7 L326.5 493.8 L328.5 493.8 L330.5 493.9 L332.5 494 L334.5 494.1 L336.5 494.2 L338.5 494.3 L340.5 494.4 L342.5 494.5 L344.5 494.6 L346.5 494.7 L348.5 494.8 L350.5 494.9 L352.5 495 L354.5 495.1 L356.5 495.2 L358.5 495.3 L360.5 495.4 L362.5 495.5 L364.5 495.6 L366.5 495.7 L368.5 495.8 L370.5 495.9 L372.5 496 L374.5 496.1 L376.5 496.2 L378.5 496.3 L380.5 496.4 L382.5 496.5 L384.5 496.6 L386.5 496.7 L388.5 496.8 L390.5 496.9 L392.5 497 L394.5 497.1 L396.5 497.2 L398.5 497.3 L400.5 497.4 L402.5 497.5 L404.5 497.6 L406.5 497.7 L408.5 497.8 L410.5 497.9 L412.5 497.9 L414.5 497.7 L416.5 497.6 L418.5 497.4 L420.5 497.1 L422.5 496.9 L424.5 496.7 L426.5 496.5 L428.5 496.3 L430.5 496.1 L432.5 495.9 L434.5 495.7 L436.5 495.5 L438.5 495.3 L440.5 495.1 L442.5 495 L444.5 495 L446.5 495 L448.5 495.1 L450.5 495.1 L452.5 495.1 L454.5 495.1 L456.5 495.1 L458.5 495.1 L460.5 495.2 L462.5 495.2 L464.5 495.2 L466.5 495.2 L468.5 495.2 L470.5 495.3 L472.5 495.3 L474.5 495.3 L476.5 495.3 L478.5 495.3 L480.5 495.3 L482.5 495.4 L484.5 495.4 L486.5 495.4 L488.5 495.4 L490.5 495.4 L492.5 495.4 L494.5 495.5 L496.5 495.5 L498.5 495.5 L500.5 495.5 L502.5 495.5 L504.5 495.5 L506.5 495.6 L508.5 495.6 L510.5 495.6 L512.5 495.6 L514.5 495.6 L516.5 495.7 L518.5 495.7 L520.5 495.7 L522.5 495.7 L524.5 495.7 L526.5 495.7 L528.5 495.8 L530.5 495.8 L532.5 495.8 L534.5 495.8 L536.5 495.8 L538.5 495.8 L540.5 495.9 L542.5 495.9 L544.5 496.1 L546.5 496.6 L548.5 497.3 L550.5 498.9 L552.5 501.6 L554.5 505.4 L556.5 509.5 L558.5 513.7 L560.5 517.8 L562.5 522 L564.5 526.2 L566.5 530.3 L568.5 534.5 L570.5 538.6 L572.5 542.4 L574.5 545.4 L576.5 547.5 L578.5 549.1 L580.5 550.5 L582.5 551.6 L584.5 552.3 L586.5 552.9 L588.5 553.3 L590.5 553.8 L592.5 554.3 L594.5 554.8 L596.5 555.2 L598.5 555.7 L600.5 556.2 L602.5 556.6 L604.5 556.8 L606.5 557 L608.5 557.2 L610.5 557.4 L612.5 557.5 L614.5 557.7 L616.5 557.9 L618.5 558.1 L620.5 558.2 L622.5 558.4 L624.5 558.6 L626.5 558.8 L628.5 558.9 L630.5 559 L632.5 559 L634.5 558.7 L636.5 558.4 L638.5 558.1 L640.5 557.8 L642.5 557.5 L644.5 557.2 L646.5 556.8 L648.5 556.5 L650.5 555.9 L652.5 554.4 L654.5 551.6 L656.5 548.1 L658.5 544.4 L660.5 540.6 L662.5 536.8 L664.5 533.1 L666.5 529.3 L668.5 525.5 L670.5 521.8 L672.5 518 L674.5 514.2 L676.5 510.5 L678.5 506.8 L680.5 503.8 L682.5 502 L684.5 501.4 L686.5 501.3 L688.5 501.3 L690.5 501.3 L692.5 501.3 L694.5 501.3 L696.5 501.3 L698.5 501.3 L700.5 501.3 L702.5 501.3 L704.5 501.3 L706.5 501.3 L708.5 501.3 L710.5 501.3 L712.5 501.3 L714.5 501.3 L716.5 501.3 L718.5 501.3 L720.5 501.3 L722.5 501.3 L724.5 501.3 L726.5 501.3 L728.5 501.3 L730.5 501.3 L732.5 501.3 L734.5 501.3 L736.5 501.3 L738.5 501.3 L740.5 501.3 L742.5 501.3 L744.5 501.2 L746.5 501.2 L748.5 501.1 L750.5 501 L752.5 500.9 L754.5 500.8 L756.5 500.7 L758.5 500.7 L760.5 500.6 L762.5 500.5 L764.5 500.4 L766.5 500.3 L768.5 500.2 L770.5 500.2 L772.5 500.1 L774.5 500 L776.5 499.9 L778.5 499.8 L780.5 499.7 L782.5 499.6 L784.5 499.6 L786.5 499.5 L788.5 499.4 L790.5 499.3 L792.5 499.3 L794.5 499.2 L796.5 499.3 L798.5 499.3 L800.5 499.3 L802.5 499.4 L804.5 499.4 L806.5 499.4 L808.5 499.4 L810.5 499.5 L812.5 499.5 L814.5 499.5 L816.5 499.6 L818.5 499.6 L820.5 499.6 L822.5 499.7 L824.5 499.7 L826.5 499.7 L828.5 499.8 L830.5 499.8 L832.5 499.8 L834.5 499.9 L836.5 499.9 L838.5 499.9 L840.5 500 L842.5 500 L844.5 500 L846.5 500.1 L848.5 500.1 L850.5 500.1 L852.5 500.2 L854.5 500.2 L856.5 500.2 L858.5 500.3 L860.5 500.3 L862.5 500.3 L864.5 500.3 L866.5 500.4 L868.5 500.4 L870.5 500.4 L872.5 500.5 L874.5 500.5 L876.5 500.5 L878.5 500.6 L880.5 500.6 L882.5 500.6 L884.5 500.7 L886.5 500.7 L888.5 500.7 L890.5 500.8 L892.5 500.8 L894.5 500.9 L896.5 500.9 L898.5 501 L900.5 501 L902.5 501.1 L904.5 501.1 L906.5 501.2 L908.5 501.2 L910.5 501.3 L912.5 501.4 L914.5 501.4 L916.5 501.5 L918.5 501.5 L920.5 501.6 L922.5 501.6 L924.5 501.7 L926.5 501.7 L928.5 501.8 L930.5 501.8 L932.5 501.9 L934.5 502 L936.5 502 L938.5 502.1 L940.5 502.1 L942.5 502.2 L944.5 502.2 L946.5 502.3 L948.5 502.3 L950.5 502.4 L952.5 502.5 L954.5 502.5 L956.5 502.6 L958.5 502.6 L960.5 502.7 L962.5 502.7 L964.5 502.8 L966.5 502.8 L968.5 502.9" fill="none" stroke="#fca636" stroke-width="7.875" stroke-linejoin="round" stroke-linecap="square"/><path clip-path="url(#clb)" d="M202.5 631.1 L204.5 630.9 L206.5 630.7 L208.5 630.5 L210.5 630.2 L212.5 630 L214.5 629.7 L216.5 629.5 L218.5 629.2 L220.5 629 L222.5 628.7 L224.5 628.5 L226.5 628.2 L228.5 628 L230.5 627.7 L232.5 627.5 L234.5 627.2 L236.5 627 L238.5 626.8 L240.5 626.5 L242.5 626.3 L244.5 626 L246.5 625.8 L248.5 625.5 L250.5 625.3 L252.5 625 L254.5 624.8 L256.5 624.6 L258.5 624.5 L260.5 624.6 L262.5 624.9 L264.5 625.4 L266.5 625.8 L268.5 626.2 L270.5 626.7 L272.5 627.1 L274.5 627.5 L276.5 628 L278.5 628.4 L280.5 628.8 L282.5 629.2 L284.5 629.3 L286.5 629.3 L288.5 629.1 L290.5 628.8 L292.5 628.6 L294.5 628.4 L296.5 628.1 L298.5 627.9 L300.5 627.6 L302.5 627.4 L304.5 627.2 L306.5 626.9 L308.5 626.7 L310.5 626.5 L312.5 626.2 L314.5 626 L316.5 625.7 L318.5 625.5 L320.5 625.3 L322.5 625 L324.5 624.8 L326.5 624.6 L328.5 624.4 L330.5 624.4 L332.5 624.5 L334.5 624.7 L336.5 624.9 L338.5 625.2 L340.5 625.4 L342.5 625.6 L344.5 625.8 L346.5 626 L348.5 626.2 L350.5 626.4 L352.5 626.7 L354.5 626.9 L356.5 627.1 L358.5 627.3 L360.5 627.5 L362.5 627.7 L364.5 627.9 L366.5 628.2 L368.5 628.4 L370.5 628.6 L372.5 628.8 L374.5 629 L376.5 629.2 L378.5 629.4 L380.5 629.7 L382.5 629.9 L384.5 630.1 L386.5 630.3 L388.5 630.6 L390.5 630.9 L392.5 631.2 L394.5 631.6 L396.5 631.9 L398.5 632.2 L400.5 632.6 L402.5 632.9 L404.5 633.2 L406.5 633.5 L408.5 633.9 L410.5 634.1 L412.5 634.1 L414.5 633.6 L416.5 633 L418.5 632.3 L420.5 631.6 L422.5 630.9 L424.5 630.2 L426.5 629.4 L428.5 628.7 L430.5 628 L432.5 627.3 L434.5 626.6 L436.5 625.9 L438.5 625.2 L440.5 624.7 L442.5 624.6 L444.5 624.9 L446.5 625.3 L448.5 625.7 L450.5 626.2 L452.5 626.6 L454.5 627 L456.5 627.4 L458.5 627.8 L460.5 628.3 L462.5 628.7 L464.5 629.1 L466.5 629.5 L468.5 630 L470.5 630.4 L472.5 630.8 L474.5 631 L476.5 631 L478.5 630.9 L480.5 630.8 L482.5 630.6 L484.5 630.5 L486.5 630.4 L488.5 630.2 L490.5 630.1 L492.5 629.9 L494.5 629.8 L496.5 629.7 L498.5 629.5 L500.5 629.4 L502.5 629.2 L504.5 629.1 L506.5 629 L508.5 628.8 L510.5 628.7 L512.5 628.5 L514.5 628.4 L516.5 628.3 L518.5 628.1 L520.5 628 L522.5 627.9 L524.5 627.7 L526.5 627.6 L528.5 627.4 L530.5 627.3 L532.5 627.2 L534.5 627 L536.5 626.9 L538.5 626.7 L540.5 626.6 L542.5 626.5 L544.5 626.7 L546.5 627.4 L548.5 628.5 L550.5 630.2 L552.5 633.1 L554.5 636.8 L556.5 640.8 L558.5 644.9 L560.5 648.9 L562.5 653 L564.5 657.1 L566.5 661.1 L568.5 665.2 L570.5 669.2 L572.5 672.7 L574.5 675.2 L576.5 676.5 L578.5 677.1 L580.5 677.6 L582.5 678 L584.5 678.2 L586.5 678.5 L588.5 678.7 L590.5 678.9 L592.5 679.1 L594.5 679.3 L596.5 679.5 L598.5 679.7 L600.5 679.9 L602.5 680.2 L604.5 680.6 L606.5 681.1 L608.5 681.6 L610.5 682.1 L612.5 682.6 L614.5 683.1 L616.5 683.6 L618.5 684.1 L620.5 684.6 L622.5 685.2 L624.5 685.7 L626.5 686.2 L628.5 686.7 L630.5 687 L632.5 687 L634.5 686.7 L636.5 686.2 L638.5 685.6 L640.5 685.1 L642.5 684.6 L644.5 684 L646.5 683.5 L648.5 682.9 L650.5 682.4 L652.5 681.6 L654.5 680.1 L656.5 677.5 L658.5 674.3 L660.5 670.8 L662.5 667.3 L664.5 663.9 L666.5 660.4 L668.5 656.9 L670.5 653.4 L672.5 649.9 L674.5 646.5 L676.5 643 L678.5 639.6 L680.5 636.8 L682.5 635.1 L684.5 634.5 L686.5 634.4 L688.5 634.4 L690.5 634.4 L692.5 634.4 L694.5 634.3 L696.5 634.3 L698.5 634.3 L700.5 634.3 L702.5 634.2 L704.5 634.2 L706.5 634.2 L708.5 634.2 L710.5 634.1 L712.5 634.1 L714.5 634.1 L716.5 634 L718.5 634 L720.5 634 L722.5 634 L724.5 633.9 L726.5 633.9 L728.5 633.9 L730.5 633.9 L732.5 633.8 L734.5 633.8 L736.5 633.8 L738.5 633.8 L740.5 633.7 L742.5 633.7 L744.5 633.5 L746.5 633.2 L748.5 632.9 L750.5 632.6 L752.5 632.3 L754.5 632 L756.5 631.7 L758.5 631.4 L760.5 631.1 L762.5 630.8 L764.5 630.5 L766.5 630.1 L768.5 629.8 L770.5 629.5 L772.5 629.2 L774.5 628.9 L776.5 628.6 L778.5 628.3 L780.5 628 L782.5 627.7 L784.5 627.4 L786.5 627.1 L788.5 626.8 L790.5 626.4 L792.5 626.1 L794.5 625.8 L796.5 625.6 L798.5 625.6 L800.5 625.7 L802.5 625.8 L804.5 626 L806.5 626.2 L808.5 626.3 L810.5 626.5 L812.5 626.7 L814.5 626.8 L816.5 627 L818.5 627.2 L820.5 627.3 L822.5 627.5 L824.5 627.6 L826.5 627.8 L828.5 628 L830.5 628.1 L832.5 628.3 L834.5 628.5 L836.5 628.6 L838.5 628.8 L840.5 629 L842.5 629.1 L844.5 629.3 L846.5 629.5 L848.5 629.6 L850.5 629.8 L852.5 630 L854.5 630.1 L856.5 630.3 L858.5 630.5 L860.5 630.6 L862.5 630.8 L864.5 630.9 L866.5 631 L868.5 630.9 L870.5 630.7 L872.5 630.4 L874.5 630.1 L876.5 629.7 L878.5 629.4 L880.5 629.1 L882.5 628.7 L884.5 628.4 L886.5 628.1 L888.5 627.8 L890.5 627.5 L892.5 627.3 L894.5 627.4 L896.5 627.7 L898.5 628 L900.5 628.2 L902.5 628.5 L904.5 628.8 L906.5 629.1 L908.5 629.4 L910.5 629.7 L912.5 629.9 L914.5 630.2 L916.5 630.5 L918.5 630.8 L920.5 631 L922.5 631.1 L924.5 631.2 L926.5 631.2 L928.5 631.2 L930.5 631.2 L932.5 631.2 L934.5 631.2 L936.5 631.2 L938.5 631.2 L940.5 631.2 L942.5 631.2 L944.5 631.2 L946.5 631.2 L948.5 631.2 L950.5 631.2 L952.5 631.2 L954.5 631.2 L956.5 631.2 L958.5 631.2 L960.5 631.2 L962.5 631.2 L964.5 631.2 L966.5 631.2 L968.5 631.2" fill="none" stroke="#f2844b" stroke-width="7.875" stroke-linejoin="round" stroke-linecap="square"/><path clip-path="url(#clb)" d="M202.5 749.7 L204.5 749.6 L206.5 749.6 L208.5 749.5 L210.5 749.4 L212.5 749.3 L214.5 749.3 L216.5 749.2 L218.5 749.1 L220.5 749 L222.5 749 L224.5 748.9 L226.5 748.8 L228.5 748.7 L230.5 748.7 L232.5 748.6 L234.5 748.5 L236.5 748.4 L238.5 748.4 L240.5 748.3 L242.5 748.2 L244.5 748.1 L246.5 748.1 L248.5 748 L250.5 747.9 L252.5 747.8 L254.5 747.8 L256.5 747.7 L258.5 747.7 L260.5 747.8 L262.5 748 L264.5 748.2 L266.5 748.5 L268.5 748.7 L270.5 748.9 L272.5 749.2 L274.5 749.4 L276.5 749.6 L278.5 749.9 L280.5 750.1 L282.5 750.3 L284.5 750.4 L286.5 750.4 L288.5 750.3 L290.5 750.2 L292.5 750.1 L294.5 750 L296.5 749.9 L298.5 749.8 L300.5 749.7 L302.5 749.6 L304.5 749.6 L306.5 749.5 L308.5 749.4 L310.5 749.3 L312.5 749.2 L314.5 749.1 L316.5 749 L318.5 748.9 L320.5 748.8 L322.5 748.7 L324.5 748.6 L326.5 748.5 L328.5 748.5 L330.5 748.5 L332.5 748.6 L334.5 748.7 L336.5 748.8 L338.5 748.9 L340.5 749 L342.5 749.1 L344.5 749.2 L346.5 749.3 L348.5 749.4 L350.5 749.5 L352.5 749.6 L354.5 749.7 L356.5 749.8 L358.5 749.9 L360.5 750 L362.5 750.1 L364.5 750.2 L366.5 750.3 L368.5 750.4 L370.5 750.5 L372.5 750.6 L374.5 750.7 L376.5 750.8 L378.5 750.9 L380.5 751 L382.5 751.1 L384.5 751.2 L386.5 751.3 L388.5 751.4 L390.5 751.5 L392.5 751.6 L394.5 751.7 L396.5 751.8 L398.5 751.9 L400.5 752 L402.5 752.1 L404.5 752.2 L406.5 752.3 L408.5 752.4 L410.5 752.5 L412.5 752.5 L414.5 752.4 L416.5 752.2 L418.5 752 L420.5 751.8 L422.5 751.6 L424.5 751.4 L426.5 751.2 L428.5 751 L430.5 750.8 L432.5 750.6 L434.5 750.4 L436.5 750.2 L438.5 750 L440.5 749.9 L442.5 749.9 L444.5 750 L446.5 750.2 L448.5 750.3 L450.5 750.5 L452.5 750.7 L454.5 750.9 L456.5 751 L458.5 751.2 L460.5 751.4 L462.5 751.6 L464.5 751.7 L466.5 751.9 L468.5 752.1 L470.5 752.3 L472.5 752.4 L474.5 752.5 L476.5 752.5 L478.5 752.5 L480.5 752.4 L482.5 752.4 L484.5 752.3 L486.5 752.2 L488.5 752.2 L490.5 752.1 L492.5 752.1 L494.5 752 L496.5 751.9 L498.5 751.9 L500.5 751.8 L502.5 751.8 L504.5 751.7 L506.5 751.6 L508.5 751.6 L510.5 751.5 L512.5 751.5 L514.5 751.4 L516.5 751.3 L518.5 751.3 L520.5 751.2 L522.5 751.2 L524.5 751.1 L526.5 751 L528.5 751 L530.5 750.9 L532.5 750.9 L534.5 750.8 L536.5 750.7 L538.5 750.7 L540.5 750.6 L542.5 750.6 L544.5 750.8 L546.5 751.3 L548.5 752.2 L550.5 753.7 L552.5 756.2 L554.5 759.6 L556.5 763.2 L558.5 766.9 L560.5 770.6 L562.5 774.3 L564.5 778 L566.5 781.7 L568.5 785.4 L570.5 789.1 L572.5 792.4 L574.5 795 L576.5 796.8 L578.5 798.1 L580.5 799.2 L582.5 800 L584.5 800.6 L586.5 800.9 L588.5 801.2 L590.5 801.6 L592.5 801.9 L594.5 802.2 L596.5 802.5 L598.5 802.8 L600.5 803.1 L602.5 803.4 L604.5 803.7 L606.5 803.9 L608.5 804.1 L610.5 804.3 L612.5 804.5 L614.5 804.7 L616.5 804.9 L618.5 805.1 L620.5 805.3 L622.5 805.5 L624.5 805.7 L626.5 805.9 L628.5 806.1 L630.5 806.2 L632.5 806 L634.5 805.7 L636.5 805.2 L638.5 804.8 L640.5 804.3 L642.5 803.8 L644.5 803.3 L646.5 802.8 L648.5 802.3 L650.5 801.6 L652.5 800.2 L654.5 797.8 L656.5 794.8 L658.5 791.6 L660.5 788.4 L662.5 785.2 L664.5 782 L666.5 778.8 L668.5 775.6 L670.5 772.4 L672.5 769.2 L674.5 766 L676.5 762.8 L678.5 759.7 L680.5 757.1 L682.5 755.6 L684.5 755.1 L686.5 755 L688.5 755 L690.5 755 L692.5 755 L694.5 755 L696.5 755 L698.5 755 L700.5 755 L702.5 755 L704.5 755 L706.5 755 L708.5 755 L710.5 755 L712.5 755 L714.5 755 L716.5 755 L718.5 755 L720.5 755 L722.5 755 L724.5 755 L726.5 755 L728.5 755 L730.5 755 L732.5 755 L734.5 755 L736.5 755 L738.5 755 L740.5 755 L742.5 755 L744.5 754.9 L746.5 754.9 L748.5 754.8 L750.5 754.7 L752.5 754.6 L754.5 754.6 L756.5 754.5 L758.5 754.4 L760.5 754.3 L762.5 754.2 L764.5 754.2 L766.5 754.1 L768.5 754 L770.5 753.9 L772.5 753.8 L774.5 753.7 L776.5 753.7 L778.5 753.6 L780.5 753.5 L782.5 753.4 L784.5 753.3 L786.5 753.3 L788.5 753.2 L790.5 753.1 L792.5 753.1 L794.5 753 L796.5 753.1 L798.5 753.1 L800.5 753.1 L802.5 753.2 L804.5 753.2 L806.5 753.3 L808.5 753.3 L810.5 753.4 L812.5 753.4 L814.5 753.4 L816.5 753.5 L818.5 753.5 L820.5 753.6 L822.5 753.6 L824.5 753.6 L826.5 753.7 L828.5 753.7 L830.5 753.8 L832.5 753.8 L834.5 753.8 L836.5 753.9 L838.5 753.9 L840.5 754 L842.5 754 L844.5 754 L846.5 754.1 L848.5 754.1 L850.5 754.2 L852.5 754.2 L854.5 754.2 L856.5 754.3 L858.5 754.3 L860.5 754.4 L862.5 754.4 L864.5 754.4 L866.5 754.5 L868.5 754.5 L870.5 754.6 L872.5 754.6 L874.5 754.6 L876.5 754.7 L878.5 754.7 L880.5 754.8 L882.5 754.8 L884.5 754.8 L886.5 754.9 L888.5 754.9 L890.5 755 L892.5 755 L894.5 755 L896.5 755.1 L898.5 755.1 L900.5 755.2 L902.5 755.2 L904.5 755.3 L906.5 755.3 L908.5 755.4 L910.5 755.4 L912.5 755.4 L914.5 755.5 L916.5 755.5 L918.5 755.6 L920.5 755.6 L922.5 755.7 L924.5 755.7 L926.5 755.8 L928.5 755.8 L930.5 755.8 L932.5 755.9 L934.5 755.9 L936.5 756 L938.5 756 L940.5 756.1 L942.5 756.1 L944.5 756.2 L946.5 756.2 L948.5 756.2 L950.5 756.3 L952.5 756.3 L954.5 756.4 L956.5 756.4 L958.5 756.5 L960.5 756.5 L962.5 756.6 L964.5 756.6 L966.5 756.6 L968.5 756.7" fill="none" stroke="#e16462" stroke-width="7.875" stroke-linejoin="round" stroke-linecap="square"/><path clip-path="url(#clb)" d="M202.5 866.3 L204.5 866.1 L206.5 865.9 L208.5 865.7 L210.5 865.4 L212.5 865.2 L214.5 864.9 L216.5 864.7 L218.5 864.4 L220.5 864.2 L222.5 863.9 L224.5 863.7 L226.5 863.4 L228.5 863.2 L230.5 862.9 L232.5 862.7 L234.5 862.4 L236.5 862.2 L238.5 862 L240.5 861.7 L242.5 861.5 L244.5 861.2 L246.5 861 L248.5 860.7 L250.5 860.5 L252.5 860.2 L254.5 860 L256.5 859.8 L258.5 859.7 L260.5 859.8 L262.5 860.2 L264.5 860.7 L266.5 861.2 L268.5 861.7 L270.5 862.2 L272.5 862.7 L274.5 863.2 L276.5 863.7 L278.5 864.2 L280.5 864.7 L282.5 865.1 L284.5 865.3 L286.5 865.2 L288.5 865 L290.5 864.7 L292.5 864.4 L294.5 864.2 L296.5 863.9 L298.5 863.6 L300.5 863.4 L302.5 863.1 L304.5 862.8 L306.5 862.5 L308.5 862.3 L310.5 862 L312.5 861.7 L314.5 861.4 L316.5 861.2 L318.5 860.9 L320.5 860.6 L322.5 860.4 L324.5 860.1 L326.5 859.8 L328.5 859.6 L330.5 859.6 L332.5 859.7 L334.5 859.9 L336.5 860.1 L338.5 860.4 L340.5 860.6 L342.5 860.8 L344.5 861 L346.5 861.2 L348.5 861.4 L350.5 861.6 L352.5 861.9 L354.5 862.1 L356.5 862.3 L358.5 862.5 L360.5 862.7 L362.5 862.9 L364.5 863.1 L366.5 863.4 L368.5 863.6 L370.5 863.8 L372.5 864 L374.5 864.2 L376.5 864.4 L378.5 864.6 L380.5 864.9 L382.5 865.1 L384.5 865.3 L386.5 865.5 L388.5 865.8 L390.5 866.1 L392.5 866.4 L394.5 866.8 L396.5 867.1 L398.5 867.4 L400.5 867.8 L402.5 868.1 L404.5 868.4 L406.5 868.7 L408.5 869.1 L410.5 869.3 L412.5 869.3 L414.5 868.8 L416.5 868.2 L418.5 867.5 L420.5 866.8 L422.5 866.1 L424.5 865.4 L426.5 864.6 L428.5 863.9 L430.5 863.2 L432.5 862.5 L434.5 861.8 L436.5 861.1 L438.5 860.4 L440.5 859.9 L442.5 859.8 L444.5 860.1 L446.5 860.5 L448.5 860.9 L450.5 861.4 L452.5 861.8 L454.5 862.2 L456.5 862.6 L458.5 863 L460.5 863.5 L462.5 863.9 L464.5 864.3 L466.5 864.7 L468.5 865.2 L470.5 865.6 L472.5 866 L474.5 866.2 L476.5 866.2 L478.5 866.1 L480.5 866 L482.5 865.8 L484.5 865.7 L486.5 865.5 L488.5 865.4 L490.5 865.3 L492.5 865.1 L494.5 865 L496.5 864.8 L498.5 864.7 L500.5 864.5 L502.5 864.4 L504.5 864.3 L506.5 864.1 L508.5 864 L510.5 863.8 L512.5 863.7 L514.5 863.6 L516.5 863.4 L518.5 863.3 L520.5 863.1 L522.5 863 L524.5 862.8 L526.5 862.7 L528.5 862.6 L530.5 862.4 L532.5 862.3 L534.5 862.1 L536.5 862 L538.5 861.8 L540.5 861.7 L542.5 861.6 L544.5 861.8 L546.5 862.5 L548.5 863.6 L550.5 865.3 L552.5 868.2 L554.5 871.9 L556.5 876 L558.5 880 L560.5 884.1 L562.5 888.2 L564.5 892.2 L566.5 896.3 L568.5 900.4 L570.5 904.4 L572.5 908 L574.5 910.5 L576.5 911.9 L578.5 912.8 L580.5 913.4 L582.5 913.9 L584.5 914.2 L586.5 914.5 L588.5 914.7 L590.5 914.9 L592.5 915.1 L594.5 915.3 L596.5 915.5 L598.5 915.7 L600.5 915.9 L602.5 916.1 L604.5 916.4 L606.5 916.8 L608.5 917.2 L610.5 917.5 L612.5 917.9 L614.5 918.3 L616.5 918.6 L618.5 919 L620.5 919.4 L622.5 919.7 L624.5 920.1 L626.5 920.5 L628.5 920.8 L630.5 921 L632.5 920.9 L634.5 920.5 L636.5 920 L638.5 919.4 L640.5 918.8 L642.5 918.2 L644.5 917.6 L646.5 917 L648.5 916.3 L650.5 915.5 L652.5 914.1 L654.5 911.7 L656.5 908.7 L658.5 905.6 L660.5 902.4 L662.5 899.3 L664.5 896.2 L666.5 893 L668.5 889.9 L670.5 886.8 L672.5 883.6 L674.5 880.5 L676.5 877.4 L678.5 874.3 L680.5 871.8 L682.5 870.3 L684.5 869.8 L686.5 869.7 L688.5 869.7 L690.5 869.7 L692.5 869.7 L694.5 869.7 L696.5 869.7 L698.5 869.7 L700.5 869.7 L702.5 869.7 L704.5 869.7 L706.5 869.7 L708.5 869.7 L710.5 869.7 L712.5 869.7 L714.5 869.7 L716.5 869.7 L718.5 869.7 L720.5 869.7 L722.5 869.7 L724.5 869.7 L726.5 869.7 L728.5 869.7 L730.5 869.7 L732.5 869.7 L734.5 869.7 L736.5 869.7 L738.5 869.7 L740.5 869.7 L742.5 869.6 L744.5 869.5 L746.5 869.2 L748.5 868.9 L750.5 868.6 L752.5 868.3 L754.5 868 L756.5 867.7 L758.5 867.4 L760.5 867.1 L762.5 866.8 L764.5 866.5 L766.5 866.1 L768.5 865.8 L770.5 865.5 L772.5 865.2 L774.5 864.9 L776.5 864.6 L778.5 864.3 L780.5 864 L782.5 863.7 L784.5 863.4 L786.5 863.1 L788.5 862.8 L790.5 862.4 L792.5 862.1 L794.5 861.8 L796.5 861.6 L798.5 861.6 L800.5 861.6 L802.5 861.8 L804.5 861.9 L806.5 862.1 L808.5 862.2 L810.5 862.3 L812.5 862.5 L814.5 862.6 L816.5 862.8 L818.5 862.9 L820.5 863.1 L822.5 863.2 L824.5 863.3 L826.5 863.5 L828.5 863.6 L830.5 863.8 L832.5 863.9 L834.5 864 L836.5 864.2 L838.5 864.3 L840.5 864.5 L842.5 864.6 L844.5 864.8 L846.5 864.9 L848.5 865 L850.5 865.2 L852.5 865.3 L854.5 865.5 L856.5 865.6 L858.5 865.8 L860.5 865.9 L862.5 866 L864.5 866.2 L866.5 866.3 L868.5 866.2 L870.5 866 L872.5 865.8 L874.5 865.6 L876.5 865.4 L878.5 865.1 L880.5 864.9 L882.5 864.7 L884.5 864.4 L886.5 864.2 L888.5 864 L890.5 863.8 L892.5 863.7 L894.5 863.9 L896.5 864.3 L898.5 864.6 L900.5 865 L902.5 865.4 L904.5 865.7 L906.5 866.1 L908.5 866.5 L910.5 866.9 L912.5 867.2 L914.5 867.6 L916.5 868 L918.5 868.3 L920.5 868.6 L922.5 868.8 L924.5 868.8 L926.5 868.8 L928.5 868.7 L930.5 868.6 L932.5 868.6 L934.5 868.5 L936.5 868.5 L938.5 868.4 L940.5 868.4 L942.5 868.3 L944.5 868.3 L946.5 868.2 L948.5 868.2 L950.5 868.1 L952.5 868 L954.5 868 L956.5 867.9 L958.5 867.9 L960.5 867.8 L962.5 867.8 L964.5 867.7 L966.5 867.7 L968.5 867.6" fill="none" stroke="#cc4778" stroke-width="7.875" stroke-linejoin="round" stroke-linecap="square"/><path clip-path="url(#clb)" d="M202.5 968.4 L204.5 968.3 L206.5 968.2 L208.5 968.1 L210.5 968 L212.5 967.9 L214.5 967.8 L216.5 967.7 L218.5 967.6 L220.5 967.5 L222.5 967.4 L224.5 967.3 L226.5 967.2 L228.5 967.1 L230.5 967 L232.5 966.9 L234.5 966.8 L236.5 966.7 L238.5 966.6 L240.5 966.5 L242.5 966.4 L244.5 966.3 L246.5 966.1 L248.5 966 L250.5 965.9 L252.5 965.8 L254.5 965.7 L256.5 965.6 L258.5 965.6 L260.5 965.5 L262.5 965.5 L264.5 965.5 L266.5 965.5 L268.5 965.5 L270.5 965.5 L272.5 965.5 L274.5 965.5 L276.5 965.5 L278.5 965.5 L280.5 965.5 L282.5 965.5 L284.5 965.5 L286.5 965.5 L288.5 965.5 L290.5 965.5 L292.5 965.5 L294.5 965.5 L296.5 965.5 L298.5 965.5 L300.5 965.5 L302.5 965.5 L304.5 965.5 L306.5 965.5 L308.5 965.5 L310.5 965.5 L312.5 965.5 L314.5 965.5 L316.5 965.5 L318.5 965.5 L320.5 965.5 L322.5 965.5 L324.5 965.5 L326.5 965.5 L328.5 965.5 L330.5 965.6 L332.5 965.7 L334.5 965.8 L336.5 965.9 L338.5 966 L340.5 966.2 L342.5 966.3 L344.5 966.4 L346.5 966.5 L348.5 966.6 L350.5 966.8 L352.5 966.9 L354.5 967 L356.5 967.1 L358.5 967.2 L360.5 967.4 L362.5 967.5 L364.5 967.6 L366.5 967.7 L368.5 967.9 L370.5 968 L372.5 968.1 L374.5 968.2 L376.5 968.3 L378.5 968.5 L380.5 968.6 L382.5 968.7 L384.5 968.8 L386.5 968.9 L388.5 969.1 L390.5 969.2 L392.5 969.3 L394.5 969.4 L396.5 969.5 L398.5 969.7 L400.5 969.8 L402.5 969.9 L404.5 970 L406.5 970.2 L408.5 970.3 L410.5 970.3 L412.5 970.3 L414.5 970.1 L416.5 969.8 L418.5 969.4 L420.5 969.1 L422.5 968.7 L424.5 968.4 L426.5 968 L428.5 967.7 L430.5 967.4 L432.5 967 L434.5 966.7 L436.5 966.3 L438.5 966 L440.5 965.8 L442.5 965.8 L444.5 965.9 L446.5 966.2 L448.5 966.4 L450.5 966.7 L452.5 966.9 L454.5 967.2 L456.5 967.4 L458.5 967.7 L460.5 967.9 L462.5 968.2 L464.5 968.4 L466.5 968.7 L468.5 969 L470.5 969.2 L472.5 969.4 L474.5 969.6 L476.5 969.6 L478.5 969.5 L480.5 969.4 L482.5 969.4 L484.5 969.3 L486.5 969.2 L488.5 969.1 L490.5 969 L492.5 969 L494.5 968.9 L496.5 968.8 L498.5 968.7 L500.5 968.6 L502.5 968.5 L504.5 968.5 L506.5 968.4 L508.5 968.3 L510.5 968.2 L512.5 968.1 L514.5 968 L516.5 968 L518.5 967.9 L520.5 967.8 L522.5 967.7 L524.5 967.6 L526.5 967.6 L528.5 967.5 L530.5 967.4 L532.5 967.3 L534.5 967.2 L536.5 967.1 L538.5 967.1 L540.5 967 L542.5 967 L544.5 967.2 L546.5 967.7 L548.5 968.7 L550.5 970.2 L552.5 972.5 L554.5 975.5 L556.5 978.7 L558.5 982 L560.5 985.2 L562.5 988.5 L564.5 991.8 L566.5 995 L568.5 998.3 L570.5 1001.5 L572.5 1004.5 L574.5 1007 L576.5 1008.9 L578.5 1010.4 L580.5 1011.8 L582.5 1012.8 L584.5 1013.4 L586.5 1013.7 L588.5 1014 L590.5 1014.3 L592.5 1014.6 L594.5 1014.9 L596.5 1015.1 L598.5 1015.4 L600.5 1015.7 L602.5 1016 L604.5 1016.2 L606.5 1016.4 L608.5 1016.7 L610.5 1016.9 L612.5 1017.1 L614.5 1017.3 L616.5 1017.6 L618.5 1017.8 L620.5 1018 L622.5 1018.3 L624.5 1018.5 L626.5 1018.7 L628.5 1018.9 L630.5 1019.1 L632.5 1019 L634.5 1018.7 L636.5 1018.3 L638.5 1017.9 L640.5 1017.6 L642.5 1017.2 L644.5 1016.8 L646.5 1016.4 L648.5 1015.9 L650.5 1015.3 L652.5 1014 L654.5 1011.7 L656.5 1008.8 L658.5 1005.8 L660.5 1002.7 L662.5 999.6 L664.5 996.5 L666.5 993.4 L668.5 990.3 L670.5 987.3 L672.5 984.2 L674.5 981.1 L676.5 978 L678.5 975 L680.5 972.5 L682.5 971.1 L684.5 970.6 L686.5 970.5 L688.5 970.5 L690.5 970.5 L692.5 970.5 L694.5 970.5 L696.5 970.5 L698.5 970.5 L700.5 970.5 L702.5 970.5 L704.5 970.5 L706.5 970.5 L708.5 970.5 L710.5 970.5 L712.5 970.5 L714.5 970.5 L716.5 970.5 L718.5 970.5 L720.5 970.5 L722.5 970.5 L724.5 970.5 L726.5 970.5 L728.5 970.5 L730.5 970.5 L732.5 970.5 L734.5 970.5 L736.5 970.5 L738.5 970.5 L740.5 970.5 L742.5 970.5 L744.5 970.4 L746.5 970.3 L748.5 970.2 L750.5 970.1 L752.5 970 L754.5 969.9 L756.5 969.7 L758.5 969.6 L760.5 969.5 L762.5 969.4 L764.5 969.3 L766.5 969.2 L768.5 969 L770.5 968.9 L772.5 968.8 L774.5 968.7 L776.5 968.6 L778.5 968.5 L780.5 968.3 L782.5 968.2 L784.5 968.1 L786.5 968 L788.5 967.9 L790.5 967.8 L792.5 967.7 L794.5 967.6 L796.5 967.6 L798.5 967.7 L800.5 967.7 L802.5 967.7 L804.5 967.7 L806.5 967.8 L808.5 967.8 L810.5 967.8 L812.5 967.8 L814.5 967.9 L816.5 967.9 L818.5 967.9 L820.5 967.9 L822.5 968 L824.5 968 L826.5 968 L828.5 968 L830.5 968.1 L832.5 968.1 L834.5 968.1 L836.5 968.1 L838.5 968.1 L840.5 968.2 L842.5 968.2 L844.5 968.2 L846.5 968.2 L848.5 968.3 L850.5 968.3 L852.5 968.3 L854.5 968.3 L856.5 968.4 L858.5 968.4 L860.5 968.4 L862.5 968.4 L864.5 968.5 L866.5 968.5 L868.5 968.5 L870.5 968.5 L872.5 968.6 L874.5 968.6 L876.5 968.6 L878.5 968.6 L880.5 968.7 L882.5 968.7 L884.5 968.7 L886.5 968.7 L888.5 968.8 L890.5 968.8 L892.5 968.8 L894.5 968.9 L896.5 968.9 L898.5 969 L900.5 969 L902.5 969.1 L904.5 969.1 L906.5 969.2 L908.5 969.2 L910.5 969.3 L912.5 969.4 L914.5 969.4 L916.5 969.5 L918.5 969.5 L920.5 969.6 L922.5 969.6 L924.5 969.7 L926.5 969.7 L928.5 969.8 L930.5 969.8 L932.5 969.9 L934.5 970 L936.5 970 L938.5 970.1 L940.5 970.1 L942.5 970.2 L944.5 970.2 L946.5 970.3 L948.5 970.3 L950.5 970.4 L952.5 970.5 L954.5 970.5 L956.5 970.6 L958.5 970.6 L960.5 970.7 L962.5 970.7 L964.5 970.8 L966.5 970.8 L968.5 970.9" fill="none" stroke="#b12a90" stroke-width="7.875" stroke-linejoin="round" stroke-linecap="square"/><path clip-path="url(#clb)" d="M202.5 1055.8 L204.5 1055.7 L206.5 1055.6 L208.5 1055.5 L210.5 1055.3 L212.5 1055.2 L214.5 1055.1 L216.5 1055 L218.5 1054.9 L220.5 1054.8 L222.5 1054.6 L224.5 1054.5 L226.5 1054.4 L228.5 1054.3 L230.5 1054.2 L232.5 1054.1 L234.5 1053.9 L236.5 1053.8 L238.5 1053.7 L240.5 1053.6 L242.5 1053.5 L244.5 1053.4 L246.5 1053.2 L248.5 1053.1 L250.5 1053 L252.5 1052.9 L254.5 1052.8 L256.5 1052.7 L258.5 1052.6 L260.5 1052.7 L262.5 1053 L264.5 1053.2 L266.5 1053.5 L268.5 1053.7 L270.5 1054 L272.5 1054.3 L274.5 1054.5 L276.5 1054.8 L278.5 1055.1 L280.5 1055.3 L282.5 1055.5 L284.5 1055.6 L286.5 1055.6 L288.5 1055.5 L290.5 1055.3 L292.5 1055.2 L294.5 1055 L296.5 1054.9 L298.5 1054.7 L300.5 1054.6 L302.5 1054.5 L304.5 1054.3 L306.5 1054.2 L308.5 1054 L310.5 1053.9 L312.5 1053.7 L314.5 1053.6 L316.5 1053.4 L318.5 1053.3 L320.5 1053.2 L322.5 1053 L324.5 1052.9 L326.5 1052.7 L328.5 1052.6 L330.5 1052.6 L332.5 1052.7 L334.5 1052.9 L336.5 1053 L338.5 1053.2 L340.5 1053.3 L342.5 1053.5 L344.5 1053.6 L346.5 1053.8 L348.5 1053.9 L350.5 1054.1 L352.5 1054.2 L354.5 1054.4 L356.5 1054.5 L358.5 1054.7 L360.5 1054.8 L362.5 1055 L364.5 1055.1 L366.5 1055.3 L368.5 1055.4 L370.5 1055.6 L372.5 1055.7 L374.5 1055.9 L376.5 1056 L378.5 1056.2 L380.5 1056.3 L382.5 1056.5 L384.5 1056.6 L386.5 1056.8 L388.5 1056.9 L390.5 1057.1 L392.5 1057.2 L394.5 1057.4 L396.5 1057.5 L398.5 1057.7 L400.5 1057.8 L402.5 1058 L404.5 1058.1 L406.5 1058.3 L408.5 1058.4 L410.5 1058.5 L412.5 1058.5 L414.5 1058.3 L416.5 1057.9 L418.5 1057.5 L420.5 1057.2 L422.5 1056.8 L424.5 1056.4 L426.5 1056.1 L428.5 1055.7 L430.5 1055.3 L432.5 1054.9 L434.5 1054.6 L436.5 1054.2 L438.5 1053.8 L440.5 1053.6 L442.5 1053.6 L444.5 1053.7 L446.5 1053.9 L448.5 1054.2 L450.5 1054.4 L452.5 1054.7 L454.5 1054.9 L456.5 1055.2 L458.5 1055.4 L460.5 1055.7 L462.5 1055.9 L464.5 1056.2 L466.5 1056.4 L468.5 1056.7 L470.5 1056.9 L472.5 1057.1 L474.5 1057.3 L476.5 1057.3 L478.5 1057.2 L480.5 1057.1 L482.5 1057.1 L484.5 1057 L486.5 1056.9 L488.5 1056.8 L490.5 1056.7 L492.5 1056.7 L494.5 1056.6 L496.5 1056.5 L498.5 1056.4 L500.5 1056.3 L502.5 1056.2 L504.5 1056.2 L506.5 1056.1 L508.5 1056 L510.5 1055.9 L512.5 1055.8 L514.5 1055.7 L516.5 1055.7 L518.5 1055.6 L520.5 1055.5 L522.5 1055.4 L524.5 1055.3 L526.5 1055.3 L528.5 1055.2 L530.5 1055.1 L532.5 1055 L534.5 1054.9 L536.5 1054.8 L538.5 1054.8 L540.5 1054.7 L542.5 1054.7 L544.5 1054.9 L546.5 1055.4 L548.5 1056.4 L550.5 1057.9 L552.5 1060.5 L554.5 1063.7 L556.5 1067.2 L558.5 1070.8 L560.5 1074.4 L562.5 1077.9 L564.5 1081.5 L566.5 1085 L568.5 1088.6 L570.5 1092.1 L572.5 1095.5 L574.5 1098.4 L576.5 1100.7 L578.5 1102.8 L580.5 1104.6 L582.5 1105.9 L584.5 1106.7 L586.5 1107.2 L588.5 1107.6 L590.5 1108 L592.5 1108.4 L594.5 1108.8 L596.5 1109.2 L598.5 1109.6 L600.5 1110 L602.5 1110.3 L604.5 1110.6 L606.5 1110.8 L608.5 1111.1 L610.5 1111.3 L612.5 1111.5 L614.5 1111.7 L616.5 1112 L618.5 1112.2 L620.5 1112.4 L622.5 1112.7 L624.5 1112.9 L626.5 1113.1 L628.5 1113.3 L630.5 1113.5 L632.5 1113.4 L634.5 1113.1 L636.5 1112.7 L638.5 1112.3 L640.5 1112 L642.5 1111.6 L644.5 1111.2 L646.5 1110.8 L648.5 1110.3 L650.5 1109.7 L652.5 1108.3 L654.5 1105.8 L656.5 1102.6 L658.5 1099.3 L660.5 1095.9 L662.5 1092.5 L664.5 1089.2 L666.5 1085.8 L668.5 1082.4 L670.5 1079 L672.5 1075.7 L674.5 1072.3 L676.5 1068.9 L678.5 1065.7 L680.5 1062.9 L682.5 1061.3 L684.5 1060.8 L686.5 1060.7 L688.5 1060.7 L690.5 1060.7 L692.5 1060.7 L694.5 1060.7 L696.5 1060.7 L698.5 1060.7 L700.5 1060.7 L702.5 1060.7 L704.5 1060.7 L706.5 1060.7 L708.5 1060.7 L710.5 1060.7 L712.5 1060.7 L714.5 1060.7 L716.5 1060.7 L718.5 1060.7 L720.5 1060.7 L722.5 1060.7 L724.5 1060.7 L726.5 1060.7 L728.5 1060.7 L730.5 1060.7 L732.5 1060.7 L734.5 1060.7 L736.5 1060.7 L738.5 1060.7 L740.5 1060.7 L742.5 1060.7 L744.5 1060.6 L746.5 1060.4 L748.5 1060.3 L750.5 1060.1 L752.5 1060 L754.5 1059.8 L756.5 1059.6 L758.5 1059.5 L760.5 1059.3 L762.5 1059.1 L764.5 1059 L766.5 1058.8 L768.5 1058.6 L770.5 1058.5 L772.5 1058.3 L774.5 1058.1 L776.5 1058 L778.5 1057.8 L780.5 1057.6 L782.5 1057.5 L784.5 1057.3 L786.5 1057.1 L788.5 1057 L790.5 1056.8 L792.5 1056.7 L794.5 1056.6 L796.5 1056.6 L798.5 1056.7 L800.5 1056.7 L802.5 1056.7 L804.5 1056.7 L806.5 1056.8 L808.5 1056.8 L810.5 1056.8 L812.5 1056.8 L814.5 1056.9 L816.5 1056.9 L818.5 1056.9 L820.5 1056.9 L822.5 1057 L824.5 1057 L826.5 1057 L828.5 1057 L830.5 1057.1 L832.5 1057.1 L834.5 1057.1 L836.5 1057.1 L838.5 1057.1 L840.5 1057.2 L842.5 1057.2 L844.5 1057.2 L846.5 1057.2 L848.5 1057.3 L850.5 1057.3 L852.5 1057.3 L854.5 1057.3 L856.5 1057.4 L858.5 1057.4 L860.5 1057.4 L862.5 1057.4 L864.5 1057.5 L866.5 1057.5 L868.5 1057.5 L870.5 1057.5 L872.5 1057.6 L874.5 1057.6 L876.5 1057.6 L878.5 1057.6 L880.5 1057.7 L882.5 1057.7 L884.5 1057.7 L886.5 1057.7 L888.5 1057.8 L890.5 1057.8 L892.5 1057.8 L894.5 1057.9 L896.5 1058 L898.5 1058 L900.5 1058.1 L902.5 1058.2 L904.5 1058.3 L906.5 1058.3 L908.5 1058.4 L910.5 1058.5 L912.5 1058.6 L914.5 1058.6 L916.5 1058.7 L918.5 1058.8 L920.5 1058.9 L922.5 1058.9 L924.5 1059 L926.5 1059.1 L928.5 1059.2 L930.5 1059.2 L932.5 1059.3 L934.5 1059.4 L936.5 1059.5 L938.5 1059.6 L940.5 1059.6 L942.5 1059.7 L944.5 1059.8 L946.5 1059.9 L948.5 1059.9 L950.5 1060 L952.5 1060.1 L954.5 1060.2 L956.5 1060.2 L958.5 1060.3 L960.5 1060.4 L962.5 1060.5 L964.5 1060.5 L966.5 1060.6 L968.5 1060.7" fill="none" stroke="#8f0da4" stroke-width="7.875" stroke-linejoin="round" stroke-linecap="square"/><path clip-path="url(#clb)" d="M202.5 1173.7 L204.5 1173.6 L206.5 1173.4 L208.5 1173.3 L210.5 1173.1 L212.5 1172.9 L214.5 1172.7 L216.5 1172.6 L218.5 1172.4 L220.5 1172.2 L222.5 1172 L224.5 1171.9 L226.5 1171.7 L228.5 1171.5 L230.5 1171.3 L232.5 1171.2 L234.5 1171 L236.5 1170.8 L238.5 1170.6 L240.5 1170.4 L242.5 1170.3 L244.5 1170.1 L246.5 1169.9 L248.5 1169.7 L250.5 1169.6 L252.5 1169.4 L254.5 1169.2 L256.5 1169.1 L258.5 1169 L260.5 1169.1 L262.5 1169.3 L264.5 1169.6 L266.5 1169.9 L268.5 1170.2 L270.5 1170.5 L272.5 1170.8 L274.5 1171.1 L276.5 1171.5 L278.5 1171.8 L280.5 1172.1 L282.5 1172.3 L284.5 1172.4 L286.5 1172.4 L288.5 1172.2 L290.5 1172.1 L292.5 1171.9 L294.5 1171.7 L296.5 1171.6 L298.5 1171.4 L300.5 1171.2 L302.5 1171.1 L304.5 1170.9 L306.5 1170.7 L308.5 1170.6 L310.5 1170.4 L312.5 1170.2 L314.5 1170.1 L316.5 1169.9 L318.5 1169.7 L320.5 1169.6 L322.5 1169.4 L324.5 1169.2 L326.5 1169.1 L328.5 1169 L330.5 1169 L332.5 1169.1 L334.5 1169.2 L336.5 1169.4 L338.5 1169.6 L340.5 1169.7 L342.5 1169.9 L344.5 1170.1 L346.5 1170.3 L348.5 1170.4 L350.5 1170.6 L352.5 1170.8 L354.5 1171 L356.5 1171.1 L358.5 1171.3 L360.5 1171.5 L362.5 1171.6 L364.5 1171.8 L366.5 1172 L368.5 1172.2 L370.5 1172.3 L372.5 1172.5 L374.5 1172.7 L376.5 1172.9 L378.5 1173 L380.5 1173.2 L382.5 1173.4 L384.5 1173.5 L386.5 1173.7 L388.5 1174 L390.5 1174.3 L392.5 1174.6 L394.5 1175 L396.5 1175.3 L398.5 1175.6 L400.5 1176 L402.5 1176.3 L404.5 1176.6 L406.5 1176.9 L408.5 1177.3 L410.5 1177.5 L412.5 1177.6 L414.5 1177.3 L416.5 1176.8 L418.5 1176.3 L420.5 1175.8 L422.5 1175.3 L424.5 1174.8 L426.5 1174.3 L428.5 1173.8 L430.5 1173.2 L432.5 1172.7 L434.5 1172.2 L436.5 1171.7 L438.5 1171.2 L440.5 1170.9 L442.5 1170.8 L444.5 1171 L446.5 1171.4 L448.5 1171.7 L450.5 1172 L452.5 1172.3 L454.5 1172.7 L456.5 1173 L458.5 1173.3 L460.5 1173.6 L462.5 1174 L464.5 1174.3 L466.5 1174.6 L468.5 1174.9 L470.5 1175.3 L472.5 1175.6 L474.5 1175.7 L476.5 1175.8 L478.5 1175.7 L480.5 1175.6 L482.5 1175.6 L484.5 1175.5 L486.5 1175.4 L488.5 1175.3 L490.5 1175.2 L492.5 1175.2 L494.5 1175.1 L496.5 1175 L498.5 1174.9 L500.5 1174.8 L502.5 1174.7 L504.5 1174.7 L506.5 1174.6 L508.5 1174.5 L510.5 1174.4 L512.5 1174.3 L514.5 1174.2 L516.5 1174.2 L518.5 1174.1 L520.5 1174 L522.5 1173.9 L524.5 1173.8 L526.5 1173.8 L528.5 1173.7 L530.5 1173.6 L532.5 1173.5 L534.5 1173.4 L536.5 1173.3 L538.5 1173.3 L540.5 1173.2 L542.5 1173.2 L544.5 1173.4 L546.5 1173.9 L548.5 1174.9 L550.5 1176.4 L552.5 1178.7 L554.5 1181.7 L556.5 1184.9 L558.5 1188.2 L560.5 1191.4 L562.5 1194.7 L564.5 1198 L566.5 1201.2 L568.5 1204.5 L570.5 1207.7 L572.5 1210.8 L574.5 1213.5 L576.5 1215.8 L578.5 1217.9 L580.5 1219.7 L582.5 1221.2 L584.5 1222.1 L586.5 1222.8 L588.5 1223.4 L590.5 1224 L592.5 1224.6 L594.5 1225.2 L596.5 1225.8 L598.5 1226.3 L600.5 1226.9 L602.5 1227.4 L604.5 1227.8 L606.5 1228.2 L608.5 1228.4 L610.5 1228.7 L612.5 1229 L614.5 1229.3 L616.5 1229.6 L618.5 1229.9 L620.5 1230.2 L622.5 1230.5 L624.5 1230.8 L626.5 1231 L628.5 1231.3 L630.5 1231.5 L632.5 1231.3 L634.5 1230.9 L636.5 1230.3 L638.5 1229.7 L640.5 1229.1 L642.5 1228.5 L644.5 1227.9 L646.5 1227.3 L648.5 1226.7 L650.5 1225.8 L652.5 1224.4 L654.5 1222 L656.5 1219.1 L658.5 1216.1 L660.5 1213 L662.5 1209.9 L664.5 1206.8 L666.5 1203.7 L668.5 1200.6 L670.5 1197.6 L672.5 1194.5 L674.5 1191.4 L676.5 1188.3 L678.5 1185.3 L680.5 1182.8 L682.5 1181.4 L684.5 1180.9 L686.5 1180.8 L688.5 1180.8 L690.5 1180.8 L692.5 1180.8 L694.5 1180.8 L696.5 1180.8 L698.5 1180.8 L700.5 1180.8 L702.5 1180.8 L704.5 1180.8 L706.5 1180.8 L708.5 1180.8 L710.5 1180.8 L712.5 1180.8 L714.5 1180.8 L716.5 1180.8 L718.5 1180.8 L720.5 1180.8 L722.5 1180.8 L724.5 1180.8 L726.5 1180.8 L728.5 1180.8 L730.5 1180.8 L732.5 1180.8 L734.5 1180.8 L736.5 1180.8 L738.5 1180.8 L740.5 1180.8 L742.5 1180.8 L744.5 1180.6 L746.5 1180.5 L748.5 1180.3 L750.5 1180 L752.5 1179.8 L754.5 1179.6 L756.5 1179.4 L758.5 1179.2 L760.5 1179 L762.5 1178.7 L764.5 1178.5 L766.5 1178.3 L768.5 1178.1 L770.5 1177.9 L772.5 1177.7 L774.5 1177.5 L776.5 1177.2 L778.5 1177 L780.5 1176.8 L782.5 1176.6 L784.5 1176.4 L786.5 1176.2 L788.5 1175.9 L790.5 1175.7 L792.5 1175.5 L794.5 1175.3 L796.5 1175.2 L798.5 1175.1 L800.5 1175.2 L802.5 1175.3 L804.5 1175.4 L806.5 1175.6 L808.5 1175.7 L810.5 1175.8 L812.5 1175.9 L814.5 1176 L816.5 1176.1 L818.5 1176.3 L820.5 1176.4 L822.5 1176.5 L824.5 1176.6 L826.5 1176.7 L828.5 1176.9 L830.5 1177 L832.5 1177.1 L834.5 1177.2 L836.5 1177.3 L838.5 1177.5 L840.5 1177.6 L842.5 1177.7 L844.5 1177.8 L846.5 1177.9 L848.5 1178.1 L850.5 1178.2 L852.5 1178.3 L854.5 1178.4 L856.5 1178.5 L858.5 1178.7 L860.5 1178.8 L862.5 1178.9 L864.5 1179 L866.5 1179.1 L868.5 1179 L870.5 1178.9 L872.5 1178.7 L874.5 1178.5 L876.5 1178.3 L878.5 1178.1 L880.5 1177.9 L882.5 1177.7 L884.5 1177.5 L886.5 1177.3 L888.5 1177.1 L890.5 1176.9 L892.5 1176.9 L894.5 1177.1 L896.5 1177.3 L898.5 1177.7 L900.5 1178 L902.5 1178.3 L904.5 1178.6 L906.5 1178.9 L908.5 1179.3 L910.5 1179.6 L912.5 1179.9 L914.5 1180.2 L916.5 1180.5 L918.5 1180.8 L920.5 1181.1 L922.5 1181.2 L924.5 1181.3 L926.5 1181.3 L928.5 1181.3 L930.5 1181.3 L932.5 1181.3 L934.5 1181.3 L936.5 1181.3 L938.5 1181.3 L940.5 1181.3 L942.5 1181.3 L944.5 1181.3 L946.5 1181.3 L948.5 1181.3 L950.5 1181.3 L952.5 1181.3 L954.5 1181.3 L956.5 1181.3 L958.5 1181.3 L960.5 1181.3 L962.5 1181.3 L964.5 1181.3 L966.5 1181.3 L968.5 1181.3" fill="none" stroke="#6a00a8" stroke-width="7.875" stroke-linejoin="round" stroke-linecap="square"/><path clip-path="url(#clb)" d="M202.5 1309.1 L204.5 1309.1 L206.5 1308.9 L208.5 1308.8 L210.5 1308.7 L212.5 1308.5 L214.5 1308.4 L216.5 1308.3 L218.5 1308.1 L220.5 1308 L222.5 1307.9 L224.5 1307.7 L226.5 1307.6 L228.5 1307.5 L230.5 1307.3 L232.5 1307.2 L234.5 1307.1 L236.5 1306.9 L238.5 1306.8 L240.5 1306.7 L242.5 1306.5 L244.5 1306.4 L246.5 1306.2 L248.5 1306.1 L250.5 1306 L252.5 1305.8 L254.5 1305.7 L256.5 1305.6 L258.5 1305.6 L260.5 1305.7 L262.5 1305.9 L264.5 1306.2 L266.5 1306.5 L268.5 1306.8 L270.5 1307.1 L272.5 1307.4 L274.5 1307.7 L276.5 1308.1 L278.5 1308.4 L280.5 1308.7 L282.5 1308.9 L284.5 1309 L286.5 1309 L288.5 1308.9 L290.5 1308.8 L292.5 1308.7 L294.5 1308.5 L296.5 1308.4 L298.5 1308.3 L300.5 1308.1 L302.5 1308 L304.5 1307.9 L306.5 1307.8 L308.5 1307.6 L310.5 1307.5 L312.5 1307.4 L314.5 1307.3 L316.5 1307.1 L318.5 1307 L320.5 1306.9 L322.5 1306.7 L324.5 1306.6 L326.5 1306.5 L328.5 1306.4 L330.5 1306.4 L332.5 1306.6 L334.5 1306.7 L336.5 1306.9 L338.5 1307.1 L340.5 1307.2 L342.5 1307.4 L344.5 1307.6 L346.5 1307.7 L348.5 1307.9 L350.5 1308.1 L352.5 1308.2 L354.5 1308.4 L356.5 1308.6 L358.5 1308.7 L360.5 1308.9 L362.5 1309.1 L364.5 1309.3 L366.5 1309.4 L368.5 1309.6 L370.5 1309.8 L372.5 1309.9 L374.5 1310.1 L376.5 1310.3 L378.5 1310.4 L380.5 1310.6 L382.5 1310.8 L384.5 1310.9 L386.5 1311.1 L388.5 1311.3 L390.5 1311.5 L392.5 1311.6 L394.5 1311.8 L396.5 1312 L398.5 1312.1 L400.5 1312.3 L402.5 1312.5 L404.5 1312.6 L406.5 1312.8 L408.5 1313 L410.5 1313.1 L412.5 1313.1 L414.5 1312.9 L416.5 1312.6 L418.5 1312.2 L420.5 1311.9 L422.5 1311.5 L424.5 1311.2 L426.5 1310.8 L428.5 1310.5 L430.5 1310.2 L432.5 1309.8 L434.5 1309.5 L436.5 1309.1 L438.5 1308.8 L440.5 1308.6 L442.5 1308.6 L444.5 1308.7 L446.5 1309 L448.5 1309.2 L450.5 1309.5 L452.5 1309.7 L454.5 1310 L456.5 1310.2 L458.5 1310.5 L460.5 1310.7 L462.5 1311 L464.5 1311.2 L466.5 1311.5 L468.5 1311.8 L470.5 1312 L472.5 1312.2 L474.5 1312.4 L476.5 1312.4 L478.5 1312.4 L480.5 1312.3 L482.5 1312.3 L484.5 1312.2 L486.5 1312.1 L488.5 1312.1 L490.5 1312 L492.5 1312 L494.5 1311.9 L496.5 1311.8 L498.5 1311.8 L500.5 1311.7 L502.5 1311.7 L504.5 1311.6 L506.5 1311.5 L508.5 1311.5 L510.5 1311.4 L512.5 1311.4 L514.5 1311.3 L516.5 1311.2 L518.5 1311.2 L520.5 1311.1 L522.5 1311.1 L524.5 1311 L526.5 1310.9 L528.5 1310.9 L530.5 1310.8 L532.5 1310.8 L534.5 1310.7 L536.5 1310.6 L538.5 1310.6 L540.5 1310.5 L542.5 1310.5 L544.5 1310.7 L546.5 1311.3 L548.5 1312.3 L550.5 1313.7 L552.5 1316 L554.5 1319 L556.5 1322.1 L558.5 1325.3 L560.5 1328.5 L562.5 1331.7 L564.5 1334.9 L566.5 1338.1 L568.5 1341.3 L570.5 1344.4 L572.5 1347.4 L574.5 1349.7 L576.5 1351.4 L578.5 1352.8 L580.5 1354 L582.5 1354.9 L584.5 1355.5 L586.5 1355.9 L588.5 1356.3 L590.5 1356.6 L592.5 1357 L594.5 1357.3 L596.5 1357.7 L598.5 1358.1 L600.5 1358.4 L602.5 1358.7 L604.5 1359 L606.5 1359.2 L608.5 1359.5 L610.5 1359.7 L612.5 1359.9 L614.5 1360.1 L616.5 1360.4 L618.5 1360.6 L620.5 1360.8 L622.5 1361.1 L624.5 1361.3 L626.5 1361.5 L628.5 1361.7 L630.5 1361.8 L632.5 1361.7 L634.5 1361.2 L636.5 1360.7 L638.5 1360.1 L640.5 1359.5 L642.5 1358.9 L644.5 1358.3 L646.5 1357.7 L648.5 1357 L650.5 1356.3 L652.5 1355 L654.5 1352.9 L656.5 1350.4 L658.5 1347.8 L660.5 1345.1 L662.5 1342.5 L664.5 1339.8 L666.5 1337.1 L668.5 1334.5 L670.5 1331.8 L672.5 1329.2 L674.5 1326.5 L676.5 1323.9 L678.5 1321.3 L680.5 1319.1 L682.5 1317.9 L684.5 1317.5 L686.5 1317.4 L688.5 1317.4 L690.5 1317.4 L692.5 1317.4 L694.5 1317.4 L696.5 1317.4 L698.5 1317.4 L700.5 1317.4 L702.5 1317.4 L704.5 1317.4 L706.5 1317.4 L708.5 1317.4 L710.5 1317.4 L712.5 1317.4 L714.5 1317.4 L716.5 1317.4 L718.5 1317.4 L720.5 1317.4 L722.5 1317.4 L724.5 1317.4 L726.5 1317.4 L728.5 1317.4 L730.5 1317.4 L732.5 1317.4 L734.5 1317.4 L736.5 1317.4 L738.5 1317.4 L740.5 1317.4 L742.5 1317.4 L744.5 1317.3 L746.5 1317.2 L748.5 1317 L750.5 1316.9 L752.5 1316.7 L754.5 1316.6 L756.5 1316.4 L758.5 1316.3 L760.5 1316.1 L762.5 1315.9 L764.5 1315.8 L766.5 1315.6 L768.5 1315.5 L770.5 1315.3 L772.5 1315.2 L774.5 1315 L776.5 1314.9 L778.5 1314.7 L780.5 1314.6 L782.5 1314.4 L784.5 1314.3 L786.5 1314.1 L788.5 1314 L790.5 1313.8 L792.5 1313.7 L794.5 1313.5 L796.5 1313.4 L798.5 1313.4 L800.5 1313.4 L802.5 1313.5 L804.5 1313.5 L806.5 1313.6 L808.5 1313.6 L810.5 1313.7 L812.5 1313.8 L814.5 1313.8 L816.5 1313.9 L818.5 1313.9 L820.5 1314 L822.5 1314.1 L824.5 1314.1 L826.5 1314.2 L828.5 1314.2 L830.5 1314.3 L832.5 1314.4 L834.5 1314.4 L836.5 1314.5 L838.5 1314.5 L840.5 1314.6 L842.5 1314.7 L844.5 1314.7 L846.5 1314.8 L848.5 1314.8 L850.5 1314.9 L852.5 1314.9 L854.5 1315 L856.5 1315.1 L858.5 1315.1 L860.5 1315.2 L862.5 1315.2 L864.5 1315.3 L866.5 1315.3 L868.5 1315.3 L870.5 1315.3 L872.5 1315.2 L874.5 1315.2 L876.5 1315.1 L878.5 1315 L880.5 1315 L882.5 1314.9 L884.5 1314.9 L886.5 1314.8 L888.5 1314.7 L890.5 1314.7 L892.5 1314.7 L894.5 1314.7 L896.5 1314.9 L898.5 1315 L900.5 1315.1 L902.5 1315.2 L904.5 1315.4 L906.5 1315.5 L908.5 1315.6 L910.5 1315.8 L912.5 1315.9 L914.5 1316 L916.5 1316.1 L918.5 1316.3 L920.5 1316.4 L922.5 1316.5 L924.5 1316.7 L926.5 1316.8 L928.5 1316.9 L930.5 1317 L932.5 1317.2 L934.5 1317.3 L936.5 1317.4 L938.5 1317.6 L940.5 1317.7 L942.5 1317.8 L944.5 1317.9 L946.5 1318.1 L948.5 1318.2 L950.5 1318.3 L952.5 1318.5 L954.5 1318.6 L956.5 1318.7 L958.5 1318.8 L960.5 1319 L962.5 1319.1 L964.5 1319.2 L966.5 1319.3 L968.5 1319.4" fill="none" stroke="#41049d" stroke-width="7.875" stroke-linejoin="round" stroke-linecap="square"/><path d="M1137 336l1-10 1 54 0 47 1-37 1-8 0 69 1-125 1-24 0 24 1 20 1 33 0 31 1-30 1 54 0-112 1 130 1-130 1 95 0-101 1 61 1-13 0 22 1 11 1-46 0 7 1 14 1-73 0 27 1-42 1 77 0 106 1-71 1-76 0 7 1 81 1-69 0-54 1 27 1-1 0 1 1 81 1-29 0-74 1 45 1-28 0-3 1-15 1 155 0-98 1 43 1 13 1-59 0 44 1 0 1-15 0 92 1-89 1-25 0 42 1 54 1-38 0-70 1-18 1-3 0 13 1 50 1 21 0-148 1 107 1-52 0 86 1 11 1-81 0 16 1-24 1 64 0-96 1 24 1 21 0 91 1 55 1-113 1-60 0 63 1-45 1 63 0-75 1 36 1 16 0 26 1-29 1 64 0-54 1-92 1 130 0-58 1-18 1 104 0-119 1 51 1-38 0 98 1-81 1 28 0-77 1 134 1-119 0 94 1 10 1 6 0 27 1-142 1 75 1-12 0 13 1 32 1-47 0-44 1 34 1 78 0-129 1 60 1-51 0 100 1-131 1 62 0 10 1 12 1 107 0-39 1-123 1 152 0-160 1-32 1 18 0 81 1 16 1-131 0 126 1-34 1 47 0-52 1 61 1-16 0-83 1 125 1-59 1 25 0 25 1-106 1 42 0-35 1-6 1 58 0 3 1 47 1 3 0-67 1-39 1 193 0-51 1-107 1-39 0 24 1 33 1 41 0-8 1-25 1-33 0 20 1-23 1 18 0-8 1 30 1-115 0 74 1 2 1-40 1 46 0-42 1 18 1 18 0 2 1-15 1 80 0-43 1 5 1-4 0-43 1-10 1 82 0-57 1-67 1-21 0 116 1-46 1 32 0-23 1 7 1 11 0-51 1 58 1 48 0-14 1-116 1 19 0 1 1 51 1 53 0-26 1-98 1 86 1 36 0-60 1 112 1-122 0 87 1 56 1-173 0 46 1 42 1 126 0-238 1 112 1-13 0-34 1-20 1 15 0 11 1-46 1 135 0-128 1 33 1-11 0 11 1 25 1-41 0 25 1 93 1-32 0-64 1 57 1-79 1 47 0-79 1 14 1 13 0 100 1-48 1 15 0-19 1 11 1 2 0 17 1-29 1-52 0 6 1 96 1 9 0-40 1-105 1 153 0-60 1-18 1 4 0-19 1 102 1-4 0-131 1 42 1 24 0 46 1-177 1 160 1 36 0-96 1 14 1 61 0-41 1-82 1 8 0 6 1-18 1 67 0-24 1 26 1 32 0 52 1-75 1-99 0 155 1-72 1 61 0-77 1 36 1-21 0 5 1 62 1-92 0 39 1 3 1-29 0-87 1 122 1-152 0 64 1 49 1 43 1 20 0-1 1-11 1-46 0 75 1-70 1 66 0-160 1 61 1 18 0 27 1-114 1 153 0 9 1-10 1-62 0 94 1-96 1 70 0-46 1 1 1-6 0 6 1 54 1 16 0-1 1-24 1-12 0-10 1 62 1-105 1-9 0 33 1-82 1 68 0 9 1-47 1 22 0 60 1-44 1 15 0 46 1-79 1-25 0 52 1 23 1-107 0 118 1-47 1-4 0-22 1 33 1 54 0-20 1 13 1-56 0 93 1-15 1-61 0-125 1 129 1 128 0-134 1-46 1 130 1-111 0 53 1 13 1-106 0 76 1 51 1-73 0 47 1-32 1 50 0 39 1-140 1 38 0 33 1-49 1-9 0 22 1 4 1-18 0 47 1 23 1-3 0-4 1 25 1-122 0 60 1 14 1 16 0-102 1 167 1-132 1 55 0 22 1 17 1-85 0 7 1 44 1 10 0 16 1-47 1-30 0-30 1 146 1-148 0 98 1-20 1 23 0 10 1 19 1-68 0 22 1-112 1 95 0-45 1 36 1 66 0-54 1 47 1-61 0 28 1-38 1-102 1 87 0 22 1 20 1-8 0-6 1 52 1-16 0-49 1 61 1-136 0 81 1 6 1 70 0-88 1-45 1 79 0 72 1-90 1 5 0-5 1 12 1 60 0 31 1-71 1-27 0 93 1-84 1-1 0-20 1 2 1 26 0-25 1 34 1-16 1 22 0-44 1 8 1 21 0-8 1 2 1 51 0-107 1-42 1 127 0-46 1 76 1-68 0-52 1 160 1-85 0-41 1-14 1 63 0-59 1 50 1 37 0-121 1 49 1 40 0 56 1-35 1-66 0 91 1-86 1 9 1 26 0-70 1 198 1-89 0-47 1-37 1-29 0 73 1 16 1-52 0 9 1 36 1-29 0-86 1 120 1-20 0 23 1-70 1-66 0 42 1 74 1 84 0 13 1-97 1-84 0 53 1 38 1-1 0-16 1 59 1-106 1-61 0 62 1-14 1 162 0-116 1-59 1 98 0 18 1-45 1 7 0 39 1-24 1-58 0 61 1 17 1-28 0 25 1-14 1-39 0 4 1 37 1-56 0 81 1 3 1-155 0 94 1-33 1 6 0 37 1-15 1 35 0-11 1 2 1-55 1 21 0 86 1-188 1 200 0-109 1 83 1-179 0 103 1 61 1-34 0 42 1-91 1 16 0-5 1 55 1-2 0-28 1-6 1-2 0 18 1-49 1 42 0-4 1-19 1-1 0 97 1-99 1 49 0 45 1-30 1-34 1 47 0-116 1 10 1 39 0 9 1 6 1 94 0-9 1-83 1 14 0-55 1 58 1-79 0 131 1-92 1 52 0-89 1 128 1-37 0 64 1-90 1-80 0 40 1-23 1 135 0-105 1-6 1 64 0-15 1 11 1-48 0-71 1 30 1-39 1 165 0-18 1-61 1 48 0 2 1-2 1-5 0 17 1-38 1-110 0-26 1 192 1-31 0-149 1 128 1-50 0 16 1-98 1 161 0-41 1 43 1 13 0 10 1 17 1-65 0-3 1-41 1 55 0-36 1-45 1 113 1-23 0-162 1 39 1 79 0-54 1 123 1-50 0 19 1 17 1 20 0-78 1 44 1-18 0 26 1-12 1 42 0-42 1-49 1 29 0-60 1 69 1 57 0-101 1-50 1 75 0-20 1 24 1-28 0 32 1-53 1 123 1-85 0 36 1 11 1-43 0 29 1-34 1-9 0 10 1 34 1-84 0 18 1 5 1 11 0 82 1-56 1-14 0 22 1 44 1-87 0 85 1-160 1 69 0 113 1 4 1-65 0-30 1 60 1-59 0 94 1-18 1-19 0-77 1 87 1-59 1 1 0-9 1 15 1 29 0 17 1 0 1 122 0-179 1 72 1-87 0 23 1-47 1 114 0-45 1-7 1-11 0 49 1-67 1 43 0 101 1-127 1-23 0-19 1 88 1-36 0-39 1-4 1 41 0-49 1 148 1-109 1 0 0 5 1-83 1 18 0 52 1 16 1-58 0 140 1-59 1 40 0-6 1-67 1 128 0-111 1-96 1-22 0 112 1 42 1-39 0 80 1-97 1 41 0 8 1-84 1 64 0 3 1 34 1 6 0-11 1-83 1 71 0 16 1-49 1 34 1 1 0 19 1-52 1 19 0-14 1-6 1-33 0 14 1-38 1 44 0 42 1-3 1 6 0-41 1 72 1-88 0 58 1-17 1-55 0 2 1 69 1-34 0 11 1 134 1-120 0-21 1 30 1-64 0 20 1 30 1-60 1 37 0-7 1 14 1-89 0 168 1-88 1 30 0-76 1-12 1 63 0-17 1 47 1-75 0-3 1 63 1 17 0 11 1-46 1 14 0-50 1 100 1-8 0-1 1-130 1 119 0-77 1 58 1-3 0 38 1-67 1-8 1-31 0-9 1 84 1-71 0 75 1-50 1-9 0 73 1-5 1-88 0 39 1 8 1 32 0-67 1 15 1 14 0 39 1 9 1-68 0 109 1-63 1-58 0-36 1 50 1-89 0 121 1 18 1 34 0-37 1-105 1 68 0 47 1-137 1 64 1 69 0-27 1-98 1 71 0 25 1 98 1-119 0-23 1 55 1 4 0 12 1 41 1-72 0-62 1 68 1-2 0 46 1-6 1-75 0 71 1 11 1-56 0 54 1-37 1 0 0-15 1 45 1 98 0-125 1-67 1 45 1-17 0 43 1-22 1 127 0-85 1 53 1-122 0 24 1 108 1-178 0 86 1-80 1 147 0-141 1 53 1 6 0-72 1 198 1-125 0 86 1-111 1-37 0 80 1-2 1 130 0-189 1-24 1 41 0 48 1 12 1-62 1 19 0 42 1 26 1-80 0 34 1-137 1 85 0 66 1-21 1-8 0 86 1-91 1-38 0 62 1 0 1-65 0 103 1 33 1-109 0-14 1 38 1 63 0-86 1-8 1 7 0 39 1-1 1-18 0 65 1 50 1-135 0 78 1-37 1 130 1-185 0 26 1 21 1-73 0 58 1 44 1-103 0 75 1 79 1-113 0-15 1-78 1 116 0-73 1 105 1 51 0-51 1-65 1 69 0-53 1-32 1 30 0 35 1-28 1 42 0 77 1-73 1 7 0-68 1 95 1-46 1 31 0-85 1 48 1-123 0 95" style="marker:url(#m0)" fill="none" stroke="none" clip-path="url(#crb)"/><path d="M1137 469l1-5 1 92 0-110 1 47 1 0 0 22 1 16 1-87 0 35 1-5 1 47 0 8 1-45 1-5 0-16 1 47 1 43 1-43 0-36 1-5 1 4 0-31 1 113 1-55 0-14 1 86 1-68 0 43 1-41 1 28 0-35 1-14 1 26 0 10 1 13 1-30 0-15 1-4 1 22 0-26 1 5 1 29 0 2 1-3 1-42 0-23 1 57 1-5 0-17 1 20 1 21 1-35 0 20 1-46 1 26 0-21 1-21 1 63 0-109 1 93 1 28 0-13 1-65 1 60 0-69 1 31 1 78 0-43 1 34 1-76 0-33 1 45 1 68 0-12 1 5 1-41 0 2 1-4 1 104 0-94 1 56 1-65 1 52 0-82 1 19 1 29 0-31 1 5 1 9 0-13 1 70 1-14 0-85 1 105 1-59 0 0 1-4 1 35 0-6 1-41 1 19 0-46 1 107 1-91 0-1 1 5 1 29 0 21 1-37 1 12 0-12 1 55 1-36 1-64 0 106 1-38 1 53 0-85 1 4 1 11 0-41 1 34 1 55 0-19 1-104 1 124 0-31 1 15 1-26 0 5 1-4 1 0 0-37 1 70 1-28 0 6 1-2 1-21 0 8 1-43 1 54 0 0 1-17 1-50 0 103 1-51 1 5 1-10 0-9 1 6 1-23 0 17 1 89 1-30 0 28 1-88 1-43 0 18 1-43 1 125 0 5 1-38 1 9 0 0 1-16 1 28 0-58 1 19 1 10 0-52 1 23 1 48 0-3 1-94 1 114 0-19 1 14 1-28 1 22 0-64 1 37 1-29 0 18 1 57 1 15 0-53 1-16 1 41 0-11 1 49 1-43 0-100 1 81 1-13 0-16 1 31 1-2 0-14 1 62 1-38 0 1 1-8 1 36 0-78 1 77 1-48 0 58 1-3 1-30 0-32 1 24 1 3 1-61 0 38 1-13 1 70 0 11 1-81 1 6 0-26 1 53 1 18 0 33 1-103 1 74 0-36 1-19 1 12 0-14 1 41 1-15 0 39 1-57 1-45 0 30 1 44 1-61 0 25 1 42 1-63 0 74 1-17 1-31 1 18 0-15 1 3 1 3 0 11 1-4 1-21 0-8 1 101 1-105 0 31 1 45 1-7 0-57 1 91 1-8 0-69 1-31 1 62 0-27 1-3 1-18 0 7 1 26 1 24 0-99 1-10 1 112 0-61 1 51 1-19 1 38 0-11 1-40 1 4 0 16 1 14 1-46 0-29 1 54 1-5 0-4 1-28 1 54 0-78 1 41 1 60 0-81 1 51 1 2 0-1 1-70 1 89 0-29 1 12 1-6 0-8 1 38 1 8 0-111 1 37 1 20 0-67 1 122 1-75 1 44 0-11 1-15 1-26 0 22 1 15 1 23 0-33 1-6 1 4 0 52 1-34 1-32 0-19 1 28 1-17 0 17 1 59 1-22 0-16 1 6 1 44 0-95 1 53 1-22 0 11 1-2 1-13 0 29 1-90 1 81 1 13 0-54 1-1 1 96 0-93 1 17 1-13 0 5 1-2 1-48 0 150 1-103 1 36 0-15 1 48 1-22 0 14 1 2 1-11 0-27 1 29 1-83 0 82 1-6 1-13 0-55 1 89 1-67 0 43 1-82 1 56 0-16 1-4 1 3 1 82 0-61 1 13 1 60 0-119 1 98 1-63 0-8 1 7 1-47 0 9 1 14 1 19 0 42 1 13 1-49 0 25 1 2 1-22 0 15 1-27 1 38 0-26 1 9 1 7 0-4 1-28 1-22 0 43 1-17 1 2 1 14 0-20 1 38 1-1 0-44 1 43 1-45 0 56 1-3 1-21 0 30 1 4 1-19 0-76 1 66 1 2 0 20 1-60 1 57 0-12 1 2 1-55 0 12 1 67 1-10 0-31 1 39 1-27 0-23 1-39 1 87 1-39 0 13 1-68 1 42 0 28 1-18 1-17 0-12 1 44 1-20 0 1 1 2 1-12 0 11 1-10 1 22 0-47 1 9 1 37 0-6 1 11 1 61 0-42 1 13 1-24 0-17 1-23 1-35 0 15 1-31 1 40 0-15 1 20 1 32 1-13 0 43 1 0 1 4 0-5 1-20 1-26 0 32 1-23 1 2 0 20 1-50 1-18 0 65 1 48 1-21 0 87 1-171 1 25 0-55 1 48 1 91 0-9 1-87 1 23 0-17 1-17 1 36 0-2 1 14 1 5 1 15 0 22 1-48 1-4 0 7 1 14 1-19 0-28 1 15 1 42 0-59 1 62 1-74 0 67 1-1 1-26 0 6 1-7 1 63 0-70 1-10 1 37 0 24 1-25 1-16 0 38 1-59 1 0 0-15 1 81 1-114 1 31 0 51 1 5 1 44 0-43 1-31 1 62 0-10 1 3 1-3 0-19 1-65 1 14 0 100 1-64 1-62 0 62 1 30 1-18 0-13 1-77 1 79 0-7 1 60 1-55 0-2 1-13 1 10 0 13 1-25 1-13 0-12 1 45 1-15 1 1 0-40 1 24 1-36 0 94 1 7 1-25 0-18 1 20 1-65 0 5 1 83 1-73 0 32 1-20 1-59 0 59 1 49 1 17 0-127 1 31 1 33 0 52 1 8 1 12 0 3 1-70 1-19 0 64 1-39 1 9 1-13 0-1 1 43 1-63 0-25 1 35 1 26 0-13 1 5 1-61 0 37 1 65 1-42 0-17 1 60 1-56 0 44 1-18 1 6 0 21 1 40 1-32 0-71 1-9 1 27 0 5 1 28 1-22 0 6 1-63 1 55 0 19 1 39 1-31 1-23 0-42 1 39 1 0 0-5 1 10 1 12 0-2 1 59 1-107 0-19 1 65 1-54 0 34 1 4 1-24 0 53 1-5 1-17 0 16 1 9 1-40 0 31 1-16 1-4 0-16 1 74 1-47 0-59 1 64 1-101 1 94 0 16 1 22 1-41 0-30 1 88 1-30 0 9 1-52 1 30 0-80 1 74 1-86 0 36 1-15 1 88 0-8 1-50 1 61 0-39 1-69 1 53 0-44 1 60 1 9 0-36 1 51 1 8 0-65 1 49 1-22 1-6 0 66 1-80 1 11 0 10 1 21 1 7 0-57 1 77 1 16 0 6 1-62 1-22 0-19 1 47 1-14 0 1 1-19 1-53 0 64 1 4 1-7 0-35 1 39 1 4 0-33 1 59 1-22 0 5 1 9 1-22 0 6 1 21 1 7 1 5 0-36 1 32 1 12 0-85 1 33 1 13 0 1 1 60 1-20 0-44 1 0 1-43 0 14 1 78 1-102 0 78 1-44 1 13 0 7 1 65 1-50 0 5 1 18 1-109 0 137 1-118 1 32 0 47 1-64 1-18 1 98 0-50 1 42 1-15 0-22 1 63 1-66 0 77 1-98 1-3 0 10 1 31 1-46 0 15 1 72 1-42 0 32 1-26 1-32 0-6 1 32 1-4 0-20 1-1 1 67 0-13 1-25 1-22 0-2 1 81 1-87 0 97 1-99 1-28 1 117 0-71 1 55 1-37 0-22 1 39 1-41 0 24 1-19 1-54 0 72 1-31 1 13 0 18 1-61 1 66 0 1 1 45 1-37 0-16 1-33 1 21 0-47 1 61 1-20 0-6 1 13 1 14 0-6 1-48 1 83 1-43 0 10 1-11 1-31 0 40 1-22 1-15 0 32 1 21 1-5 0-14 1-27 1 10 0 6 1-43 1 75 0-24 1-46 1 92 0 15 1-107 1 37 0-22 1 53 1-71 0 62 1-4 1 24 0-99 1 37 1 19 1 38 0-28 1 21 1-9 0-45 1 26 1-10 0 3 1-20 1 56 0-15 1-74 1 88 0-43 1-31 1 90 0-41 1 12 1-16 0 3 1-59 1 85 0-49 1 25 1-4 0-29 1-9 1 36 0 47 1-64 1 2 0 23 1-22 1 63 1-28 0 68 1-76 1 66 0-93 1 27 1-42 0 22 1 2 1 31 0 25 1-54 1-39 0 48 1-5 1-11 0 45 1 9 1-61 0 0 1-63 1 66 0 49 1-59 1 61 0-7 1-2 1 0 0-23 1 37 1 1 1-24 0-13 1 45 1 7 0-71 1 49 1-26 0 76 1-89 1-10 0-9 1 61 1-66 0 57 1-39 1 62 0 8 1-15 1-103 0 17 1-42 1 178 0-108 1 6 1 16 0 18 1-31 1 13 0-2 1-43 1 104 1-3 0-57 1-5 1 67 0 19 1-80 1 19 0-34 1 25 1-97 0 10 1 91 1-22 0 20 1-11 1 18 0-12 1-14 1 20 0-36 1 69 1-80 0 20 1 43 1-42 0 44 1 17 1-22 0-41 1 78 1-48 0-48 1 100 1-61 1 14 0 10 1-47 1 47 0-72 1 9 1 20 0 86 1-53 1 19 0-54 1 33 1-89 0 63 1 23 1-34 0-47 1 11 1 77 0 23 1-57 1 66 0-98 1 65 1-11 0 25 1-86 1 84 0-29 1-33 1 13 1 8 0 17 1-38 1-1 0 32" style="marker:url(#m1)" fill="none" stroke="none" clip-path="url(#crb)"/><path d="M1137 630l1 13 1 10 0-69 1 44 1 8 0-5 1-28 1 44 0 25 1-47 1-15 0 39 1-19 1 2 0 3 1-17 1 11 1-18 0-31 1 75 1-19 0-9 1 36 1-38 0 32 1-7 1-28 0-24 1 43 1-6 0 19 1-63 1 35 0 9 1 3 1-6 0 5 1-66 1 50 0-9 1-22 1 42 0-13 1-19 1-6 0 43 1-71 1 61 0-26 1 31 1 45 1-23 0-27 1 39 1 10 0-22 1 21 1-41 0 11 1-18 1-7 0 10 1-20 1 17 0 57 1-37 1-22 0 47 1-7 1-62 0 9 1 61 1-41 0 2 1-18 1-14 0 56 1-49 1 34 0 33 1-33 1-19 1 21 0-2 1-25 1 18 0-37 1-14 1 31 0-31 1 28 1 13 0 8 1 42 1-70 0 12 1-1 1-13 0 76 1-71 1 14 0 1 1 66 1-69 0-12 1 51 1-48 0-36 1 81 1-5 0-59 1 4 1 31 1-24 0-14 1 8 1 75 0-18 1-54 1 23 0 7 1-12 1 8 0 45 1-60 1-4 0 19 1-16 1 5 0 0 1-14 1 56 0-47 1 50 1-55 0-2 1 30 1-13 0 28 1-5 1 42 0-134 1 49 1 25 0-4 1 4 1 67 1-123 0 75 1-24 1 6 0 28 1-29 1 21 0 13 1-2 1-78 0 31 1-17 1 13 0 15 1 58 1-69 0 8 1 4 1 42 0-52 1 25 1 10 0-7 1-66 1 18 0 51 1-63 1 40 0-33 1 48 1-11 1-39 0 33 1-20 1 12 0 47 1-25 1 1 0 31 1-37 1 31 0-23 1-3 1-17 0-12 1-5 1 3 0 37 1-3 1-32 0 53 1-47 1 6 0-25 1 14 1 43 0-11 1-27 1 47 0-33 1 4 1 25 0-15 1-21 1-18 1 59 0-92 1 44 1-28 0 29 1 36 1-30 0-2 1 10 1 50 0-14 1-29 1-22 0 6 1 19 1-15 0 3 1-23 1-8 0 6 1 34 1-29 0 87 1-50 1 3 0 9 1-52 1-3 0 24 1 21 1-1 1 28 0-6 1-9 1 2 0-21 1 15 1-28 0-4 1 34 1-64 0 76 1 12 1-59 0 32 1-15 1-28 0 33 1 5 1 12 0-34 1 12 1-19 0 41 1-28 1 24 0-38 1 20 1-26 0 4 1 46 1-32 1 3 0 20 1-39 1 69 0-68 1 10 1 64 0-97 1 87 1-35 0 3 1-39 1 31 0-36 1 56 1-31 0-10 1 4 1 8 0 29 1-16 1-28 0-3 1-4 1 46 0-8 1-40 1-13 0 39 1-13 1 28 0-16 1 12 1 11 1 5 0-31 1 23 1-32 0-16 1 36 1 24 0 6 1-37 1-42 0 51 1-13 1 20 0 12 1-38 1-7 0 8 1-7 1-8 0 30 1-24 1 12 0-2 1-7 1 30 0-26 1 9 1 22 0-23 1-33 1 25 1 0 0 27 1 25 1-36 0-8 1 39 1-53 0 25 1 4 1-13 0-4 1 9 1 33 0-23 1-29 1 22 0 17 1 20 1-24 0-15 1 29 1-12 0-18 1-20 1 18 0 21 1-49 1-13 0 52 1-51 1 6 0 27 1-1 1 7 1 3 0 9 1-16 1-18 0-49 1 100 1-11 0-4 1-16 1-21 0 33 1-14 1-31 0 58 1-60 1 24 0 54 1-63 1 24 0 22 1-26 1-35 0 23 1 11 1-36 0 72 1-27 1 9 0-11 1 3 1-18 1-28 0 53 1-16 1 38 0-67 1 32 1 50 0-87 1 4 1 35 0 36 1-71 1 31 0-6 1-10 1 8 0 36 1-27 1-35 0 17 1 17 1-37 0 18 1 7 1-42 0 97 1-85 1 41 0-6 1-10 1 45 1-29 0-22 1 50 1-16 0-39 1-12 1 59 0-25 1-33 1 50 0-49 1 19 1-4 0-28 1 66 1 69 0-70 1-6 1-17 0 5 1 9 1 8 0-28 1 14 1-6 0 19 1 9 1 5 0-39 1 0 1 29 0-24 1 2 1 16 1-2 0 24 1-63 1 58 0-39 1 28 1-49 0 29 1-12 1 60 0-68 1 52 1-48 0-8 1 35 1 19 0-28 1 17 1-9 0-7 1 35 1-34 0 22 1-50 1 24 0 28 1-35 1-42 0 72 1-4 1-22 1 10 0-11 1 18 1 18 0-20 1-9 1-10 0 8 1-9 1 37 0-50 1 11 1 24 0-1 1-2 1-17 0 16 1-40 1-3 0 6 1 41 1 25 0-45 1-3 1 7 0 52 1-39 1-3 0-16 1 26 1 20 1-28 0-24 1 52 1-33 0 45 1-70 1 22 0 10 1-50 1 46 0 13 1-18 1 14 0-7 1-25 1 38 0-36 1 11 1-11 0 34 1-27 1 0 0-42 1 46 1 32 0-76 1 60 1-10 0-42 1 33 1 34 0-24 1 9 1 18 1-35 0 29 1-52 1 10 0 57 1-2 1-11 0-60 1 32 1-17 0 70 1-81 1 2 0 17 1 23 1-23 0 7 1 15 1-7 0-46 1 15 1 71 0-39 1 43 1-8 0-9 1-25 1 36 0-49 1 66 1-40 1 0 0-24 1-4 1 8 0-7 1-8 1-5 0 31 1 24 1 19 0-29 1-21 1 18 0 26 1-38 1 21 0-15 1-6 1-17 0 31 1-37 1-5 0 33 1 16 1-1 0-2 1-28 1 4 0 30 1 23 1-116 0 96 1-25 1-6 1-17 0 2 1-14 1 36 0-30 1 19 1-32 0 66 1-13 1-45 0 40 1-21 1-12 0 23 1 19 1 16 0-30 1 22 1-12 0 0 1 7 1-57 0 23 1 47 1-70 0 12 1 67 1-71 0 28 1 3 1-13 1 30 0-2 1-39 1 60 0-63 1 9 1 8 0 8 1-32 1 33 0-60 1 41 1-10 0 5 1 15 1 8 0-25 1 19 1-37 0 27 1 32 1-40 0 10 1 7 1 20 0-11 1-13 1-21 0 31 1-76 1 80 1-29 0 34 1-17 1 35 0-49 1-33 1 49 0-12 1 9 1 31 0-50 1 38 1 5 0 5 1-75 1 52 0-20 1 11 1-14 0 12 1 30 1 19 0-25 1-46 1 60 0-60 1 20 1 37 0-42 1 32 1-24 0-21 1 33 1-18 1 55 0 2 1-6 1-63 0 71 1-39 1 5 0-7 1-19 1 17 0 18 1 17 1-24 0-14 1-12 1 4 0 47 1-22 1-12 0-45 1-3 1 59 0-1 1 12 1-22 0-21 1-26 1 19 0-34 1 64 1 4 1 22 0-78 1 10 1 50 0-7 1-57 1 31 0 20 1-12 1 19 0-9 1-14 1 23 0-11 1 30 1-64 0 30 1-11 1 10 0 16 1 6 1-68 0 81 1-15 1-1 0-11 1 22 1-13 0-55 1 28 1 10 0-3 1-2 1 26 1-42 0 9 1-6 1 24 0 11 1-33 1 32 0-23 1 48 1-90 0 55 1 29 1-38 0-18 1 6 1 35 0-27 1 40 1-25 0-15 1 3 1 22 0 14 1-45 1-10 0 1 1 40 1 34 0-58 1 30 1-27 1 33 0-60 1 52 1-47 0 11 1 29 1-14 0 4 1 15 1-8 0 32 1-18 1-40 0 19 1-11 1 3 0 54 1-63 1 51 0 5 1 31 1-67 0 6 1 1 1-17 0 53 1 5 1-105 0 48 1 38 1-55 1 8 0 18 1-1 1-4 0 1 1 48 1-102 0 45 1-16 1 34 0-17 1 23 1-12 0 57 1-90 1 21 0 34 1-31 1 13 0-42 1 56 1-21 0 17 1-37 1 9 0-8 1 63 1-85 0 54 1-4 1 25 0-24 1-33 1 38 1-56 0 70 1-29 1-16 0 6 1 27 1-56 0 84 1-60 1 56 0-34 1 44 1-79 0 53 1-24 1-14 0 37 1-27 1-13 0 13 1-14 1 14 0 4 1 29 1-30 0-17 1 38 1-28 0-15 1-6 1 74 1-46 0 43 1-65 1-2 0 69 1-49 1 1 0-1 1-20 1 52 0-56 1 49 1-46 0 93 1-48 1 10 0-71 1 52 1-25 0-6 1 1 1 42 0-20 1-13 1-3 0-1 1 3 1 6 0-22 1 6 1-33 1 55 0 15 1-26 1 47 0-54 1 20 1 28 0-23 1-26 1 29 0-19 1 38 1-9 0-24 1 18 1 31 0-15 1-7 1-26 0-10 1-5 1 45 0-53 1 38 1 29 0-79 1 48 1-33 0 21 1 16 1-37 0-9 1 23 1 16 1-15 0-15 1 42 1-46 0-8 1 39 1 51 0-66 1 10 1-23 0 10 1-13 1 35 0-24 1-2 1 43 0-60 1 60 1-28 0-19 1 23 1-6 0 14 1-13 1 53 0-21 1 2 1-59 0 22 1 38 1-14 1-15 0-2 1 28 1-74 0 26" style="marker:url(#m2)" fill="none" stroke="none" clip-path="url(#crb)"/><path d="M1137 720l1 53 1-53 0 24 1 33 1-34 0 12 1-5 1 13 0 32 1-70 1 23 0 36 1 15 1-54 0 33 1-15 1 0 1-43 0-5 1 37 1-5 0 0 1-22 1 55 0-34 1 60 1-61 0 12 1 8 1-23 0-14 1 10 1 12 0-11 1 52 1-52 0 27 1 1 1-13 0-27 1 33 1 9 0-16 1-3 1-45 0 22 1 19 1 8 0 11 1-22 1 10 1-25 0 35 1 2 1-18 0 23 1-27 1-3 0 4 1 47 1-75 0 38 1-12 1 10 0-33 1 46 1-1 0-20 1-3 1 10 0 19 1-52 1 61 0-36 1 24 1-34 0 58 1-35 1 31 0-49 1-1 1 37 1-9 0-7 1 18 1-16 0-16 1-33 1-8 0 61 1-1 1-31 0 30 1-15 1 5 0 19 1-53 1 40 0 4 1-15 1 7 0-27 1 27 1 10 0 3 1-31 1 32 0-11 1 8 1-15 0 14 1-9 1 47 1-57 0 30 1-25 1-30 0 41 1 15 1-9 0 0 1-33 1 23 0-35 1 66 1-5 0-54 1 14 1-18 0 10 1 7 1-16 0 15 1 23 1-19 0 21 1-19 1 6 0-29 1 46 1-43 0 16 1-19 1 37 0-32 1 34 1 28 1-33 0-54 1 67 1-17 0 10 1-5 1 16 0-3 1-22 1-25 0 24 1 18 1-55 0 42 1-41 1 61 0 16 1-21 1-27 0 26 1 11 1 7 0-5 1-7 1-43 0 18 1 12 1-9 0-42 1 38 1-12 1 20 0 2 1-37 1 14 0 19 1-25 1 21 0-17 1 3 1 33 0-21 1-9 1 44 0-39 1 6 1 1 0 63 1-50 1 5 0-26 1 26 1 5 0-48 1 34 1 25 0 4 1-33 1 43 0-62 1 36 1-11 0-33 1 43 1-47 1 13 0 11 1-23 1 50 0-34 1-17 1 32 0-6 1-22 1 11 0 30 1-1 1-51 0 54 1 0 1 3 0-33 1-7 1 15 0-12 1 8 1-7 0 7 1-5 1 11 0 3 1-9 1-6 0 45 1-14 1-9 1-29 0 32 1-17 1 16 0-8 1 48 1-52 0-22 1 44 1 2 0 3 1-82 1 35 0 2 1-17 1 37 0 11 1 9 1-4 0-19 1 32 1-27 0-64 1 52 1-9 0 22 1-16 1 2 0 36 1-45 1-13 1 34 0 8 1-16 1 3 0-13 1-15 1 12 0-7 1 48 1-31 0 35 1-33 1-16 0 23 1 1 1 23 0-70 1 33 1 18 0-25 1 19 1-9 0 36 1-3 1-70 0 11 1 16 1 15 0-2 1-7 1 23 0 6 1-17 1-8 1 7 0-18 1 35 1 0 0-37 1 50 1-31 0 18 1-17 1-4 0 19 1-36 1 15 0-19 1 35 1-15 0-2 1-4 1 24 0-8 1-10 1-5 0 47 1-6 1-55 0 49 1-14 1-5 0 3 1-38 1 80 1-8 0-42 1-1 1 3 0-17 1 25 1-12 0-22 1 12 1-3 0 1 1 5 1 21 0-22 1-26 1 64 0-42 1 42 1-25 0 7 1-29 1 19 0-10 1 7 1 11 0-18 1 26 1-47 0 7 1 31 1 2 0 12 1 11 1-24 1 6 0-10 1-2 1-5 0 4 1-14 1 8 0 20 1-6 1 14 0-34 1 2 1 17 0-27 1-1 1 32 0-20 1 24 1-16 0-11 1-12 1 46 0-26 1-17 1-13 0 5 1 18 1 34 0-45 1 25 1-2 1-74 0 43 1 43 1-59 0 66 1-24 1-35 0 74 1-42 1 36 0-29 1-20 1 39 0 14 1-10 1-52 0 38 1-38 1 12 0 41 1-58 1 82 0-85 1 5 1 43 0-20 1 2 1-17 0 35 1-11 1-6 1-15 0-15 1 31 1-45 0 32 1 27 1 1 0-23 1-46 1 66 0 7 1-17 1 26 0-6 1-57 1 31 0-6 1 44 1-11 0-20 1 10 1 6 0-33 1 11 1 2 0-7 1 2 1 12 0-33 1 4 1 40 0 16 1 7 1-76 1 45 0-26 1 6 1 7 0 13 1 3 1-62 0 38 1 35 1-20 0-37 1 14 1 4 0 38 1 15 1-60 0 34 1-17 1 18 0-17 1-18 1 10 0-1 1 45 1-47 0 28 1-30 1 4 0 19 1-17 1 53 1-13 0-52 1 35 1 21 0-57 1 16 1 40 0-48 1 30 1-15 0 6 1-26 1 20 0-7 1 46 1-24 0-11 1-2 1 14 0-48 1 13 1 2 0 2 1-18 1 46 0-21 1 36 1-29 0-5 1 17 1 0 1-15 0 18 1 14 1-36 0 37 1-31 1 22 0-19 1-7 1 14 0-30 1-10 1 33 0-4 1-19 1 68 0-36 1-23 1 26 0 0 1-19 1 3 0-34 1 43 1 35 0-15 1-2 1-35 0-10 1 41 1-12 0-10 1-3 1 27 1-7 0-23 1 7 1-32 0 10 1 37 1-22 0-8 1 23 1 21 0-44 1 11 1 1 0 57 1-30 1-16 0-35 1 46 1-4 0-16 1-12 1 6 0-25 1 27 1-2 0-9 1 12 1-26 0 56 1-27 1-21 1 41 0-5 1-22 1-17 0 26 1 11 1 4 0 6 1-2 1-48 0 33 1-41 1 59 0-12 1 11 1-19 0-1 1-11 1-46 0 53 1 58 1-27 0-31 1 11 1 3 0-21 1 12 1 7 0-18 1 20 1 16 0-8 1-12 1-9 1 19 0-26 1-2 1 39 0-34 1-20 1 46 0-3 1 8 1-25 0 26 1-27 1-18 0 17 1 9 1-27 0 18 1 9 1-13 0 10 1-2 1-16 0 23 1 5 1-53 0 28 1 31 1-8 0-49 1 45 1 24 1-11 0-2 1-18 1 4 0-26 1 25 1 47 0-48 1-19 1 30 0-53 1 89 1-34 0-18 1-2 1-11 0 21 1-2 1-33 0 53 1-28 1-15 0 42 1-4 1-27 0-2 1 36 1-30 0 12 1 24 1-53 1-6 0 13 1 6 1 13 0 19 1-29 1 44 0-30 1-46 1 41 0 15 1 8 1-37 0 12 1 49 1-43 0-22 1-13 1 23 0 16 1-30 1 51 0-44 1-24 1 53 0-13 1-5 1 31 0-39 1 27 1-25 0 45 1-34 1 0 1 12 0-14 1 11 1-14 0 18 1-12 1-12 0 23 1-2 1-32 0 16 1-28 1 36 0 15 1 33 1-44 0 16 1 9 1-16 0-53 1 29 1 16 0-1 1-3 1-21 0-20 1 46 1 16 0-34 1 22 1-23 1 8 0-9 1 29 1-36 0 22 1 16 1-19 0-25 1 33 1-11 0-23 1 22 1-2 0 19 1-23 1 12 0 11 1-52 1 59 0-20 1-20 1 23 0 18 1-35 1 3 0 39 1 4 1 9 0-40 1-20 1 0 0 12 1-13 1 29 1 17 0-48 1 52 1-48 0 4 1-14 1 43 0-17 1 3 1-60 0 47 1 18 1-62 0 96 1-33 1 16 0-29 1 25 1 8 0 26 1-74 1 64 0-64 1 25 1-11 0 4 1-36 1 34 0-18 1 20 1 10 1-4 0-4 1 31 1-22 0 6 1 15 1-29 0 4 1 11 1-19 0 31 1-38 1 8 0 2 1-4 1 6 0-9 1-39 1 72 0-32 1 23 1-37 0 34 1-38 1 56 0-33 1-6 1-50 0 12 1 36 1-2 1 0 0 2 1 30 1-28 0 0 1-7 1-7 0 30 1-17 1 1 0 14 1-5 1 15 0-1 1-41 1 10 0 36 1-28 1 21 0-31 1-32 1 5 0 31 1 5 1 58 0-33 1-1 1 4 0-51 1 34 1-4 0 43 1-55 1-15 1 31 0-5 1 6 1 3 0-2 1-16 1 4 0 57 1-61 1 24 0-31 1-15 1 54 0-14 1 23 1-5 0-17 1-20 1 55 0-38 1 43 1-29 0 4 1-6 1-3 0-13 1 52 1-66 0-13 1 38 1-20 1 34 0-24 1 28 1-22 0-18 1 9 1 21 0-27 1-5 1 14 0 10 1 18 1-16 0 9 1-22 1 42 0 7 1-58 1 18 0-7 1 9 1-13 0-8 1-13 1 17 0 10 1 21 1-9 0-21 1-5 1-17 1 45 0-12 1 10 1 3 0-4 1-13 1-4 0-15 1 7 1 22 0 38 1-55 1 13 0 61 1-64 1-9 0 7 1-5 1-35 0 57 1-54 1 25 0 2 1 18 1-14 0-5 1-8 1 22 0-12 1-8 1-13 0 10 1 20 1-35 1 35 0-1 1 21 1-37 0-6 1 18 1-6 0-46 1 78 1-20 0-2 1-19 1 24 0-14 1 39 1-19 0 15 1-54 1 7 0 10 1-5 1 46 0-25 1-30 1 17 0 43 1-44 1 19 0-48 1 24 1 8 1-2 0 5 1 7 1 17 0-60" style="marker:url(#m3)" fill="none" stroke="none" clip-path="url(#crb)"/><path d="M1137 866l1 10 1-7 0 15 1-21 1-5 0-6 1 28 1-36 0 14 1 6 1 11 0-15 1-10 1 24 0-28 1 7 1-21 1 36 0-1 1-30 1 24 0 12 1-19 1-17 0 26 1 11 1-40 0 44 1-15 1 16 0-32 1 32 1-10 0 8 1-12 1 15 0-18 1-5 1-9 0-9 1 26 1-6 0 4 1-3 1 10 0-5 1-10 1 21 0 22 1-48 1 7 1 16 0-20 1 28 1-27 0-9 1 4 1 33 0-50 1 35 1-37 0 47 1-6 1 5 0 24 1-36 1 20 0-9 1 8 1-29 0 30 1-23 1 30 0-9 1-14 1 9 0-1 1-5 1 40 0-57 1-8 1 0 1 18 0 3 1 12 1 5 0-12 1-1 1-18 0 32 1 6 1-24 0 13 1-22 1 10 0 2 1 13 1-38 0 25 1 13 1-9 0 5 1-51 1 26 0 7 1-5 1-26 0 55 1-13 1-36 0 24 1 8 1 15 1-5 0-27 1 6 1 14 0 12 1-23 1-3 0 19 1-7 1 20 0-14 1 8 1-48 0 10 1-3 1 13 0 17 1-10 1 13 0-21 1 28 1-2 0-42 1 11 1 7 0 23 1 0 1 16 0-54 1 28 1-4 0-4 1 2 1-31 1 38 0-11 1-14 1 43 0-34 1 15 1-15 0-14 1 18 1 12 0-21 1 24 1 20 0-8 1-25 1-8 0 29 1-38 1 6 0 45 1-22 1 2 0-13 1 52 1 5 0-54 1 16 1-18 0 12 1 15 1-1 1-25 0 11 1 40 1-31 0 8 1-14 1-11 0-17 1 2 1-11 0 9 1 4 1 26 0-39 1 34 1-39 0 75 1-52 1 12 0 26 1-32 1 5 0 1 1 7 1-18 0 37 1-10 1-16 0 18 1-22 1-7 0 7 1 9 1-33 1 20 0 13 1-26 1 24 0-24 1 22 1-5 0 7 1-18 1-21 0-10 1 105 1-86 0 9 1-13 1 51 0-11 1 2 1-33 0 36 1-30 1 33 0-22 1-37 1 37 0-13 1 55 1-63 0 18 1 0 1-10 1 2 0 11 1 7 1-13 0 3 1 4 1-16 0 12 1 5 1 16 0-6 1-3 1 7 0-28 1 32 1-25 0 4 1-5 1 18 0-22 1 21 1-16 0-3 1 15 1-21 0 35 1-32 1 4 0 27 1-44 1 39 1-13 0 0 1 2 1-19 0 43 1-19 1 2 0 3 1 2 1-11 0-20 1-6 1-1 0 15 1 24 1-39 0 16 1 16 1-16 0 1 1-13 1 20 0-12 1-2 1 5 0 13 1 10 1-35 0 27 1-27 1-12 0 20 1 11 1-1 1 7 0-40 1 56 1-9 0-2 1-38 1 34 0-16 1 1 1 8 0-27 1 45 1-1 0-4 1 10 1-51 0 23 1-1 1-15 0 34 1 29 1-59 0 27 1-9 1 2 0-1 1 9 1-21 0 4 1 33 1-27 1 0 0-28 1 36 1 2 0-5 1 21 1-58 0 47 1-42 1 10 0-16 1 46 1-15 0-5 1 7 1-35 0 24 1 14 1-13 0 8 1-25 1 29 0-8 1 9 1 22 0-25 1-11 1 16 0-24 1 45 1-27 0 0 1 8 1-29 1 20 0-3 1 39 1-12 0 6 1-29 1 2 0 15 1-29 1-4 0 41 1-18 1 0 0-35 1 20 1 0 0-4 1 17 1-21 0-4 1 51 1-24 0-24 1 51 1-25 0-4 1-49 1 68 0-21 1 17 1 8 1-49 0 52 1-17 1-11 0-39 1 69 1-27 0 5 1-29 1 29 0 0 1 15 1-40 0-20 1 25 1-6 0 20 1-7 1 6 0 18 1 7 1-27 0-27 1 26 1-3 0 1 1-1 1 2 0-35 1 44 1 0 1-3 0-8 1 17 1-42 0 25 1 11 1-16 0 6 1 17 1-19 0-12 1 7 1 14 0-23 1 17 1-7 0 8 1 11 1-1 0-10 1 2 1 9 0-25 1 15 1-21 0 39 1-19 1-22 0 13 1 20 1-8 0-31 1 55 1-24 1 2 0-11 1-8 1-11 0 27 1-3 1-4 0 16 1-7 1-21 0 10 1 24 1-40 0 57 1-43 1 50 0-34 1-33 1 33 0-6 1-8 1 8 0 0 1-53 1 64 0-17 1 5 1 11 0-11 1-20 1 33 1-18 0 9 1-16 1 9 0-13 1 41 1-42 0 32 1-45 1 34 0-9 1 21 1-12 0 33 1 10 1-56 0 20 1-26 1 0 0 14 1 15 1-3 0-14 1 21 1-37 0 5 1 13 1-28 0 51 1-24 1-3 1 13 0-29 1 20 1-26 0 25 1 5 1 23 0-25 1 22 1-22 0-26 1 38 1-11 0-11 1 25 1-32 0 10 1 18 1 2 0-24 1 16 1-4 0 9 1-14 1-31 0 29 1 30 1-38 0 10 1 17 1-17 0-14 1 17 1-3 1-10 0 11 1-20 1-3 0 7 1 16 1 3 0-10 1 27 1-8 0-9 1 18 1 6 0-13 1-20 1 23 0 5 1-12 1-9 0 6 1 1 1-35 0 56 1-25 1 31 0-31 1-14 1 26 0-12 1 13 1-21 1 0 0-4 1 0 1 18 0-27 1 23 1 15 0-34 1 12 1-9 0 7 1 8 1 9 0 3 1-25 1 22 0-21 1-9 1 3 0-16 1 32 1-30 0 33 1 39 1-58 0-18 1 39 1-23 0 17 1 0 1 4 0 33 1-31 1-1 1-6 0-10 1 2 1-7 0 31 1-17 1 14 0-6 1 31 1-37 0 11 1-20 1 29 0-22 1 4 1-23 0 32 1 18 1-5 0-40 1 32 1-26 0-15 1 7 1 40 0-25 1-15 1 26 0-1 1-10 1 13 1-14 0 26 1-8 1-13 0 7 1 8 1-16 0 10 1-10 1-4 0-25 1 10 1 4 0 17 1 42 1-58 0 8 1-14 1 14 0 3 1 15 1-34 0 31 1-4 1-9 0-16 1 3 1 14 0 13 1-11 1-11 1 17 0-21 1 29 1 35 0-57 1 26 1-32 0 17 1 7 1 11 0-19 1 22 1-43 0 17 1 4 1 1 0-3 1 32 1-36 0 22 1-9 1 27 0-37 1 15 1-2 0-62 1 59 1 10 0 8 1-42 1 14 0 24 1-39 1 6 1 22 0 2 1 11 1-4 0-15 1-20 1 6 0 11 1 6 1-5 0 12 1-25 1 5 0-14 1 54 1-35 0 18 1 5 1-15 0-9 1-5 1 4 0-24 1 20 1 21 0-8 1 9 1 0 0-2 1-10 1 2 1 12 0-22 1-16 1 36 0-13 1 17 1-28 0-17 1 24 1-7 0-6 1 41 1-20 0-24 1-7 1 24 0 12 1-5 1 14 0-14 1 3 1-39 0 52 1-30 1 24 0-40 1 10 1 35 0-40 1 23 1-9 0 35 1-22 1 14 1-21 0-27 1 61 1-43 0 10 1-1 1-25 0 37 1-18 1-22 0 4 1-13 1 24 0 10 1-13 1 15 0-5 1 14 1-8 0-3 1-11 1-6 0 5 1 20 1-14 0 32 1-10 1-36 0 30 1 13 1-31 1 30 0-32 1 38 1-17 0-12 1-24 1 25 0-10 1 18 1-20 0 22 1-16 1 18 0 4 1-11 1 5 0 10 1-33 1 25 0-6 1 23 1-30 0 19 1-43 1 48 0-14 1 0 1 8 0-35 1 17 1 5 1-7 0-3 1 24 1-15 0-5 1 5 1 21 0 9 1-13 1-9 0-31 1 13 1-6 0 0 1 35 1-30 0 33 1-21 1-4 0-1 1-20 1 17 0 20 1-2 1-9 0 8 1-8 1 4 0 33 1-37 1-31 0-6 1 22 1 16 1 12 0-16 1 3 1 7 0-26 1 16 1 6 0-12 1-7 1 22 0 9 1-16 1-40 0 25 1 6 1 14 0-15 1 1 1 23 0 5 1-20 1-19 0-2 1 30 1-23 0 12 1-2 1 5 0 3 1-22 1 6 1 14 0-3 1-23 1 54 0-54 1 39 1-43 0 42 1-44 1 43 0-12 1 10 1-25 0 17 1-1 1-1 0-12 1 31 1-51 0 4 1 1 1 47 0-37 1 2 1 0 0 7 1 1 1-4 0-17 1 32 1-7 1 25 0-18 1-8 1-22 0 25 1 8 1 18 0-21 1 6 1-3 0 17 1-8 1-18 0-24 1 50 1-25 0-15 1-10 1-5 0 33 1-7 1 7 0 15 1-30 1 15 0-13 1-6 1-22 0 24 1 30 1-26 0 13 1-3 1 32 1-9 0-35 1 4 1 25 0-14 1-3 1 18 0-10 1-7 1 48 0-43 1-29 1 28 0-2 1 24 1-22 0-16 1 16 1-26 0 14 1 12 1-20 0-19 1 16 1 3 0 23 1-17 1 6 0-14 1 17 1-12 1 20 0-6 1 20 1-14 0-15" style="marker:url(#m4)" fill="none" stroke="none" clip-path="url(#crb)"/><path d="M1137 951l1 19 1 10 0 14 1-38 1-13 0-9 1 14 1 15 0-2 1-1 1 5 0 7 1-36 1 30 0-3 1-1 1-4 1-26 0 42 1-17 1 6 0 8 1-5 1 7 0 0 1-24 1-4 0 35 1-29 1 53 0-58 1 22 1-4 0 6 1-21 1 22 0 30 1-46 1-29 0 50 1-4 1 5 0-26 1 21 1 9 0-25 1 10 1 8 0 4 1-17 1 8 1 31 0 1 1-55 1 58 0-46 1 26 1-41 0 19 1-9 1 26 0-10 1 4 1-1 0-4 1 13 1-14 0-4 1-9 1-5 0 6 1 16 1 12 0-21 1 38 1-13 0-22 1 6 1-7 0-32 1 47 1-11 1-33 0 45 1-25 1 5 0-26 1 30 1 8 0-15 1 7 1-33 0 43 1-11 1 1 0 12 1 7 1-20 0 17 1 17 1-52 0 21 1-31 1 35 0 18 1-26 1-18 0 11 1 16 1-33 0 1 1 33 1-32 1 25 0-20 1-9 1 42 0 6 1-34 1 55 0-38 1 7 1-6 0-23 1 38 1-16 0 7 1-7 1-9 0 49 1-34 1-12 0 16 1-33 1 28 0 41 1-60 1 21 0-30 1 22 1 19 0-38 1 2 1 37 0-16 1 7 1-2 1-33 0-7 1-4 1 43 0-34 1-7 1 22 0 7 1 8 1-37 0 56 1-41 1 20 0-4 1-17 1 25 0-1 1 14 1 14 0 4 1-21 1-5 0-18 1-21 1 35 0-18 1 6 1-4 0 16 1-15 1 50 1-27 0-25 1 16 1 19 0-47 1 25 1-13 0 11 1-10 1 12 0 5 1 3 1-38 0 39 1-12 1-12 0 11 1 30 1-32 0-13 1 29 1-17 0 17 1-8 1 20 0-36 1 4 1 27 0 11 1-27 1 18 0-13 1-8 1-30 1 67 0-17 1-61 1 55 0-25 1-8 1 8 0 24 1-15 1-3 0 1 1-4 1 17 0-47 1 13 1 21 0-18 1 24 1-10 0 14 1-10 1 14 0-11 1 14 1-20 0-25 1 32 1 0 0-9 1 27 1-9 1 19 0-34 1-1 1 17 0 17 1-39 1 21 0-9 1-5 1 22 0 0 1-3 1-25 0 12 1-30 1 40 0-33 1 18 1 20 0-19 1 7 1-15 0 59 1-69 1 12 0 8 1 50 1-58 0 12 1 13 1-52 1 54 0-9 1 20 1 1 0-18 1 11 1-32 0-9 1 17 1 8 0-9 1 13 1 4 0 20 1-34 1-6 0 17 1-4 1 6 0 20 1-45 1 28 0 11 1-1 1-50 0 21 1 29 1-23 0 8 1-10 1 25 0-19 1-9 1 7 1 23 0-18 1-37 1-8 0 49 1-42 1 32 0-15 1 16 1-17 0-30 1 68 1-26 0-3 1 31 1-16 0 8 1-24 1 6 0 6 1-19 1 26 0-7 1-14 1-1 0 22 1-18 1 10 0-2 1-9 1-53 1 63 0 8 1-26 1 0 0 27 1-36 1 43 0-12 1 14 1-25 0 3 1 3 1-32 0 11 1 36 1-32 0-5 1 23 1 18 0-25 1-4 1 5 0 8 1-36 1 35 0 0 1 12 1 0 0-7 1 24 1-35 0-2 1 30 1-26 1-13 0 1 1 9 1-23 0 41 1-12 1 17 0-40 1 11 1-5 0 21 1-3 1 7 0-1 1-32 1 25 0-4 1-2 1 10 0-43 1 21 1 8 0-10 1-6 1 37 0-1 1 14 1-46 0-25 1 52 1-17 1-14 0 28 1-10 1-29 0 31 1-30 1 38 0-31 1-5 1 39 0 4 1-21 1-16 0 31 1-8 1 1 0-11 1-19 1 18 0 33 1-37 1 10 0 1 1 18 1-12 0-12 1 40 1-30 0 3 1-17 1-15 1 34 0-14 1 12 1-45 0 69 1-29 1 13 0-33 1 21 1 1 0 17 1-6 1-49 0 39 1-1 1-8 0 9 1 7 1 6 0-36 1 5 1 15 0 11 1-28 1 17 0-23 1 23 1-4 0 12 1 16 1-38 0 21 1-35 1 33 1 26 0-58 1 18 1-47 0 63 1 31 1-55 0 23 1 18 1-38 0 17 1-17 1 6 0 8 1 15 1-11 0-5 1-2 1 22 0-10 1-2 1-39 0 28 1-15 1 50 0-19 1 14 1-40 0-13 1 13 1 26 1-24 0 25 1 11 1-29 0 23 1-56 1 17 0 11 1 5 1-20 0 19 1 25 1-3 0-8 1-24 1 42 0-14 1-29 1 35 0-23 1 15 1-3 0 4 1 16 1 18 0-37 1-5 1-2 0 8 1 3 1-33 1 24 0 39 1-27 1 6 0-20 1 39 1-28 0-16 1-7 1 21 0 23 1-43 1-5 0-24 1 53 1-31 0 6 1-6 1 3 0 29 1-27 1 16 0-16 1 7 1 18 0 0 1-33 1 21 0-17 1 29 1-23 0-6 1 31 1-24 1 12 0 10 1-22 1 4 0 16 1 30 1-30 0 3 1-13 1-1 0 27 1-39 1 0 0 39 1-40 1-8 0 30 1 9 1 14 0 8 1-79 1 36 0-2 1 12 1-21 0 15 1 5 1-2 0-18 1 19 1-20 1 1 0 10 1 19 1-50 0 35 1 25 1-22 0-12 1 14 1 24 0-31 1-10 1 26 0-18 1-8 1 27 0-29 1 9 1 29 0-21 1 20 1-54 0 5 1 12 1 12 0-32 1 38 1-13 0 0 1 10 1-5 0-17 1 17 1-17 1 45 0-32 1 3 1-7 0 13 1 3 1-6 0-17 1 39 1-20 0-33 1-7 1 20 0-1 1-9 1 13 0 23 1 16 1-18 0 2 1 14 1 19 0-19 1-9 1-14 0-15 1 25 1 14 0-16 1-15 1 20 1-12 0-9 1-24 1 45 0-22 1 33 1-32 0 12 1-11 1 41 0-7 1-24 1 26 0-48 1 34 1-22 0 8 1-6 1 19 0-43 1 24 1 33 0-66 1 37 1-20 0-24 1 55 1-16 0 32 1-56 1 40 1 22 0-62 1 45 1 1 0-9 1 21 1-13 0-24 1-1 1 11 0 32 1-32 1 19 0-19 1 14 1-2 0 13 1 11 1-42 0-12 1 19 1 1 0 6 1 13 1-26 0 8 1 0 1 20 0-28 1 30 1 13 0-39 1 30 1-16 1-11 0 38 1-14 1-28 0 16 1-22 1-13 0 44 1-19 1 30 0-27 1 2 1-7 0 5 1-17 1 10 0-27 1-2 1 8 0 14 1 9 1-1 0 24 1 23 1-88 0 70 1-9 1-28 0 13 1-37 1 30 1 33 0-50 1 11 1 12 0 11 1-12 1-10 0 21 1-22 1 53 0-20 1-21 1-16 0 4 1-3 1 7 0 14 1-31 1 26 0-3 1-17 1 40 0-14 1-3 1-16 0-3 1 14 1-27 0 32 1-27 1 20 0 13 1-17 1-7 1-2 0 16 1-22 1 19 0 18 1-51 1 19 0 19 1-25 1 2 0-4 1 37 1-53 0 36 1-2 1 4 0-14 1 15 1-11 0-6 1 62 1-29 0-37 1 7 1 20 0 18 1-29 1 16 0-9 1 17 1-30 1-4 0 18 1 0 1-4 0 21 1-9 1-10 0-23 1 33 1 3 0-27 1 10 1-18 0 22 1-6 1-28 0 32 1-6 1 0 0 24 1-10 1 7 0-21 1 30 1-38 0 27 1-40 1 31 0-22 1-8 1 38 1-9 0 6 1-8 1 4 0-6 1-2 1 5 0 39 1-59 1-8 0 10 1 4 1 22 0 10 1 1 1-24 0 16 1 21 1-22 0 12 1-40 1 33 0-2 1-36 1 23 0 10 1-27 1 32 0 1 1-12 1-7 0-1 1 10 1 13 1-44 0 27 1 1 1-20 0-7 1 19 1-26 0 34 1-9 1-15 0 20 1-16 1 3 0 33 1-34 1-32 0 51 1-24 1 2 0 44 1-29 1 16 0-40 1 6 1 4 0 28 1-25 1-23 0 48 1-23 1 11 1 12 0 25 1-39 1 29 0-53 1 28 1 2 0-45 1 22 1 5 0 22 1-18 1 1 0-4 1 20 1-9 0-1 1-2 1 16 0-25 1 12 1 1 0 7 1 11 1-12 0-30 1 42 1 4 0 1 1-7 1-43 1 26 0 16 1 1 1-16 0 4 1-22 1 26 0-43 1 33 1 21 0-39 1 44 1 12 0-25 1-19 1 1 0-13 1 35 1-33 0 23 1-23 1 29 0-34 1 23 1-11 0 31 1-25 1 4 0 23 1-40 1-2 0 20 1-17 1 48 1-27 0 2 1-11 1-50 0 79 1-25 1-34 0 17 1 19 1 22 0-16 1 1 1-1 0-22 1 4 1 12 0-24 1 25 1 11 0-54 1 38 1-1 0 7 1 29 1-56 0 59 1-22 1 32 0-51 1 13 1-8 1 11 0-25 1 2 1 11 0 14" style="marker:url(#m5)" fill="none" stroke="none" clip-path="url(#crb)"/><path d="M1137 1029l1 20 1-6 0 19 1 10 1-46 0 9 1 13 1-13 0 49 1 5 1-18 0-5 1-33 1 3 0 28 1 21 1-37 1 13 0 27 1 2 1-55 0 26 1 9 1-48 0 23 1 14 1-15 0 21 1-18 1-27 0 9 1-18 1 17 0 38 1-6 1 4 0 16 1-49 1 13 0 13 1 31 1-28 0-9 1 9 1-24 0-22 1 50 1-19 0 18 1-33 1 6 1 33 0-11 1 15 1-33 0 15 1 13 1 4 0-19 1 7 1-8 0-1 1 2 1 10 0-36 1 26 1-20 0 21 1-6 1 9 0-9 1 2 1-25 0 56 1-56 1-10 0 45 1 4 1-13 0-5 1-16 1 60 1-72 0 81 1-78 1 11 0 16 1-5 1 19 0-27 1 10 1-25 0 56 1-30 1-9 0 16 1 18 1-11 0-21 1 17 1 4 0 2 1-15 1 20 0-36 1 25 1-19 0 18 1-13 1 26 0-22 1 32 1-43 1 40 0-38 1-33 1 30 0 38 1-14 1 6 0-18 1 15 1-27 0 55 1-3 1-22 0-21 1-2 1 26 0-5 1-25 1 33 0 2 1-6 1-3 0-3 1-4 1-6 0-7 1 37 1-55 0 33 1 15 1 29 0-53 1 35 1-2 1-7 0 18 1-70 1 53 0-21 1 11 1-12 0-14 1-20 1 45 0-13 1-22 1 24 0-19 1 4 1 21 0 12 1-55 1 38 0 13 1-37 1 19 0 12 1 13 1-42 0-10 1 20 1 2 0 10 1 1 1-40 1 54 0-48 1 40 1 3 0-1 1-3 1 1 0-23 1-1 1 60 0-11 1-5 1-10 0-49 1 70 1-42 0 4 1 16 1-29 0 40 1-76 1 74 0-15 1-27 1 34 0 6 1-7 1 3 0-24 1 26 1 0 0 5 1-13 1-47 1 44 0-37 1 11 1 13 0 6 1-10 1 13 0 3 1-7 1-2 0 6 1 6 1-32 0-12 1 52 1-19 0-50 1 69 1 1 0-60 1 13 1 13 0-14 1 12 1 11 0 22 1-71 1 52 0 21 1-72 1 56 1-8 0-10 1 27 1 12 0-4 1 19 1-56 0-28 1 31 1 15 0 20 1-13 1-23 0 40 1-18 1-5 0-8 1 12 1 3 0-11 1-49 1 31 0 27 1 23 1-8 0-1 1 13 1-22 0 13 1-6 1-16 1-23 0-15 1 43 1-34 0 23 1 17 1-30 0 34 1-18 1-19 0 30 1 3 1-25 0 20 1-33 1 26 0 3 1-27 1 24 0 27 1-43 1-10 0-6 1 14 1-7 0-11 1 36 1 4 0-26 1 21 1 18 0-12 1-3 1 10 1-27 0 31 1 20 1-51 0-25 1 23 1-5 0 25 1 20 1-13 0 24 1-26 1-8 0-41 1 48 1-21 0 2 1 5 1 39 0-15 1-18 1-29 0 20 1 3 1 24 0-7 1 0 1-30 0 38 1 36 1-84 1 7 0 23 1 18 1-14 0-3 1 28 1-53 0-20 1 11 1 47 0 3 1-27 1-22 0 12 1 25 1 12 0-33 1-4 1-2 0 6 1 26 1-10 0 4 1-5 1 2 0-31 1 5 1 29 0 1 1 14 1-24 0-16 1 14 1-1 1 16 0-15 1 14 1 1 0 0 1 1 1-32 0 44 1 11 1-17 0 16 1-23 1-20 0 22 1-11 1-2 0 35 1-50 1 41 0-34 1-24 1 50 0-12 1 2 1 1 0 17 1-15 1-12 0 4 1 11 1-21 1 20 0-49 1 38 1 2 0 15 1-36 1 18 0 13 1 48 1-54 0 9 1-23 1 54 0-48 1 0 1 8 0-30 1 6 1 13 0-9 1 36 1-30 0 55 1-40 1-20 0 18 1 11 1-14 0 8 1-13 1-11 1 13 0 37 1-43 1 6 0-29 1 18 1 19 0-13 1 29 1-3 0-29 1 7 1 15 0-6 1-13 1-31 0 64 1-27 1 3 0-17 1 43 1-31 0 5 1-43 1 31 0 8 1 8 1 6 0-17 1 24 1-23 0-1 1 3 1-33 1-11 0 80 1-71 1 23 0 23 1-25 1 36 0-61 1 41 1 10 0 31 1-14 1-44 0 32 1-12 1-30 0 14 1 31 1-27 0-13 1 7 1-13 0-6 1 38 1 2 0 11 1-51 1 8 0 31 1-6 1-6 1-20 0 17 1-22 1 59 0-17 1-33 1 44 0-45 1 32 1-9 0-11 1 35 1-60 0 26 1 0 1-29 0 6 1 32 1 3 0-25 1 31 1-2 0 6 1-20 1 3 0 14 1-23 1-6 0-7 1 34 1 15 1-61 0 31 1 20 1 15 0-24 1-21 1 30 0 32 1-38 1 7 0 20 1-63 1 46 0 13 1-9 1-16 0-11 1-3 1-15 0 16 1-14 1 22 0-3 1-7 1 3 0 9 1-25 1 36 0-8 1 8 1-18 0 2 1 7 1-1 1-9 0 1 1-4 1 3 0-7 1-1 1-4 0 46 1-40 1 11 0-17 1 22 1 21 0-38 1 17 1-4 0 18 1-18 1-1 0-2 1-33 1 57 0 12 1-47 1 32 0-16 1 28 1-38 0 19 1 17 1-15 1-7 0-4 1-11 1 14 0-21 1 51 1-21 0-14 1-26 1 49 0 6 1-17 1 8 0 0 1-17 1-4 0 7 1 22 1-35 0-19 1 32 1 0 0-4 1 5 1-26 0 6 1 9 1 6 0 11 1 4 1-10 0-6 1-16 1 9 1-21 0 16 1 22 1 2 0-29 1 41 1-67 0 55 1-11 1-3 0 11 1-15 1 50 0-51 1 2 1 12 0-43 1 35 1-24 0 52 1-35 1 7 0-32 1 68 1-67 0 5 1 14 1-29 0 17 1 17 1 28 1 1 0-43 1 11 1 24 0 9 1-38 1 11 0 5 1 3 1-8 0 39 1-38 1 27 0-13 1 57 1-39 0-64 1 49 1-52 0 65 1-31 1-35 0 21 1 13 1 34 0-26 1 7 1-22 0 4 1-20 1 21 1 2 0 4 1-15 1 11 0-4 1 13 1-17 0 0 1-5 1 3 0 8 1-14 1 43 0-4 1-13 1 8 0-38 1 11 1 3 0 14 1 11 1 1 0-45 1 27 1 23 0-27 1 14 1-41 0 33 1-6 1-33 0 54 1 11 1-11 1-22 0 4 1-10 1 24 0-3 1 19 1-28 0 18 1-22 1-9 0 13 1-16 1 0 0 31 1-1 1-29 0-2 1 13 1-10 0 28 1-20 1-19 0 9 1 24 1 32 0-30 1-36 1 8 0 21 1-6 1 6 1 35 0-58 1 1 1 18 0 1 1 4 1 12 0-17 1 21 1-17 0 4 1-40 1 16 0 10 1 20 1-25 0-7 1 5 1 47 0-62 1 34 1-4 0 27 1-14 1-20 0 23 1 8 1-31 0-26 1 9 1 25 0-21 1 22 1 19 1-17 0 38 1-45 1-21 0 27 1 16 1-46 0 36 1 23 1-28 0 31 1-64 1 40 0-43 1-2 1 5 0 49 1-14 1 21 0-44 1-16 1 49 0-30 1-16 1 44 0 6 1-35 1 17 0 8 1-29 1 3 1 21 0 26 1-50 1 34 0-4 1-7 1-8 0-12 1 29 1-15 0-47 1 56 1-22 0 12 1 43 1-33 0-48 1 33 1-14 0 42 1-85 1 76 0-10 1-8 1 15 0 28 1-72 1 26 0 10 1 1 1-6 1 15 0-7 1-11 1-28 0 50 1 16 1-6 0-14 1 15 1-53 0 45 1-8 1-9 0 25 1-27 1-4 0-12 1-16 1 27 0 44 1 2 1-49 0 15 1 27 1-51 0 12 1-19 1 60 0-45 1 6 1 6 0-16 1 68 1-28 1 19 0-83 1 56 1-18 0-19 1 24 1 31 0-9 1-34 1 80 0-46 1-39 1-1 0 4 1 12 1-9 0-3 1 33 1-33 0 16 1-15 1 8 0 29 1-23 1 15 0-17 1 24 1-23 0 23 1-49 1 49 1-13 0-28 1 5 1-27 0 35 1 8 1-14 0 32 1-65 1 39 0-21 1 15 1 27 0-18 1 31 1-38 0-6 1 8 1-24 0 12 1 16 1 20 0-39 1 1 1-14 0 4 1 27 1 2 0 5 1-12 1 27 1-57 0 35 1 13 1-19 0 15 1-13 1-3 0 11 1-17 1 13 0 13 1-35 1 36 0 10 1 10 1-40 0 30 1-60 1 9 0 29 1-24 1 4 0-2 1 14 1-7 0-6 1 18 1-9 0 10 1 6 1 5 0-15 1-4 1 0 1-14 0 31 1-10 1 22 0-15 1-16 1 27 0-23 1 5 1 10 0-4 1-20 1 29 0-6 1-8 1-4 0 9 1-35 1 56 0-75 1 29 1 0 0 27 1-7 1 7 0-32 1 48 1-6 0-59 1 45 1-42 1 27 0 22 1-10 1-27 0 14" style="marker:url(#m6)" fill="none" stroke="none" clip-path="url(#crb)"/><path d="M1137 1199l1-23 1 14 0-61 1 56 1-8 0-29 1 60 1-37 0 23 1-35 1 23 0 4 1-17 1 6 0 5 1-10 1-29 1 40 0-11 1 9 1-27 0 59 1-15 1 12 0 12 1-22 1-32 0-25 1 61 1-22 0 14 1 12 1-37 0-19 1 33 1-21 0-10 1 31 1-16 0 19 1-40 1 24 0-3 1 6 1-15 0 32 1-53 1 47 0 16 1-27 1 2 1-21 0 26 1 4 1-6 0 4 1 5 1-8 0-51 1 17 1 25 0 57 1-27 1-27 0-5 1-6 1 26 0-22 1 9 1-24 0 11 1-13 1 5 0 10 1 38 1-20 0 17 1-37 1 18 0-22 1 10 1 1 1-36 0 41 1-31 1 42 0-28 1-23 1 10 0 7 1 57 1-66 0 21 1 14 1-9 0 3 1 19 1-35 0 60 1-9 1-28 0 28 1-30 1-14 0-19 1 13 1 31 0-6 1 31 1-1 0-16 1-19 1 40 1-44 0-58 1 52 1 18 0 3 1 0 1 5 0-83 1 120 1-43 0-11 1-50 1 68 0-46 1-23 1 63 0-1 1-17 1-19 0 33 1-9 1 7 0 1 1-47 1 48 0-42 1 42 1-21 0-3 1 53 1-35 0-1 1 15 1 35 1-125 0 84 1-12 1 27 0-27 1-2 1 16 0-15 1-21 1 22 0 46 1-32 1-72 0 54 1-21 1 48 0-52 1 26 1 15 0 8 1-36 1 23 0 49 1-73 1 18 0-23 1 17 1 17 0-11 1 16 1-49 1 36 0-12 1-64 1 100 0-25 1-18 1 42 0-13 1-73 1 71 0 49 1-53 1 14 0-64 1 3 1 3 0 64 1-4 1-87 0 86 1-76 1 17 0 34 1-16 1 17 0 6 1 25 1-42 0-5 1-1 1 80 0-32 1 1 1-16 1-8 0 31 1-39 1-37 0-2 1 106 1-92 0 9 1 14 1 31 0-56 1 23 1 15 0-43 1 35 1 27 0-22 1-4 1 10 0-14 1-10 1-3 0 36 1-64 1 11 0 52 1 10 1-28 0-25 1-20 1 57 1-11 0 4 1 2 1-38 0 7 1 17 1-2 0-37 1 9 1 27 0 41 1 26 1-55 0-15 1 16 1-6 0-24 1-62 1 89 0-21 1 14 1-23 0 16 1 13 1-39 0 17 1 34 1 5 0-67 1 68 1 13 1-23 0 1 1-8 1 7 0-23 1 46 1-34 0-37 1 51 1 10 0-13 1-36 1 42 0-92 1 119 1-29 0-61 1-7 1 115 0-56 1-25 1 28 0-15 1 1 1 13 0 0 1-35 1 35 0-2 1-31 1 50 0-11 1-40 1 73 1-32 0 21 1-55 1 7 0 16 1-18 1 9 0-31 1 90 1-40 0 21 1 11 1-47 0 54 1-113 1 51 0-5 1 13 1-29 0 53 1 29 1-46 0 10 1-72 1 37 0 29 1-27 1 25 0-18 1 20 1-46 1 50 0 24 1-19 1 37 0-58 1 26 1-57 0 59 1-12 1-19 0 36 1-60 1 24 0 14 1-34 1 1 0 51 1-35 1-18 0 15 1-3 1-5 0 29 1-36 1-11 0 39 1-3 1 33 0-65 1 19 1 41 0-17 1-24 1-7 1 39 0-19 1-20 1 10 0 1 1 34 1-90 0 51 1 46 1-75 0 36 1 29 1-55 0 19 1-8 1 27 0-22 1-10 1 29 0 4 1 23 1-39 0 6 1-11 1 45 0 1 1-52 1-34 0 105 1-98 1 3 1 31 0 63 1-20 1-35 0 24 1-22 1 33 0-40 1 52 1-26 0-30 1-29 1 73 0-16 1-38 1 1 0 11 1 4 1 4 0 4 1 0 1-14 0 67 1-60 1-9 0 30 1-36 1 34 0-8 1 23 1-51 1-24 0 79 1-35 1 49 0-26 1-30 1 21 0-39 1 5 1 25 0 3 1-46 1 63 0-7 1 14 1-64 0 52 1-30 1 3 0 39 1-25 1 13 0 8 1 7 1-53 0 0 1 33 1 5 0-32 1 29 1-32 0 15 1 4 1 9 1 11 0-25 1 13 1-25 0 40 1-4 1-27 0 62 1-50 1-4 0-4 1 21 1-6 0-20 1 29 1 14 0 11 1-23 1-21 0-11 1 33 1 18 0 25 1-64 1-19 0 2 1 34 1 7 0-35 1-11 1-19 1 66 0-57 1 52 1-19 0-45 1 20 1 53 0-25 1-6 1 37 0-32 1 3 1 1 0-1 1 25 1-41 0 41 1 11 1-51 0 25 1-42 1 32 0 29 1-8 1-33 0 24 1-2 1-9 0 1 1 45 1-115 1 51 0 37 1-25 1 11 0-1 1-13 1 6 0-20 1 19 1 19 0 7 1-12 1-20 0-3 1-33 1 38 0-20 1 7 1 8 0 11 1 1 1-3 0-28 1 16 1 29 0-20 1 13 1-9 0 36 1 5 1 23 0-74 1 30 1-53 1 51 0-7 1-21 1 46 0-32 1-43 1 76 0-34 1 17 1-36 0-3 1-11 1 3 0 45 1-4 1-55 0 41 1 1 1-20 0 26 1-27 1 43 0-31 1 11 1-91 0 74 1 12 1-17 0 10 1-18 1 45 1-48 0 18 1 43 1-6 0-30 1-31 1-16 0 58 1-5 1-13 0 0 1 60 1-31 0-21 1-6 1-3 0 17 1-15 1 9 0-13 1 30 1-13 0-35 1 101 1-65 0-18 1-19 1 32 0-17 1 58 1-29 0-28 1-30 1 65 1-62 0 54 1-9 1-73 0 63 1 48 1-64 0-34 1 13 1 41 0 9 1 14 1-14 0-31 1 13 1 5 0 2 1-28 1 48 0 12 1-31 1 7 0-36 1 37 1-25 0-2 1 42 1-16 0-16 1-29 1 42 1 41 0-33 1-2 1 25 0 23 1-39 1 12 0-21 1 7 1-1 0 17 1-40 1 20 0 0 1-10 1-13 0 36 1-30 1-30 0 58 1-55 1 57 0-84 1 64 1 46 0-51 1 35 1-40 0-9 1 12 1 32 1 8 0 4 1-14 1-23 0-51 1 32 1 58 0-80 1 53 1-1 0-54 1 51 1-18 0 15 1-8 1-3 0-18 1-28 1 97 0-68 1 15 1-3 0 3 1-12 1 33 0-14 1-12 1-3 0 28 1-36 1 37 0 21 1-7 1-13 1-57 0 62 1-12 1 29 0-50 1 3 1 49 0-58 1 51 1-21 0-73 1 52 1 0 0-23 1-14 1 50 0-28 1 9 1-7 0 18 1 19 1 8 0-8 1-22 1 5 0 19 1 17 1-34 0-31 1 41 1 8 1-28 0 43 1-43 1 12 0 10 1 31 1-72 0 45 1 6 1-23 0 29 1-43 1-13 0-2 1 14 1-10 0 41 1-13 1-38 0 79 1-35 1-49 0-5 1 49 1 34 0-43 1 33 1 17 0-23 1-28 1-25 0 17 1 51 1-34 1-26 0 15 1 6 1 34 0-44 1 64 1-43 0 3 1-38 1 39 0-3 1 12 1-38 0 24 1-45 1 13 0 88 1-73 1-9 0 44 1-28 1 73 0-67 1 17 1-26 0 37 1-29 1 71 0-90 1 30 1 7 1-49 0 16 1-6 1-24 0 52 1-84 1 42 0 4 1 37 1-11 0 31 1 4 1-27 0-30 1 44 1-38 0 11 1 9 1 39 0 31 1-38 1-44 0 37 1 9 1-56 0 26 1-21 1 1 0 19 1 2 1-24 1 20 0-33 1 28 1 9 0-17 1-28 1 20 0 31 1 15 1-1 0 2 1 19 1-57 0 41 1-51 1 67 0-20 1-52 1 44 0 9 1-48 1 30 0 14 1 26 1-63 0 55 1-67 1 5 0 57 1-16 1-39 0 60 1-27 1-8 1-13 0-60 1 68 1 24 0-26 1 20 1-21 0 38 1-111 1 88 0-37 1 30 1 12 0 13 1-10 1 11 0-58 1 30 1-61 0 66 1-52 1 71 0-23 1-12 1-10 0 22 1-21 1-21 0 47 1-33 1 35 1-37 0-7 1 90 1-43 0 16 1-38 1 5 0 1 1 52 1-34 0-15 1-4 1 3 0 26 1-26 1 0 0 34 1-10 1-4 0 30 1-53 1-27 0-13 1 40 1 8 0 19 1-62 1 2 0 29 1-2 1-29 1 32 0 23 1-25 1 67 0-42 1-40 1 15 0-31 1 93 1-63 0-1 1 27 1-28 0-9 1 16 1 28 0 0 1-63 1-7 0 55 1-20 1-4 0 40 1-16 1-25 0 29 1-35 1 6 0 62 1-55 1 21 0-22 1-1 1-21 1 0 0 63 1 24 1-39 0-3 1-29 1 12 0 42 1 28 1-49 0-8 1 18 1-25 0-23 1-4 1 16 0-3 1-52 1 15 0 69 1 4 1-4 0-28 1-11 1 16 0 10 1-21 1 41 0-47 1-43 1 79 1 6 0-28 1 32 1 4 0-99" style="marker:url(#m7)" fill="none" stroke="none" clip-path="url(#crb)"/><path d="M1137 1326l1-59 1 69 0-15 1 21 1-40 0-13 1 32 1 79 0-73 1-54 1 37 0-8 1 56 1-42 0-16 1 18 1-32 1 43 0-57 1 23 1 24 0-57 1 1 1 21 0 81 1-22 1-29 0 35 1-5 1-54 0-18 1 84 1-68 0 48 1-80 1 54 0-43 1 70 1 3 0-13 1 14 1-48 0 34 1 7 1-53 0 54 1-12 1 7 0-26 1 7 1 19 1-13 0 16 1-69 1 83 0-63 1 67 1-91 0 30 1 32 1 5 0-31 1-17 1 56 0 15 1-70 1-12 0 22 1 18 1-60 0 27 1 61 1-53 0-1 1 85 1-16 0 22 1-61 1-5 0-10 1-38 1-23 1 73 0-25 1 51 1 13 0-91 1 5 1 59 0 43 1 6 1-82 0 27 1 50 1-79 0-9 1 85 1-75 0-17 1 101 1-73 0 1 1 36 1 33 0-25 1-20 1 7 0 0 1-5 1-73 0 74 1-61 1 23 1 31 0-9 1 18 1-14 0 18 1 49 1-107 0 80 1 28 1-83 0 2 1 10 1 20 0-42 1 12 1 12 0 4 1 49 1-69 0 48 1-2 1-21 0-2 1-35 1 4 0 39 1-4 1-19 0 52 1-37 1-3 0-8 1 45 1-19 1-9 0-57 1 107 1-111 0 64 1-57 1-14 0-59 1 119 1 5 0-24 1-4 1-33 0 48 1-9 1-44 0 36 1 5 1-28 0 80 1-87 1 117 0-28 1-59 1 76 0-18 1 4 1-38 0-42 1-41 1 87 1-15 0-17 1 96 1-56 0-72 1 49 1 23 0-63 1 53 1-21 0-41 1 69 1 9 0-118 1 110 1-37 0 9 1-48 1 24 0 100 1-39 1-31 0 9 1-33 1 26 0-27 1 40 1-50 0 48 1 21 1-40 0 19 1 3 1-29 1-32 0 90 1-36 1-14 0 56 1-74 1 11 0-7 1-12 1 32 0-18 1 74 1-74 0 68 1-77 1 21 0 13 1-33 1 56 0-46 1-2 1 48 0-51 1 49 1 16 0-10 1 22 1-65 0 59 1-63 1-40 1 52 0 76 1-105 1 99 0-115 1 84 1-15 0-34 1-65 1 105 0-1 1-5 1 17 0-64 1 101 1-39 0-60 1 105 1-77 0 16 1 14 1-62 0-1 1 27 1-36 0 34 1 57 1-90 0 43 1-23 1 50 1-72 0 2 1 34 1 78 0-107 1-27 1 25 0 61 1 7 1-35 0 11 1-59 1 64 0-20 1-16 1 58 0 2 1-55 1 25 0-77 1 31 1 84 0-87 1 7 1 74 0-123 1 57 1 52 0-43 1-15 1-6 0 45 1-42 1 45 1-16 0 5 1 40 1-56 0-17 1 33 1 10 0-16 1-54 1 85 0-87 1-8 1 105 0 20 1-64 1-19 0 79 1-97 1 46 0-19 1 42 1-10 0-39 1 67 1-13 0-26 1-10 1 7 0-42 1 37 1-1 1 29 0-27 1-7 1 23 0 26 1-14 1-25 0-11 1 64 1-48 0-43 1 50 1-71 0 45 1 42 1-29 0-6 1 38 1 15 0-76 1-6 1 15 0-15 1 58 1 9 0-30 1-34 1-19 0 51 1-23 1 44 0-61 1 25 1 6 1 51 0-9 1-11 1-9 0 17 1-89 1 96 0-40 1 61 1-20 0 11 1-67 1 128 0-83 1-10 1-31 0 33 1-87 1 123 0-30 1-20 1 51 0-30 1-2 1-35 0 31 1-54 1 2 0 45 1-27 1-26 1 41 0-59 1 121 1-88 0 1 1 87 1-109 0-26 1 79 1-10 0 46 1-38 1-56 0 62 1-13 1 53 0-33 1-44 1 8 0 25 1-15 1 22 0 2 1-51 1 50 0 21 1-72 1-8 0 78 1-7 1 14 1 29 0-67 1-33 1 45 0-31 1 37 1 13 0-23 1 17 1-20 0 9 1-50 1 101 0-84 1 9 1-11 0 16 1-6 1-56 0 127 1-42 1-24 0 9 1 38 1-7 0-19 1 21 1-124 0 122 1-38 1-20 0-9 1 39 1-65 1 74 0-40 1 54 1-89 0 77 1-31 1-26 0 86 1-5 1-73 0 23 1 63 1-49 0-26 1-12 1 7 0 48 1 12 1-47 0-24 1 9 1-36 0 80 1-17 1 39 0 42 1-32 1-63 0 2 1-35 1-28 1 142 0-58 1-65 1 80 0-101 1 68 1 12 0-28 1 4 1 47 0-47 1 60 1-106 0 50 1 76 1-98 0 0 1 38 1-18 0 25 1 28 1-16 0-13 1-22 1 22 0 26 1-65 1 16 0-25 1 41 1 6 1-26 0-20 1 13 1 51 0-44 1 50 1-52 0-5 1 56 1-57 0 70 1-121 1 80 0-20 1 6 1 23 0-81 1 149 1-93 0 105 1-59 1-22 0-64 1 119 1-39 0 20 1-100 1-8 0 50 1 34 1 10 0 15 1-76 1-18 1 77 0-64 1 35 1 77 0-91 1 29 1-4 0-9 1 14 1 4 0-16 1 54 1-21 0-71 1 89 1-48 0-11 1-22 1 57 0-30 1-27 1-2 0 72 1-53 1-3 0 106 1-79 1 12 0-19 1-6 1-34 1 61 0-16 1-40 1 27 0 67 1-53 1-9 0-25 1 2 1 41 0 11 1-23 1 25 0-62 1 15 1 27 0 29 1-59 1 52 0-73 1 78 1 7 0-58 1 24 1 14 0-51 1 10 1-1 0 36 1 13 1-66 0 7 1 49 1-46 1 16 0 37 1-28 1 36 0-34 1-8 1-22 0-53 1 66 1-52 0 94 1-1 1-11 0 24 1 35 1-138 0 58 1 34 1-38 0 4 1 44 1-21 0-68 1 102 1-82 0 38 1 12 1-81 0 122 1-37 1-10 1 14 0-37 1 34 1-2 0-102 1 36 1 76 0-71 1 57 1-26 0 33 1-90 1 68 0-4 1 10 1-2 0-6 1 11 1 4 0-38 1 72 1-51 0-22 1 45 1-76 0 91 1-51 1 14 0-1 1 16 1-40 1 6 0 29 1-35 1 20 0-4 1-8 1-12 0-5 1 15 1-29 0 3 1 137 1-95 0 32 1-23 1 16 0-21 1 31 1-28 0 3 1-53 1 77 0-41 1 6 1 16 0-6 1-9 1 45 0-75 1-41 1 60 0-68 1 73 1 51 1 10 0-93 1 52 1-56 0 54 1 37 1-70 0 76 1-44 1 83 0-113 1-10 1 78 0-15 1-10 1-48 0 32 1-23 1 73 0-32 1-46 1-5 0-22 1 30 1 21 0 15 1 23 1-54 0 61 1-116 1 69 1 26 0-41 1 27 1 20 0-48 1 27 1 32 0-82 1 82 1-44 0-47 1 65 1 11 0-30 1 18 1 5 0-14 1 2 1 25 0-2 1-28 1-65 0 20 1 32 1 54 0-23 1 46 1-47 0-1 1-26 1 54 0-91 1 60 1-17 1-14 0 53 1-10 1-10 0-25 1-40 1 3 0-42 1 42 1 59 0 38 1-89 1 84 0 23 1-28 1 21 0-61 1-16 1 27 0 25 1-18 1-10 0 22 1-59 1 59 0-99 1 122 1-1 0 34 1-116 1 12 1-16 0-16 1-31 1 111 0-36 1 3 1-59 0 69 1 68 1-67 0 24 1-72 1 81 0-40 1 5 1 9 0-22 1 34 1-29 0-11 1-23 1-3 0 72 1 8 1-42 0-3 1-14 1 27 0 44 1-41 1-29 1 58 0-11 1-91 1 47 0 62 1-31 1-16 0 17 1-57 1 1 0 37 1 9 1 54 0-62 1 14 1 45 0-77 1 12 1 11 0 8 1-3 1 19 0-68 1-5 1 44 0-55 1 115 1-86 0 8 1 42 1-10 0 9 1-22 1-46 1 41 0-18 1-37 1 50 0 45 1-68 1 7 0-1 1 54 1-101 0 90 1-13 1-7 0-30 1 24 1 79 0-62 1-22 1 44 0-75 1 85 1-44 0 94 1-10 1-59 0-5 1-30 1 35 0 5 1-75 1-5 1 73 0-40 1 26 1-1 0 1 1-14 1 31 0 29 1 7 1-72 0 17 1-1 1-57 0-2 1 51 1 21 0 11 1-51 1 47 0-28 1-12 1 52 0-97 1-22 1 152 0-71 1 30 1-32 0-21 1-17 1-23 1 72 0-45 1 34 1 14 0-13 1 6 1 50 0-43 1-1 1-15 0 57 1-5 1-67 0 35 1-19 1-11 0-17 1 98 1-45 0-96 1 114 1 26 0-59 1-7 1 8 0 28 1-53 1 34 0-69 1 96 1-82 0 27 1 28 1 21 1-62 0 1 1 79 1-77 0-7 1 11 1 43 0 1 1 11 1-21 0-30 1 31 1 11 0-69 1 20 1 21 0 59 1-69 1 13 0-1 1 12 1 10 0-60 1-65 1 130 0-103 1 86 1 4 0 10 1-62 1 49 1 12 0 1 1 20 1-81 0 17" style="marker:url(#m8)" fill="none" stroke="none" clip-path="url(#crb)"/><line x1="1102.7" x2="1861.6" y1="361.1" y2="361.1" stroke="#fcce25" stroke-width="3.94"/><line x1="1102.7" x2="1861.6" y1="496.6" y2="496.6" stroke="#fca636" stroke-width="3.94"/><line x1="1102.7" x2="1861.6" y1="628.7" y2="628.7" stroke="#f2844b" stroke-width="3.94"/><line x1="1102.7" x2="1861.6" y1="749.9" y2="749.9" stroke="#e16462" stroke-width="3.94"/><line x1="1102.7" x2="1861.6" y1="865.7" y2="865.7" stroke="#cc4778" stroke-width="3.94"/><line x1="1102.7" x2="1861.6" y1="967.2" y2="967.2" stroke="#b12a90" stroke-width="3.94"/><line x1="1102.7" x2="1861.6" y1="1055.0" y2="1055.0" stroke="#8f0da4" stroke-width="3.94"/><line x1="1102.7" x2="1861.6" y1="1173.3" y2="1173.3" stroke="#6a00a8" stroke-width="3.94"/><line x1="1102.7" x2="1861.6" y1="1310.6" y2="1310.6" stroke="#41049d" stroke-width="3.94"/><g font-weight="bold" font-size="31.5" fill="#000"><text x="197.2" y="47.5" font-size="36.75">White Light O1</text><text x="1132.5" y="44.6">119<tspan dx="5.25">ppm [1.1</tspan><tspan font-weight="normal">×</tspan>]</text><text x="197.2" y="337.3">2.38-2.40<tspan dx="5.25">µm</tspan></text><text x="1132.5" y="343.5">1536<tspan dx="5.25">ppm [1.3</tspan><tspan font-weight="normal">×</tspan>]</text><text x="197.2" y="476.6">2.05-2.07<tspan dx="5.25">µm</tspan></text><text x="1132.5" y="479.1">1080<tspan dx="5.25">ppm [1.2</tspan><tspan font-weight="normal">×</tspan>]</text><text x="197.2" y="611.9">1.77-1.79<tspan dx="5.25">µm</tspan></text><text x="1132.5" y="611.2">798<tspan dx="5.25">ppm [1.1</tspan><tspan font-weight="normal">×</tspan>]</text><text x="197.2" y="730.4">1.53-1.55<tspan dx="5.25">µm</tspan></text><text x="1132.5" y="732.4">666<tspan dx="5.25">ppm [1.2</tspan><tspan font-weight="normal">×</tspan>]</text><text x="197.2" y="847.1">1.32-1.34<tspan dx="5.25">µm</tspan></text><text x="1132.5" y="847.8">523<tspan dx="5.25">ppm [1.2</tspan><tspan font-weight="normal">×</tspan>]</text><text x="197.2" y="948.5">1.14-1.16<tspan dx="5.25">µm</tspan></text><text x="1132.5" y="949.1">571<tspan dx="5.25">ppm [1.2</tspan><tspan font-weight="normal">×</tspan>]</text><text x="197.2" y="1036.6">0.98-1.00<tspan dx="5.25">µm</tspan></text><text x="1132.5" y="1036.7">647<tspan dx="5.25">ppm [1.2</tspan><tspan font-weight="normal">×</tspan>]</text><text x="197.2" y="1142.6">0.68-0.70<tspan dx="5.25">µm</tspan></text><text x="1132.5" y="1139.1">835<tspan dx="5.25">ppm [1.3</tspan><tspan font-weight="normal">×</tspan>]</text><text x="197.2" y="1277.5">0.63-0.65<tspan dx="5.25">µm</tspan></text><text x="1132.5" y="1277.7">1155<tspan dx="5.25">ppm [1.3</tspan><tspan font-weight="normal">×</tspan>]</text></g><g fill="none" stroke="#000" stroke-width="2.1" stroke-linejoin="miter" stroke-linecap="square"><rect x="164.3" y="1.1" width="842.7" height="241.9"/><rect x="164.3" y="243.0" width="842.7" height="1210"/><rect x="1102.7" y="1.1" width="758.9" height="241.9"/><rect x="1102.7" y="243.0" width="758.9" height="1210"/></g><path d="M155.1 67.8H164.3M1093.5 67.8H1102.7M155.1 150.1H164.3M1093.5 150.1H1102.7M155.1 232.4H164.3M1093.5 232.4H1102.7M155.1 336.3H164.3M1093.5 336.3H1102.7M155.1 491.4H164.3M1093.5 491.4H1102.7M155.1 646.5H164.3M1093.5 646.5H1102.7M155.1 801.6H164.3M1093.5 801.6H1102.7M155.1 956.7H164.3M1093.5 956.7H1102.7M155.1 1111.8H164.3M1093.5 1111.8H1102.7M155.1 1266.9H164.3M1093.5 1266.9H1102.7M155.1 1422H164.3M1093.5 1422H1102.7M280.8 1453V1462.2M1207.8 1453V1462.2M448 1453V1462.2M1358.4 1453V1462.2M615.3 1453V1462.2M1509 1453V1462.2M782.5 1453V1462.2M1659.6 1453V1462.2M949.8 1453V1462.2M1810.2 1453V1462.2" stroke="#000" stroke-width="2.1" fill="none"/><g clip-path="url(#cht)"><path d="M1861.6 36.8 L1868.1 36.8 L1868.1 45.6 L1888.4 45.6 L1888.4 53.6 L1928.2 53.6 L1928.2 57.6 L1960.1 57.6 L1960.1 61.6 L1998 61.6 L1998 65.5 L2050 65.5 L2050 69.1 L2012.8 69.1 L2012.8 73.3 L1984.6 73.3 L1984.6 77.2 L1941.6 77.2 L1941.6 81.2 L1898.2 81.2 L1898.2 85.8 L1883.4 85.8 L1883.4 90 L1864.9 90 L1864.9 94 L1864 94 L1864 97.8 L1861.6 97.8 L1861.6 36.8Z" fill="#000" fill-opacity="0.5"/><path d="M1861.6 36.8 L1868.1 36.8 L1868.1 45.6 L1888.4 45.6 L1888.4 53.6 L1928.2 53.6 L1928.2 57.6 L1960.1 57.6 L1960.1 61.6 L1998 61.6 L1998 65.5 L2050 65.5 L2050 69.1 L2012.8 69.1 L2012.8 73.3 L1984.6 73.3 L1984.6 77.2 L1941.6 77.2 L1941.6 81.2 L1898.2 81.2 L1898.2 85.8 L1883.4 85.8 L1883.4 90 L1864.9 90 L1864.9 94 L1864 94 L1864 97.8 L1861.6 97.8" fill="none" stroke="#000" stroke-width="5.25" stroke-linejoin="miter"/></g><g clip-path="url(#chb)"><path d="M1861.6 235.5 L1875.3 235.5 L1875.3 258.3 L1891.8 258.3 L1891.8 281.1 L1935.2 281.1 L1935.2 303.9 L1954.2 303.9 L1954.2 326.7 L2024.2 326.7 L2024.2 349.5 L2039.2 349.5 L2039.2 372.3 L2021.7 372.3 L2021.7 395.1 L1970.3 395.1 L1970.3 417.9 L1925.7 417.9 L1925.7 440.7 L1895.7 440.7 L1895.7 463.5 L1870.5 463.5 L1870.5 486.3 L1864.3 486.3 L1864.3 509.1 L1863.5 509.1 L1863.5 531.9 L1861.6 531.9 L1861.6 235.5Z" fill="#fcce25" fill-opacity="0.5"/><path d="M1861.6 235.5 L1875.3 235.5 L1875.3 258.3 L1891.8 258.3 L1891.8 281.1 L1935.2 281.1 L1935.2 303.9 L1954.2 303.9 L1954.2 326.7 L2024.2 326.7 L2024.2 349.5 L2039.2 349.5 L2039.2 372.3 L2021.7 372.3 L2021.7 395.1 L1970.3 395.1 L1970.3 417.9 L1925.7 417.9 L1925.7 440.7 L1895.7 440.7 L1895.7 463.5 L1870.5 463.5 L1870.5 486.3 L1864.3 486.3 L1864.3 509.1 L1863.5 509.1 L1863.5 531.9 L1861.6 531.9" fill="none" stroke="#fcce25" stroke-width="5.25" stroke-linejoin="miter"/><path d="M1861.6 377.2 L1864.3 377.2 L1864.3 393.5 L1868.6 393.5 L1868.6 409.8 L1875.7 409.8 L1875.7 426.1 L1901.2 426.1 L1901.2 442.4 L1939 442.4 L1939 458.7 L1982.3 458.7 L1982.3 475 L2005.9 475 L2005.9 491.3 L2041.3 491.3 L2041.3 507.6 L2005.9 507.6 L2005.9 523.9 L1971.7 523.9 L1971.7 540.2 L1928.3 540.2 L1928.3 556.5 L1890 556.5 L1890 572.8 L1867 572.8 L1867 589.1 L1865 589.1 L1865 605.4 L1864 605.4 L1864 621.7 L1861.6 621.7 L1861.6 377.2Z" fill="#fca636" fill-opacity="0.5"/><path d="M1861.6 377.2 L1864.3 377.2 L1864.3 393.5 L1868.6 393.5 L1868.6 409.8 L1875.7 409.8 L1875.7 426.1 L1901.2 426.1 L1901.2 442.4 L1939 442.4 L1939 458.7 L1982.3 458.7 L1982.3 475 L2005.9 475 L2005.9 491.3 L2041.3 491.3 L2041.3 507.6 L2005.9 507.6 L2005.9 523.9 L1971.7 523.9 L1971.7 540.2 L1928.3 540.2 L1928.3 556.5 L1890 556.5 L1890 572.8 L1867 572.8 L1867 589.1 L1865 589.1 L1865 605.4 L1864 605.4 L1864 621.7 L1861.6 621.7" fill="none" stroke="#fca636" stroke-width="5.25" stroke-linejoin="miter"/><path d="M1861.6 560 L1868 560 L1868 571.3 L1881.6 571.3 L1881.6 582.6 L1908.3 582.6 L1908.3 593.9 L1950.2 593.9 L1950.2 605.2 L1981.7 605.2 L1981.7 616.5 L2026.1 616.5 L2026.1 627.8 L2021.2 627.8 L2021.2 639.1 L2000.3 639.1 L2000.3 650.4 L1949.4 650.4 L1949.4 661.7 L1922 661.7 L1922 673 L1895.3 673 L1895.3 684.3 L1869.5 684.3 L1869.5 695.6 L1866 695.6 L1866 706.9 L1864 706.9 L1864 718.2 L1861.6 718.2 L1861.6 560Z" fill="#f2844b" fill-opacity="0.5"/><path d="M1861.6 560 L1868 560 L1868 571.3 L1881.6 571.3 L1881.6 582.6 L1908.3 582.6 L1908.3 593.9 L1950.2 593.9 L1950.2 605.2 L1981.7 605.2 L1981.7 616.5 L2026.1 616.5 L2026.1 627.8 L2021.2 627.8 L2021.2 639.1 L2000.3 639.1 L2000.3 650.4 L1949.4 650.4 L1949.4 661.7 L1922 661.7 L1922 673 L1895.3 673 L1895.3 684.3 L1869.5 684.3 L1869.5 695.6 L1866 695.6 L1866 706.9 L1864 706.9 L1864 718.2 L1861.6 718.2" fill="none" stroke="#f2844b" stroke-width="5.25" stroke-linejoin="miter"/><path d="M1861.6 692.3 L1866 692.3 L1866 701.2 L1875.2 701.2 L1875.2 710 L1909.9 710 L1909.9 718.9 L1930.9 718.9 L1930.9 727.8 L1966.4 727.8 L1966.4 736.6 L1999.4 736.6 L1999.4 745.5 L2020.4 745.5 L2020.4 754.4 L1995.4 754.4 L1995.4 763.3 L1968.8 763.3 L1968.8 772.1 L1931.7 772.1 L1931.7 781 L1913.9 781 L1913.9 789.9 L1883.2 789.9 L1883.2 798.7 L1871.1 798.7 L1871.1 807.6 L1864.7 807.6 L1864.7 816.5 L1861.6 816.5 L1861.6 692.3Z" fill="#e16462" fill-opacity="0.5"/><path d="M1861.6 692.3 L1866 692.3 L1866 701.2 L1875.2 701.2 L1875.2 710 L1909.9 710 L1909.9 718.9 L1930.9 718.9 L1930.9 727.8 L1966.4 727.8 L1966.4 736.6 L1999.4 736.6 L1999.4 745.5 L2020.4 745.5 L2020.4 754.4 L1995.4 754.4 L1995.4 763.3 L1968.8 763.3 L1968.8 772.1 L1931.7 772.1 L1931.7 781 L1913.9 781 L1913.9 789.9 L1883.2 789.9 L1883.2 798.7 L1871.1 798.7 L1871.1 807.6 L1864.7 807.6 L1864.7 816.5 L1861.6 816.5" fill="none" stroke="#e16462" stroke-width="5.25" stroke-linejoin="miter"/><path d="M1861.6 817.4 L1864.3 817.4 L1864.3 824.2 L1876.1 824.2 L1876.1 831.1 L1895.4 831.1 L1895.4 837.9 L1919 837.9 L1919 844.8 L1955 844.8 L1955 851.6 L1986 851.6 L1986 858.5 L2013.3 858.5 L2013.3 865.4 L2009 865.4 L2009 872.2 L1992.8 872.2 L1992.8 879 L1942.5 879 L1942.5 885.9 L1917.1 885.9 L1917.1 892.8 L1890.4 892.8 L1890.4 899.6 L1873.6 899.6 L1873.6 906.4 L1866.8 906.4 L1866.8 913.3 L1864 913.3 L1864 920.1 L1861.6 920.1 L1861.6 817.4Z" fill="#cc4778" fill-opacity="0.5"/><path d="M1861.6 817.4 L1864.3 817.4 L1864.3 824.2 L1876.1 824.2 L1876.1 831.1 L1895.4 831.1 L1895.4 837.9 L1919 837.9 L1919 844.8 L1955 844.8 L1955 851.6 L1986 851.6 L1986 858.5 L2013.3 858.5 L2013.3 865.4 L2009 865.4 L2009 872.2 L1992.8 872.2 L1992.8 879 L1942.5 879 L1942.5 885.9 L1917.1 885.9 L1917.1 892.8 L1890.4 892.8 L1890.4 899.6 L1873.6 899.6 L1873.6 906.4 L1866.8 906.4 L1866.8 913.3 L1864 913.3 L1864 920.1 L1861.6 920.1" fill="none" stroke="#cc4778" stroke-width="5.25" stroke-linejoin="miter"/><path d="M1861.6 914.8 L1866.2 914.8 L1866.2 922.9 L1878.6 922.9 L1878.6 931 L1903.4 931 L1903.4 939.1 L1943.8 939.1 L1943.8 947.2 L1961.8 947.2 L1961.8 955.3 L2019.5 955.3 L2019.5 963.4 L2023.3 963.4 L2023.3 971.5 L2005.3 971.5 L2005.3 979.6 L1968 979.6 L1968 987.7 L1934.5 987.7 L1934.5 995.8 L1899.1 995.8 L1899.1 1003.9 L1874.8 1003.9 L1874.8 1012 L1868 1012 L1868 1020.1 L1861.6 1020.1 L1861.6 914.8Z" fill="#b12a90" fill-opacity="0.5"/><path d="M1861.6 914.8 L1866.2 914.8 L1866.2 922.9 L1878.6 922.9 L1878.6 931 L1903.4 931 L1903.4 939.1 L1943.8 939.1 L1943.8 947.2 L1961.8 947.2 L1961.8 955.3 L2019.5 955.3 L2019.5 963.4 L2023.3 963.4 L2023.3 971.5 L2005.3 971.5 L2005.3 979.6 L1968 979.6 L1968 987.7 L1934.5 987.7 L1934.5 995.8 L1899.1 995.8 L1899.1 1003.9 L1874.8 1003.9 L1874.8 1012 L1868 1012 L1868 1020.1 L1861.6 1020.1" fill="none" stroke="#b12a90" stroke-width="5.25" stroke-linejoin="miter"/><path d="M1861.6 1000.6 L1868 1000.6 L1868 1009.2 L1882.3 1009.2 L1882.3 1017.9 L1902.2 1017.9 L1902.2 1026.5 L1949.4 1026.5 L1949.4 1035.2 L1981.7 1035.2 L1981.7 1043.8 L2013.3 1043.8 L2013.3 1052.5 L2025.7 1052.5 L2025.7 1061.2 L1973 1061.2 L1973 1069.8 L1966.1 1069.8 L1966.1 1078.5 L1923.9 1078.5 L1923.9 1087.1 L1899.1 1087.1 L1899.1 1095.8 L1879.2 1095.8 L1879.2 1104.4 L1868.7 1104.4 L1868.7 1113 L1865 1113 L1865 1121.7 L1861.6 1121.7 L1861.6 1000.6Z" fill="#8f0da4" fill-opacity="0.5"/><path d="M1861.6 1000.6 L1868 1000.6 L1868 1009.2 L1882.3 1009.2 L1882.3 1017.9 L1902.2 1017.9 L1902.2 1026.5 L1949.4 1026.5 L1949.4 1035.2 L1981.7 1035.2 L1981.7 1043.8 L2013.3 1043.8 L2013.3 1052.5 L2025.7 1052.5 L2025.7 1061.2 L1973 1061.2 L1973 1069.8 L1966.1 1069.8 L1966.1 1078.5 L1923.9 1078.5 L1923.9 1087.1 L1899.1 1087.1 L1899.1 1095.8 L1879.2 1095.8 L1879.2 1104.4 L1868.7 1104.4 L1868.7 1113 L1865 1113 L1865 1121.7 L1861.6 1121.7" fill="none" stroke="#8f0da4" stroke-width="5.25" stroke-linejoin="miter"/><path d="M1861.6 1106.7 L1866.8 1106.7 L1866.8 1119.1 L1894.7 1119.1 L1894.7 1131.6 L1949.4 1131.6 L1949.4 1144 L1981.7 1144 L1981.7 1156.5 L2022 1156.5 L2022 1168.9 L2028.2 1168.9 L2028.2 1181.4 L2009 1181.4 L2009 1193.8 L1972.3 1193.8 L1972.3 1206.2 L1916.5 1206.2 L1916.5 1218.7 L1896 1218.7 L1896 1231.2 L1878 1231.2 L1878 1243.6 L1866 1243.6 L1866 1256.1 L1861.6 1256.1 L1861.6 1106.7Z" fill="#6a00a8" fill-opacity="0.5"/><path d="M1861.6 1106.7 L1866.8 1106.7 L1866.8 1119.1 L1894.7 1119.1 L1894.7 1131.6 L1949.4 1131.6 L1949.4 1144 L1981.7 1144 L1981.7 1156.5 L2022 1156.5 L2022 1168.9 L2028.2 1168.9 L2028.2 1181.4 L2009 1181.4 L2009 1193.8 L1972.3 1193.8 L1972.3 1206.2 L1916.5 1206.2 L1916.5 1218.7 L1896 1218.7 L1896 1231.2 L1878 1231.2 L1878 1243.6 L1866 1243.6 L1866 1256.1 L1861.6 1256.1" fill="none" stroke="#6a00a8" stroke-width="5.25" stroke-linejoin="miter"/><path d="M1861.6 1196.2 L1864.5 1196.2 L1864.5 1212.7 L1871.8 1212.7 L1871.8 1229.2 L1879.2 1229.2 L1879.2 1245.6 L1925.8 1245.6 L1925.8 1262 L1963.7 1262 L1963.7 1278.5 L1998.4 1278.5 L1998.4 1295 L2003.2 1295 L2003.2 1311.4 L2011.8 1311.4 L2011.8 1327.8 L2001 1327.8 L2001 1344.3 L1943.4 1344.3 L1943.4 1360.8 L1920.5 1360.8 L1920.5 1377.2 L1883.3 1377.2 L1883.3 1393.7 L1868.9 1393.7 L1868.9 1410.1 L1864.9 1410.1 L1864.9 1426.5 L1864 1426.5 L1864 1443 L1861.6 1443 L1861.6 1196.2Z" fill="#41049d" fill-opacity="0.5"/><path d="M1861.6 1196.2 L1864.5 1196.2 L1864.5 1212.7 L1871.8 1212.7 L1871.8 1229.2 L1879.2 1229.2 L1879.2 1245.6 L1925.8 1245.6 L1925.8 1262 L1963.7 1262 L1963.7 1278.5 L1998.4 1278.5 L1998.4 1295 L2003.2 1295 L2003.2 1311.4 L2011.8 1311.4 L2011.8 1327.8 L2001 1327.8 L2001 1344.3 L1943.4 1344.3 L1943.4 1360.8 L1920.5 1360.8 L1920.5 1377.2 L1883.3 1377.2 L1883.3 1393.7 L1868.9 1393.7 L1868.9 1410.1 L1864.9 1410.1 L1864.9 1426.5 L1864 1426.5 L1864 1443 L1861.6 1443" fill="none" stroke="#41049d" stroke-width="5.25" stroke-linejoin="miter"/></g><g font-size="31.5" fill="#000"><text x="145.9" y="80.2" text-anchor="end">1.031</text><text x="145.9" y="162.5" text-anchor="end">1.030</text><text x="145.9" y="244.8" text-anchor="end">1.029</text><text x="145.9" y="348.7" text-anchor="end">1.025</text><text x="145.9" y="503.8" text-anchor="end">1.020</text><text x="145.9" y="658.9" text-anchor="end">1.015</text><text x="145.9" y="814" text-anchor="end">1.010</text><text x="145.9" y="969.1" text-anchor="end">1.005</text><text x="145.9" y="1124.2" text-anchor="end">1.000</text><text x="145.9" y="1279.3" text-anchor="end">0.995</text><text x="145.9" y="1434.4" text-anchor="end">0.990</text><text x="280.8" y="1495.7" text-anchor="middle">−2</text><text x="1207.8" y="1495.7" text-anchor="middle">−2</text><text x="448" y="1495.7" text-anchor="middle">−1</text><text x="1358.4" y="1495.7" text-anchor="middle">−1</text><text x="615.3" y="1495.7" text-anchor="middle">0</text><text x="1509" y="1495.7" text-anchor="middle">0</text><text x="782.5" y="1495.7" text-anchor="middle">1</text><text x="1659.6" y="1495.7" text-anchor="middle">1</text><text x="949.8" y="1495.7" text-anchor="middle">2</text><text x="1810.2" y="1495.7" text-anchor="middle">2</text></g><g font-size="47.25" fill="#000" text-anchor="middle"><text x="585.6" y="1548.1" xml:space="preserve" style="white-space:pre">Time from Transit </text><text x="585.6" y="1600.8">Midpoint (hours)</text><text x="1482.2" y="1548.1" xml:space="preserve" style="white-space:pre">Time from Transit </text><text x="1482.2" y="1600.8">Midpoint (hours)</text><text transform="translate(35.8 848.7) rotate(-90)">Relative Flux + Offset</text><text transform="translate(1073.7 848.75) rotate(-90)">Residuals + Offset</text></g></svg></body></html>
